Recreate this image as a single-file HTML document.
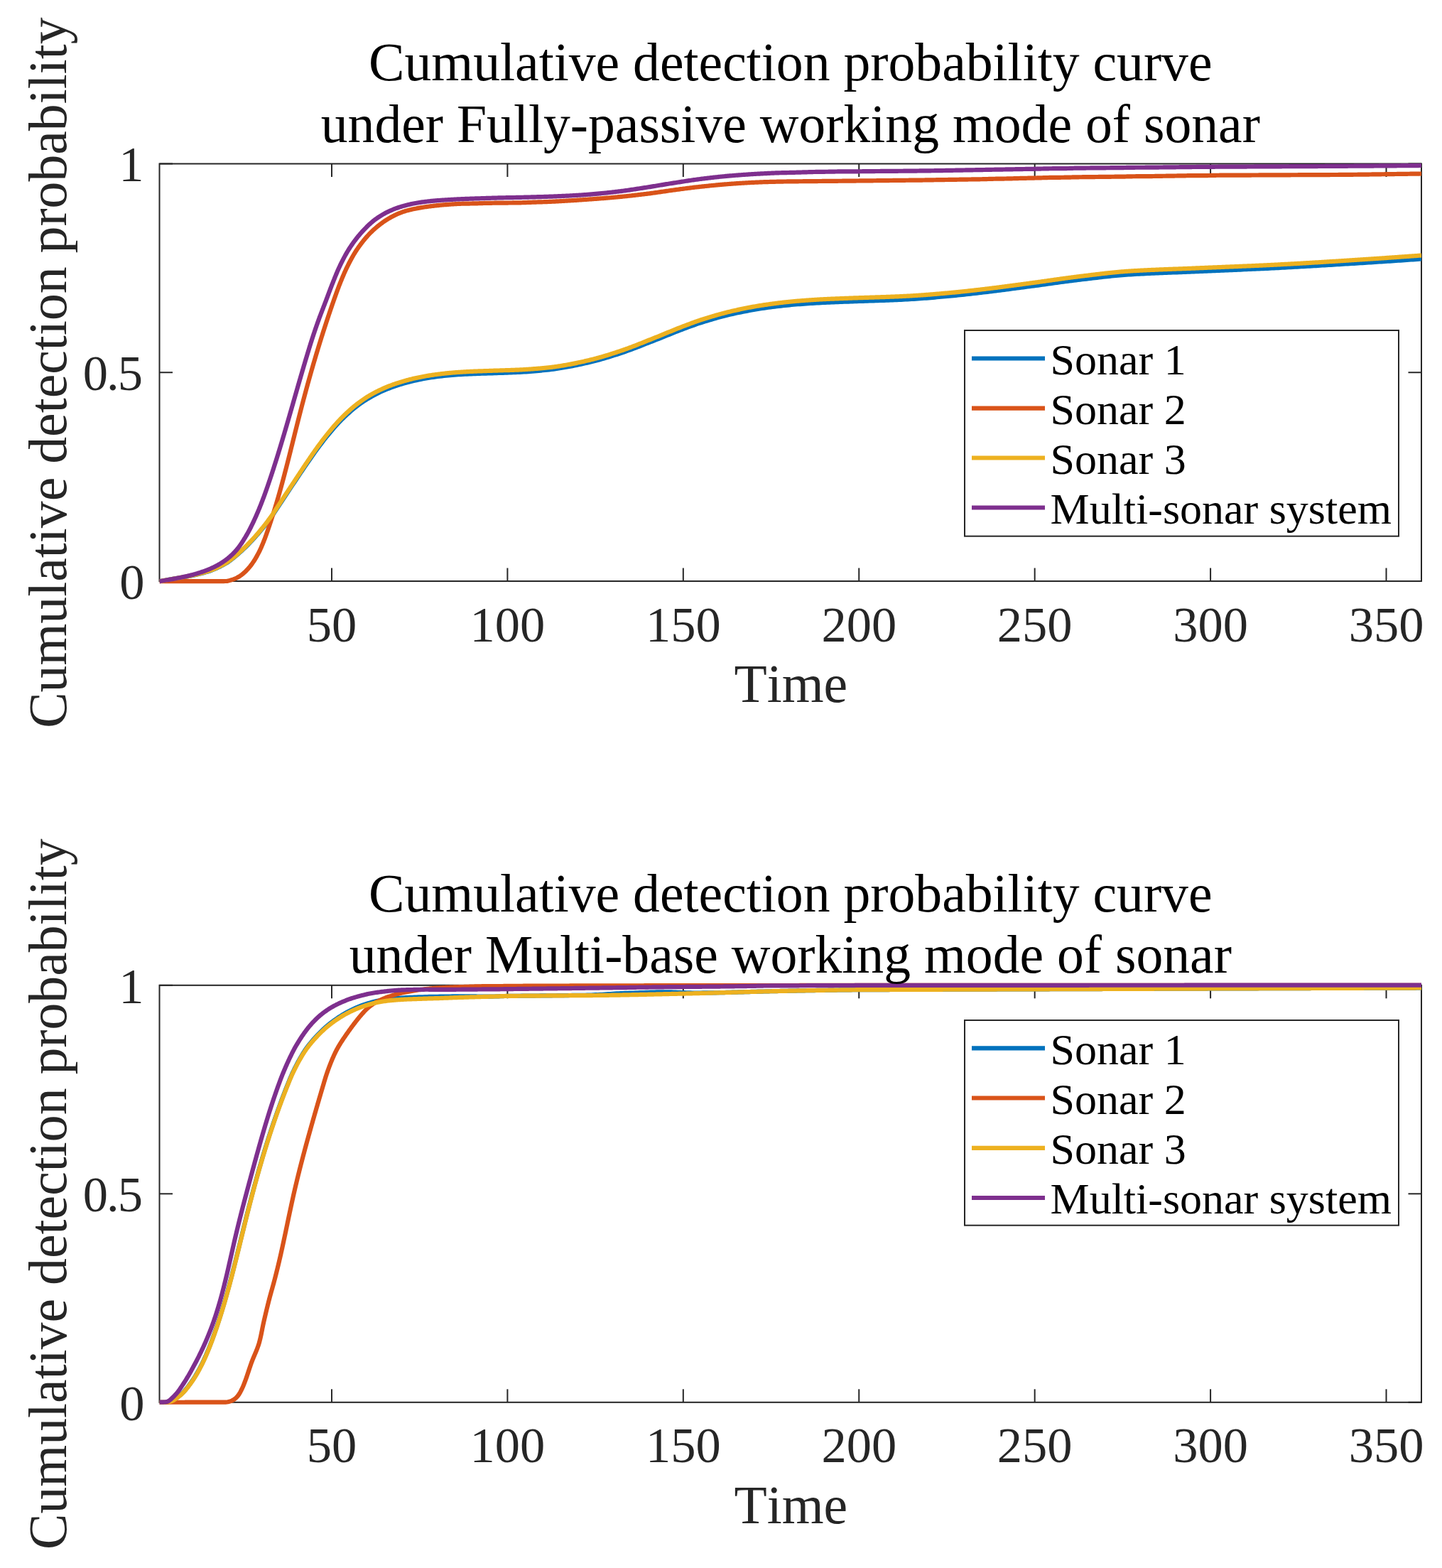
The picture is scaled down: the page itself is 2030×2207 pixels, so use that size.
<!DOCTYPE html>
<html><head><meta charset="utf-8"><title>Cumulative detection probability curves</title>
<style>html,body{margin:0;padding:0;background:#fff;}svg{display:block;}text{font-kerning:none;}</style>
</head><body>
<svg xmlns="http://www.w3.org/2000/svg" width="2030" height="2207" viewBox="0 0 2030 2207">
<defs><clipPath id="c1"><rect x="224.5" y="226.5" width="1776.5" height="595.5"/></clipPath><clipPath id="c2"><rect x="224.5" y="1382.8" width="1776.5" height="595.0"/></clipPath></defs>
<rect width="2030" height="2207" fill="#fff"/>
<g stroke="#262626" stroke-width="2" fill="none">
<line x1="466.97" y1="818.0" x2="466.97" y2="799.5"/><line x1="466.97" y1="230.5" x2="466.97" y2="249.0"/>
<line x1="714.40" y1="818.0" x2="714.40" y2="799.5"/><line x1="714.40" y1="230.5" x2="714.40" y2="249.0"/>
<line x1="961.82" y1="818.0" x2="961.82" y2="799.5"/><line x1="961.82" y1="230.5" x2="961.82" y2="249.0"/>
<line x1="1209.25" y1="818.0" x2="1209.25" y2="799.5"/><line x1="1209.25" y1="230.5" x2="1209.25" y2="249.0"/>
<line x1="1456.67" y1="818.0" x2="1456.67" y2="799.5"/><line x1="1456.67" y1="230.5" x2="1456.67" y2="249.0"/>
<line x1="1704.09" y1="818.0" x2="1704.09" y2="799.5"/><line x1="1704.09" y1="230.5" x2="1704.09" y2="249.0"/>
<line x1="1951.52" y1="818.0" x2="1951.52" y2="799.5"/><line x1="1951.52" y1="230.5" x2="1951.52" y2="249.0"/>
<line x1="224.5" y1="818.00" x2="243.0" y2="818.00"/><line x1="2001.0" y1="818.00" x2="1982.5" y2="818.00"/>
<line x1="224.5" y1="524.25" x2="243.0" y2="524.25"/><line x1="2001.0" y1="524.25" x2="1982.5" y2="524.25"/>
<line x1="224.5" y1="230.50" x2="243.0" y2="230.50"/><line x1="2001.0" y1="230.50" x2="1982.5" y2="230.50"/>
<rect x="224.5" y="230.5" width="1776.5" height="587.5"/>
</g>
<g clip-path="url(#c1)" fill="none" stroke-width="6.2" stroke-linejoin="round" stroke-linecap="butt">
<path d="M224.50,818.30 L227.47,817.76 L230.43,817.22 L233.40,816.69 L236.36,816.15 L239.33,815.62 L242.29,815.10 L245.26,814.57 L248.23,814.06 L251.19,813.57 L254.16,813.08 L257.12,812.59 L260.09,812.09 L263.06,811.57 L266.02,811.02 L268.99,810.42 L271.95,809.80 L274.92,809.16 L277.88,808.48 L280.85,807.77 L283.82,807.02 L286.78,806.23 L289.75,805.39 L292.71,804.47 L295.68,803.47 L298.64,802.38 L301.61,801.21 L304.58,799.93 L307.54,798.56 L310.51,797.10 L313.47,795.55 L316.44,793.91 L319.40,792.10 L322.37,790.07 L325.34,787.89 L328.30,785.58 L331.27,783.15 L334.23,780.63 L337.20,778.02 L340.17,775.36 L343.13,772.59 L346.10,769.70 L349.06,766.71 L352.03,763.65 L354.99,760.53 L357.96,757.34 L360.93,754.04 L363.89,750.62 L366.86,747.08 L369.82,743.45 L372.79,739.73 L375.75,735.92 L378.72,732.01 L381.69,727.95 L384.65,723.69 L387.62,719.29 L390.58,714.79 L393.55,710.24 L396.52,705.69 L399.48,701.19 L402.45,696.72 L405.41,692.26 L408.38,687.82 L411.34,683.38 L414.31,678.95 L417.28,674.52 L420.24,670.08 L423.21,665.64 L426.17,661.22 L429.14,656.83 L432.10,652.50 L435.07,648.21 L438.04,643.93 L441.00,639.69 L443.97,635.51 L446.93,631.42 L449.90,627.43 L452.86,623.54 L455.83,619.71 L458.80,615.94 L461.76,612.26 L464.73,608.66 L467.69,605.16 L470.66,601.76 L473.63,598.45 L476.59,595.25 L479.56,592.16 L482.52,589.18 L485.49,586.32 L488.45,583.54 L491.42,580.84 L494.39,578.24 L497.35,575.75 L500.32,573.36 L503.28,571.08 L506.25,568.88 L509.21,566.76 L512.18,564.73 L515.15,562.80 L518.11,560.96 L521.08,559.21 L524.04,557.53 L527.01,555.93 L529.97,554.40 L532.94,552.94 L535.91,551.55 L538.87,550.23 L541.84,548.96 L544.80,547.73 L547.77,546.56 L550.74,545.43 L553.70,544.35 L556.67,543.32 L559.63,542.35 L562.60,541.41 L565.56,540.51 L568.53,539.63 L571.50,538.79 L574.46,537.98 L577.43,537.21 L580.39,536.48 L583.36,535.78 L586.32,535.12 L589.29,534.50 L592.26,533.89 L595.22,533.31 L598.19,532.76 L601.15,532.23 L604.12,531.74 L607.09,531.26 L610.05,530.82 L613.02,530.42 L615.98,530.03 L618.95,529.66 L621.91,529.31 L624.88,528.98 L627.85,528.66 L630.81,528.38 L633.78,528.11 L636.74,527.86 L639.71,527.64 L642.67,527.43 L645.64,527.23 L648.61,527.04 L651.57,526.87 L654.54,526.70 L657.50,526.55 L660.47,526.41 L663.43,526.28 L666.40,526.16 L669.37,526.05 L672.33,525.94 L675.30,525.85 L678.26,525.76 L681.23,525.66 L684.20,525.57 L687.16,525.48 L690.13,525.38 L693.09,525.29 L696.06,525.20 L699.02,525.10 L701.99,525.01 L704.96,524.91 L707.92,524.80 L710.89,524.70 L713.85,524.59 L716.82,524.49 L719.78,524.38 L722.75,524.27 L725.72,524.14 L728.68,524.00 L731.65,523.85 L734.61,523.68 L737.58,523.49 L740.55,523.29 L743.51,523.08 L746.48,522.85 L749.44,522.61 L752.41,522.36 L755.37,522.10 L758.34,521.82 L761.31,521.54 L764.27,521.25 L767.24,520.94 L770.20,520.63 L773.17,520.31 L776.13,519.97 L779.10,519.58 L782.07,519.16 L785.03,518.72 L788.00,518.25 L790.96,517.77 L793.93,517.27 L796.89,516.75 L799.86,516.22 L802.83,515.66 L805.79,515.09 L808.76,514.51 L811.72,513.90 L814.69,513.28 L817.66,512.64 L820.62,511.99 L823.59,511.32 L826.55,510.64 L829.52,509.94 L832.48,509.23 L835.45,508.51 L838.42,507.75 L841.38,506.97 L844.35,506.16 L847.31,505.33 L850.28,504.47 L853.24,503.59 L856.21,502.70 L859.18,501.78 L862.14,500.85 L865.11,499.90 L868.07,498.94 L871.04,497.97 L874.01,496.99 L876.97,496.00 L879.94,494.99 L882.90,493.95 L885.87,492.88 L888.83,491.79 L891.80,490.68 L894.77,489.55 L897.73,488.41 L900.70,487.25 L903.66,486.09 L906.63,484.92 L909.59,483.74 L912.56,482.57 L915.53,481.41 L918.49,480.25 L921.46,479.10 L924.42,477.94 L927.39,476.76 L930.35,475.57 L933.32,474.38 L936.29,473.18 L939.25,471.98 L942.22,470.78 L945.18,469.58 L948.15,468.40 L951.12,467.22 L954.08,466.05 L957.05,464.90 L960.01,463.77 L962.98,462.66 L965.94,461.56 L968.91,460.46 L971.88,459.37 L974.84,458.29 L977.81,457.23 L980.77,456.19 L983.74,455.18 L986.70,454.20 L989.67,453.26 L992.64,452.34 L995.60,451.44 L998.57,450.55 L1001.53,449.67 L1004.50,448.81 L1007.46,447.96 L1010.43,447.13 L1013.40,446.32 L1016.36,445.53 L1019.33,444.75 L1022.29,444.00 L1025.26,443.28 L1028.23,442.57 L1031.19,441.89 L1034.16,441.23 L1037.12,440.59 L1040.09,439.97 L1043.05,439.35 L1046.02,438.75 L1048.99,438.17 L1051.95,437.60 L1054.92,437.04 L1057.88,436.50 L1060.85,435.98 L1063.81,435.48 L1066.78,434.99 L1069.75,434.52 L1072.71,434.06 L1075.68,433.63 L1078.64,433.21 L1081.61,432.80 L1084.58,432.40 L1087.54,432.02 L1090.51,431.64 L1093.47,431.27 L1096.44,430.91 L1099.40,430.56 L1102.37,430.23 L1105.34,429.91 L1108.30,429.60 L1111.27,429.31 L1114.23,429.03 L1117.20,428.77 L1120.16,428.52 L1123.13,428.28 L1126.10,428.05 L1129.06,427.82 L1132.03,427.61 L1134.99,427.40 L1137.96,427.20 L1140.92,427.01 L1143.89,426.82 L1146.86,426.64 L1149.82,426.47 L1152.79,426.30 L1155.75,426.14 L1158.72,425.99 L1161.69,425.84 L1164.65,425.70 L1167.62,425.56 L1170.58,425.44 L1173.55,425.32 L1176.51,425.21 L1179.48,425.09 L1182.45,424.98 L1185.41,424.88 L1188.38,424.76 L1191.34,424.65 L1194.31,424.54 L1197.27,424.43 L1200.24,424.32 L1203.21,424.22 L1206.17,424.12 L1209.14,424.02 L1212.10,423.92 L1215.07,423.82 L1218.04,423.72 L1221.00,423.62 L1223.97,423.52 L1226.93,423.42 L1229.90,423.32 L1232.86,423.22 L1235.83,423.12 L1238.80,423.02 L1241.76,422.91 L1244.73,422.80 L1247.69,422.69 L1250.66,422.58 L1253.62,422.46 L1256.59,422.34 L1259.56,422.21 L1262.52,422.08 L1265.49,421.95 L1268.45,421.81 L1271.42,421.66 L1274.38,421.51 L1277.35,421.35 L1280.32,421.19 L1283.28,421.01 L1286.25,420.83 L1289.21,420.63 L1292.18,420.43 L1295.15,420.21 L1298.11,420.00 L1301.08,419.77 L1304.04,419.54 L1307.01,419.30 L1309.97,419.05 L1312.94,418.80 L1315.91,418.54 L1318.87,418.28 L1321.84,418.02 L1324.80,417.75 L1327.77,417.48 L1330.73,417.21 L1333.70,416.94 L1336.67,416.66 L1339.63,416.38 L1342.60,416.10 L1345.56,415.82 L1348.53,415.52 L1351.49,415.22 L1354.46,414.91 L1357.43,414.59 L1360.39,414.26 L1363.36,413.93 L1366.32,413.60 L1369.29,413.26 L1372.26,412.91 L1375.22,412.57 L1378.19,412.22 L1381.15,411.86 L1384.12,411.51 L1387.08,411.16 L1390.05,410.80 L1393.02,410.45 L1395.98,410.09 L1398.95,409.72 L1401.91,409.35 L1404.88,408.98 L1407.84,408.60 L1410.81,408.22 L1413.78,407.84 L1416.74,407.45 L1419.71,407.07 L1422.67,406.68 L1425.64,406.29 L1428.61,405.89 L1431.57,405.50 L1434.54,405.11 L1437.50,404.71 L1440.47,404.32 L1443.43,403.92 L1446.40,403.53 L1449.37,403.14 L1452.33,402.75 L1455.30,402.36 L1458.26,401.96 L1461.23,401.57 L1464.19,401.16 L1467.16,400.76 L1470.13,400.35 L1473.09,399.93 L1476.06,399.52 L1479.02,399.11 L1481.99,398.69 L1484.95,398.28 L1487.92,397.86 L1490.89,397.45 L1493.85,397.05 L1496.82,396.64 L1499.78,396.24 L1502.75,395.85 L1505.72,395.46 L1508.68,395.08 L1511.65,394.70 L1514.61,394.33 L1517.58,393.98 L1520.54,393.63 L1523.51,393.28 L1526.48,392.93 L1529.44,392.57 L1532.41,392.22 L1535.37,391.86 L1538.34,391.51 L1541.30,391.16 L1544.27,390.81 L1547.24,390.46 L1550.20,390.12 L1553.17,389.79 L1556.13,389.46 L1559.10,389.13 L1562.07,388.82 L1565.03,388.51 L1568.00,388.22 L1570.96,387.93 L1573.93,387.66 L1576.89,387.40 L1579.86,387.15 L1582.83,386.91 L1585.79,386.69 L1588.76,386.49 L1591.72,386.30 L1594.69,386.12 L1597.65,385.95 L1600.62,385.78 L1603.59,385.62 L1606.55,385.46 L1609.52,385.30 L1612.48,385.16 L1615.45,385.01 L1618.41,384.87 L1621.38,384.74 L1624.35,384.60 L1627.31,384.47 L1630.28,384.35 L1633.24,384.22 L1636.21,384.10 L1639.18,383.98 L1642.14,383.86 L1645.11,383.74 L1648.07,383.63 L1651.04,383.51 L1654.00,383.40 L1656.97,383.28 L1659.94,383.17 L1662.90,383.05 L1665.87,382.93 L1668.83,382.81 L1671.80,382.70 L1674.76,382.57 L1677.73,382.45 L1680.70,382.33 L1683.66,382.20 L1686.63,382.07 L1689.59,381.93 L1692.56,381.80 L1695.53,381.67 L1698.49,381.54 L1701.46,381.41 L1704.42,381.28 L1707.39,381.16 L1710.35,381.03 L1713.32,380.90 L1716.29,380.78 L1719.25,380.65 L1722.22,380.53 L1725.18,380.40 L1728.15,380.28 L1731.11,380.15 L1734.08,380.03 L1737.05,379.90 L1740.01,379.78 L1742.98,379.65 L1745.94,379.53 L1748.91,379.40 L1751.87,379.27 L1754.84,379.14 L1757.81,379.01 L1760.77,378.88 L1763.74,378.75 L1766.70,378.61 L1769.67,378.48 L1772.64,378.34 L1775.60,378.21 L1778.57,378.07 L1781.53,377.93 L1784.50,377.78 L1787.46,377.64 L1790.43,377.49 L1793.40,377.34 L1796.36,377.19 L1799.33,377.04 L1802.29,376.89 L1805.26,376.73 L1808.22,376.57 L1811.19,376.41 L1814.16,376.25 L1817.12,376.09 L1820.09,375.92 L1823.05,375.76 L1826.02,375.59 L1828.98,375.42 L1831.95,375.25 L1834.92,375.08 L1837.88,374.91 L1840.85,374.74 L1843.81,374.57 L1846.78,374.39 L1849.75,374.22 L1852.71,374.04 L1855.68,373.86 L1858.64,373.69 L1861.61,373.51 L1864.57,373.33 L1867.54,373.15 L1870.51,372.97 L1873.47,372.79 L1876.44,372.61 L1879.40,372.43 L1882.37,372.25 L1885.33,372.06 L1888.30,371.88 L1891.27,371.70 L1894.23,371.52 L1897.20,371.34 L1900.16,371.16 L1903.13,370.97 L1906.10,370.79 L1909.06,370.61 L1912.03,370.42 L1914.99,370.23 L1917.96,370.05 L1920.92,369.86 L1923.89,369.67 L1926.86,369.48 L1929.82,369.29 L1932.79,369.10 L1935.75,368.91 L1938.72,368.72 L1941.68,368.52 L1944.65,368.33 L1947.62,368.13 L1950.58,367.94 L1953.55,367.74 L1956.51,367.54 L1959.48,367.35 L1962.44,367.15 L1965.41,366.95 L1968.38,366.75 L1971.34,366.55 L1974.31,366.35 L1977.27,366.14 L1980.24,365.94 L1983.21,365.74 L1986.17,365.53 L1989.14,365.33 L1992.10,365.12 L1995.07,364.92 L1998.03,364.71 L2001.00,364.50" stroke="#0072BD"/>
<path d="M224.50,818.20 L225.92,818.20 L227.34,818.19 L228.76,818.19 L230.18,818.18 L231.60,818.18 L233.02,818.18 L234.44,818.17 L235.86,818.17 L237.28,818.16 L238.70,818.16 L240.12,818.16 L241.54,818.15 L242.96,818.15 L244.38,818.14 L245.80,818.14 L247.22,818.13 L248.64,818.13 L250.06,818.12 L251.48,818.12 L252.89,818.11 L254.31,818.11 L255.73,818.11 L257.15,818.10 L258.57,818.10 L259.99,818.10 L261.41,818.10 L262.83,818.10 L264.25,818.10 L265.67,818.10 L267.09,818.10 L268.51,818.10 L269.93,818.10 L271.35,818.10 L272.77,818.10 L274.19,818.10 L275.61,818.10 L277.03,818.10 L278.45,818.10 L279.87,818.10 L281.29,818.10 L282.71,818.10 L284.13,818.10 L285.55,818.10 L286.97,818.10 L288.39,818.10 L289.81,818.10 L291.23,818.10 L292.65,818.10 L294.07,818.10 L295.49,818.10 L296.91,818.10 L298.33,818.10 L299.75,818.10 L301.17,818.10 L302.59,818.10 L304.01,818.10 L305.44,818.09 L306.87,818.09 L308.29,818.08 L309.72,818.07 L311.14,818.07 L312.56,818.06 L313.97,818.04 L315.39,818.03 L316.80,818.01 L318.20,818.00 L319.60,817.87 L321.00,817.60 L322.39,817.25 L323.77,816.86 L325.14,816.47 L326.50,816.07 L327.85,815.62 L329.19,815.13 L330.52,814.60 L331.82,814.03 L333.09,813.43 L334.34,812.78 L335.59,812.07 L336.81,811.32 L338.00,810.54 L339.17,809.73 L340.31,808.90 L341.42,808.04 L342.52,807.14 L343.59,806.20 L344.65,805.24 L345.69,804.25 L346.70,803.25 L347.69,802.22 L348.67,801.19 L349.61,800.15 L350.54,799.08 L351.45,797.99 L352.34,796.88 L353.21,795.75 L354.07,794.60 L354.90,793.45 L355.71,792.29 L356.50,791.12 L357.28,789.94 L358.05,788.74 L358.80,787.53 L359.53,786.32 L360.26,785.09 L360.97,783.86 L361.67,782.62 L362.36,781.37 L363.03,780.12 L363.70,778.87 L364.35,777.61 L364.99,776.34 L365.61,775.07 L366.22,773.78 L366.81,772.49 L367.40,771.20 L367.97,769.90 L368.53,768.60 L369.09,767.29 L369.64,765.98 L370.18,764.67 L370.71,763.35 L371.24,762.03 L371.76,760.71 L372.28,759.39 L372.78,758.06 L373.28,756.73 L373.78,755.40 L374.26,754.07 L374.74,752.73 L375.22,751.39 L375.69,750.05 L376.16,748.72 L376.63,747.38 L377.10,746.04 L377.56,744.69 L378.02,743.35 L378.48,742.01 L378.94,740.66 L379.40,739.32 L379.85,737.97 L380.30,736.62 L380.75,735.28 L381.19,733.93 L381.63,732.58 L382.07,731.23 L382.51,729.88 L382.94,728.53 L383.37,727.17 L383.80,725.82 L384.23,724.47 L384.65,723.11 L385.07,721.76 L385.50,720.40 L385.92,719.05 L386.33,717.69 L386.75,716.33 L387.16,714.97 L387.58,713.61 L387.99,712.25 L388.40,710.89 L388.80,709.53 L389.21,708.17 L389.61,706.81 L390.01,705.45 L390.41,704.09 L390.81,702.73 L391.21,701.36 L391.61,700.00 L392.00,698.64 L392.39,697.27 L392.78,695.91 L393.17,694.54 L393.56,693.18 L393.94,691.81 L394.33,690.44 L394.71,689.07 L395.09,687.71 L395.47,686.34 L395.84,684.97 L396.22,683.60 L396.59,682.23 L396.97,680.86 L397.34,679.49 L397.71,678.12 L398.08,676.75 L398.45,675.38 L398.82,674.01 L399.19,672.64 L399.55,671.26 L399.92,669.89 L400.28,668.52 L400.64,667.15 L401.00,665.77 L401.36,664.40 L401.72,663.03 L402.08,661.65 L402.44,660.28 L402.79,658.90 L403.15,657.53 L403.50,656.15 L403.86,654.78 L404.21,653.40 L404.57,652.03 L404.92,650.65 L405.27,649.28 L405.62,647.90 L405.98,646.53 L406.33,645.15 L406.67,643.78 L407.02,642.40 L407.37,641.02 L407.72,639.65 L408.06,638.27 L408.41,636.89 L408.76,635.52 L409.10,634.14 L409.45,632.76 L409.79,631.38 L410.14,630.01 L410.48,628.63 L410.83,627.25 L411.17,625.88 L411.52,624.50 L411.86,623.12 L412.21,621.74 L412.55,620.37 L412.90,618.99 L413.24,617.61 L413.58,616.23 L413.93,614.86 L414.27,613.48 L414.61,612.10 L414.96,610.72 L415.30,609.35 L415.64,607.97 L415.99,606.59 L416.33,605.21 L416.68,603.84 L417.02,602.46 L417.37,601.08 L417.72,599.71 L418.06,598.33 L418.41,596.95 L418.76,595.58 L419.11,594.20 L419.45,592.82 L419.80,591.45 L420.15,590.07 L420.50,588.69 L420.85,587.32 L421.20,585.94 L421.55,584.57 L421.90,583.19 L422.25,581.81 L422.60,580.44 L422.96,579.06 L423.31,577.69 L423.66,576.32 L424.02,574.94 L424.38,573.57 L424.74,572.19 L425.09,570.82 L425.45,569.45 L425.81,568.07 L426.17,566.70 L426.54,565.33 L426.90,563.95 L427.26,562.58 L427.62,561.21 L427.99,559.84 L428.36,558.46 L428.72,557.09 L429.09,555.72 L429.46,554.35 L429.83,552.98 L430.20,551.61 L430.57,550.24 L430.94,548.87 L431.31,547.50 L431.69,546.13 L432.06,544.76 L432.44,543.39 L432.81,542.02 L433.19,540.65 L433.57,539.28 L433.95,537.92 L434.33,536.55 L434.71,535.18 L435.09,533.81 L435.47,532.45 L435.86,531.08 L436.24,529.71 L436.63,528.35 L437.01,526.98 L437.40,525.61 L437.79,524.25 L438.18,522.88 L438.57,521.52 L438.96,520.15 L439.35,518.79 L439.75,517.42 L440.14,516.06 L440.54,514.70 L440.93,513.33 L441.33,511.97 L441.73,510.61 L442.13,509.25 L442.53,507.88 L442.93,506.52 L443.33,505.16 L443.74,503.80 L444.14,502.44 L444.54,501.08 L444.95,499.72 L445.36,498.36 L445.77,497.00 L446.18,495.64 L446.59,494.28 L447.00,492.92 L447.41,491.56 L447.82,490.20 L448.24,488.84 L448.65,487.49 L449.07,486.13 L449.49,484.77 L449.91,483.42 L450.33,482.06 L450.75,480.70 L451.17,479.35 L451.59,477.99 L452.02,476.64 L452.44,475.28 L452.87,473.93 L453.30,472.58 L453.72,471.22 L454.15,469.87 L454.58,468.52 L455.02,467.16 L455.45,465.81 L455.88,464.46 L456.32,463.11 L456.75,461.76 L457.19,460.41 L457.63,459.06 L458.07,457.70 L458.51,456.36 L458.95,455.01 L459.39,453.66 L459.84,452.31 L460.28,450.96 L460.73,449.61 L461.17,448.26 L461.62,446.92 L462.07,445.57 L462.52,444.22 L462.97,442.88 L463.42,441.53 L463.87,440.18 L464.33,438.84 L464.78,437.49 L465.24,436.15 L465.70,434.81 L466.16,433.46 L466.62,432.12 L467.08,430.78 L467.54,429.44 L468.01,428.09 L468.48,426.75 L468.95,425.41 L469.42,424.08 L469.89,422.74 L470.36,421.40 L470.83,420.06 L471.31,418.72 L471.78,417.38 L472.26,416.04 L472.73,414.70 L473.21,413.37 L473.69,412.03 L474.18,410.69 L474.67,409.36 L475.16,408.03 L475.65,406.70 L476.15,405.37 L476.66,404.04 L477.16,402.72 L477.68,401.39 L478.20,400.07 L478.72,398.76 L479.25,397.44 L479.78,396.12 L480.31,394.80 L480.85,393.49 L481.39,392.17 L481.93,390.86 L482.48,389.54 L483.03,388.23 L483.59,386.92 L484.16,385.62 L484.72,384.32 L485.30,383.02 L485.88,381.72 L486.47,380.43 L487.07,379.14 L487.67,377.86 L488.28,376.59 L488.90,375.31 L489.53,374.04 L490.16,372.78 L490.80,371.51 L491.45,370.24 L492.10,368.98 L492.77,367.71 L493.44,366.45 L494.11,365.19 L494.80,363.94 L495.49,362.69 L496.19,361.45 L496.90,360.21 L497.62,358.98 L498.35,357.76 L499.08,356.55 L499.83,355.34 L500.58,354.14 L501.35,352.96 L502.12,351.78 L502.91,350.61 L503.70,349.46 L504.51,348.30 L505.33,347.14 L506.16,345.99 L507.00,344.84 L507.85,343.69 L508.71,342.55 L509.59,341.41 L510.47,340.28 L511.36,339.16 L512.27,338.04 L513.18,336.93 L514.10,335.83 L515.03,334.74 L515.97,333.66 L516.92,332.59 L517.88,331.53 L518.85,330.49 L519.82,329.46 L520.80,328.44 L521.79,327.44 L522.79,326.45 L523.80,325.48 L524.81,324.52 L525.84,323.57 L526.88,322.63 L527.93,321.69 L529.00,320.76 L530.08,319.84 L531.18,318.93 L532.29,318.02 L533.41,317.12 L534.54,316.24 L535.68,315.36 L536.83,314.50 L537.99,313.64 L539.15,312.81 L540.33,311.98 L541.51,311.17 L542.70,310.38 L543.90,309.61 L545.10,308.85 L546.31,308.11 L547.52,307.39 L548.74,306.69 L549.96,306.00 L551.19,305.33 L552.43,304.67 L553.69,304.01 L554.96,303.37 L556.25,302.74 L557.54,302.12 L558.84,301.52 L560.15,300.93 L561.46,300.37 L562.79,299.82 L564.12,299.29 L565.45,298.79 L566.78,298.31 L568.12,297.86 L569.46,297.44 L570.81,297.03 L572.16,296.64 L573.53,296.27 L574.90,295.91 L576.28,295.56 L577.66,295.22 L579.05,294.90 L580.44,294.58 L581.83,294.28 L583.23,293.99 L584.63,293.71 L586.03,293.43 L587.42,293.17 L588.82,292.91 L590.21,292.66 L591.61,292.42 L593.01,292.18 L594.41,291.95 L595.81,291.73 L597.22,291.51 L598.62,291.30 L600.03,291.10 L601.44,290.90 L602.84,290.71 L604.25,290.52 L605.66,290.34 L607.07,290.17 L608.48,290.00 L609.89,289.83 L611.30,289.67 L612.71,289.51 L614.12,289.35 L615.53,289.20 L616.94,289.05 L618.36,288.90 L619.77,288.77 L621.18,288.63 L622.60,288.50 L624.01,288.38 L625.43,288.26 L626.84,288.15 L628.26,288.04 L629.67,287.93 L631.09,287.83 L632.51,287.72 L633.92,287.62 L635.34,287.52 L636.76,287.42 L638.17,287.33 L639.59,287.23 L641.01,287.15 L642.43,287.07 L643.84,286.99 L645.26,286.92 L646.68,286.86 L648.10,286.81 L649.52,286.76 L650.94,286.72 L652.35,286.69 L653.77,286.66 L655.19,286.63 L656.61,286.60 L658.03,286.58 L659.45,286.56 L660.87,286.54 L662.29,286.51 L663.71,286.49 L665.13,286.46 L666.55,286.44 L667.97,286.41 L669.39,286.37 L670.81,286.33 L672.23,286.29 L673.65,286.25 L675.07,286.20 L676.48,286.15 L677.90,286.10 L679.32,286.05 L680.74,286.01 L682.16,285.96 L683.58,285.92 L685.00,285.89 L686.42,285.86 L687.84,285.84 L689.26,285.82 L690.68,285.80 L692.10,285.78 L693.52,285.76 L694.94,285.74 L696.36,285.72 L697.78,285.71 L699.19,285.69 L700.61,285.68 L702.03,285.67 L703.45,285.65 L704.87,285.64 L706.29,285.62 L707.71,285.61 L709.13,285.59 L710.55,285.58 L711.97,285.56 L713.39,285.55 L714.81,285.54 L716.23,285.52 L717.65,285.51 L719.07,285.50 L720.49,285.48 L721.91,285.47 L723.33,285.46 L724.75,285.44 L726.17,285.42 L727.59,285.40 L729.01,285.38 L730.43,285.36 L731.85,285.33 L733.27,285.30 L734.69,285.26 L736.10,285.22 L737.52,285.17 L738.94,285.12 L740.36,285.07 L741.78,285.02 L743.20,284.96 L744.62,284.91 L746.04,284.85 L747.46,284.80 L748.87,284.74 L750.29,284.69 L751.71,284.64 L753.13,284.60 L754.55,284.55 L755.97,284.51 L757.39,284.46 L758.81,284.42 L760.23,284.37 L761.65,284.33 L763.06,284.28 L764.48,284.24 L765.90,284.19 L767.32,284.14 L768.74,284.09 L770.16,284.04 L771.58,283.98 L773.00,283.93 L774.41,283.87 L775.83,283.80 L777.25,283.74 L778.67,283.67 L780.09,283.60 L781.50,283.53 L782.92,283.46 L784.34,283.38 L785.76,283.31 L787.18,283.23 L788.59,283.15 L790.01,283.07 L791.43,282.99 L792.85,282.90 L794.26,282.82 L795.68,282.74 L797.10,282.65 L798.52,282.57 L799.93,282.49 L801.35,282.40 L802.77,282.32 L804.18,282.23 L805.60,282.15 L807.02,282.06 L808.44,281.97 L809.85,281.88 L811.27,281.79 L812.69,281.70 L814.10,281.61 L815.52,281.51 L816.94,281.42 L818.35,281.32 L819.77,281.23 L821.19,281.13 L822.60,281.03 L824.02,280.93 L825.43,280.83 L826.85,280.73 L828.27,280.63 L829.68,280.53 L831.10,280.43 L832.52,280.33 L833.93,280.23 L835.35,280.12 L836.76,280.02 L838.18,279.91 L839.60,279.81 L841.01,279.70 L842.43,279.60 L843.84,279.49 L845.26,279.38 L846.68,279.27 L848.09,279.16 L849.51,279.05 L850.92,278.93 L852.34,278.82 L853.75,278.70 L855.17,278.59 L856.58,278.47 L858.00,278.35 L859.41,278.23 L860.83,278.11 L862.24,277.98 L863.65,277.86 L865.07,277.73 L866.48,277.60 L867.89,277.47 L869.31,277.34 L870.72,277.21 L872.13,277.07 L873.55,276.94 L874.96,276.80 L876.37,276.66 L877.78,276.52 L879.20,276.37 L880.61,276.23 L882.02,276.08 L883.43,275.93 L884.85,275.78 L886.26,275.63 L887.67,275.47 L889.08,275.32 L890.49,275.16 L891.90,275.00 L893.32,274.84 L894.73,274.68 L896.14,274.52 L897.55,274.36 L898.96,274.20 L900.37,274.03 L901.78,273.86 L903.19,273.70 L904.60,273.53 L906.01,273.36 L907.42,273.19 L908.83,273.02 L910.23,272.85 L911.64,272.67 L913.05,272.49 L914.46,272.31 L915.87,272.12 L917.27,271.94 L918.68,271.74 L920.09,271.55 L921.49,271.35 L922.90,271.16 L924.30,270.96 L925.71,270.75 L927.11,270.55 L928.52,270.35 L929.92,270.14 L931.33,269.94 L932.73,269.73 L934.14,269.52 L935.54,269.32 L936.95,269.11 L938.35,268.91 L939.76,268.70 L941.16,268.50 L942.57,268.30 L943.98,268.10 L945.38,267.90 L946.79,267.70 L948.19,267.50 L949.60,267.31 L951.01,267.12 L952.41,266.93 L953.82,266.75 L955.23,266.56 L956.64,266.38 L958.05,266.20 L959.45,266.01 L960.86,265.83 L962.27,265.64 L963.68,265.46 L965.09,265.28 L966.49,265.10 L967.90,264.92 L969.31,264.74 L970.72,264.56 L972.13,264.39 L973.54,264.21 L974.95,264.04 L976.36,263.87 L977.77,263.70 L979.18,263.54 L980.59,263.37 L982.00,263.21 L983.41,263.05 L984.82,262.90 L986.23,262.75 L987.64,262.60 L989.05,262.45 L990.46,262.30 L991.88,262.15 L993.29,262.00 L994.70,261.85 L996.11,261.71 L997.53,261.56 L998.94,261.42 L1000.35,261.28 L1001.76,261.14 L1003.18,261.00 L1004.59,260.86 L1006.01,260.72 L1007.42,260.59 L1008.83,260.45 L1010.25,260.32 L1011.66,260.19 L1013.08,260.06 L1014.49,259.93 L1015.90,259.81 L1017.32,259.69 L1018.73,259.57 L1020.15,259.45 L1021.56,259.33 L1022.98,259.22 L1024.39,259.11 L1025.81,259.00 L1027.22,258.90 L1028.64,258.80 L1030.06,258.70 L1031.47,258.60 L1032.89,258.50 L1034.30,258.40 L1035.72,258.31 L1037.14,258.21 L1038.55,258.12 L1039.97,258.03 L1041.39,257.93 L1042.80,257.84 L1044.22,257.75 L1045.64,257.67 L1047.06,257.58 L1048.47,257.49 L1049.89,257.41 L1051.31,257.33 L1052.73,257.25 L1054.14,257.17 L1055.56,257.09 L1056.98,257.02 L1058.40,256.94 L1059.82,256.87 L1061.23,256.80 L1062.65,256.73 L1064.07,256.67 L1065.49,256.60 L1066.91,256.54 L1068.33,256.48 L1069.74,256.42 L1071.16,256.37 L1072.58,256.32 L1074.00,256.27 L1075.42,256.22 L1076.84,256.17 L1078.26,256.13 L1079.68,256.08 L1081.09,256.04 L1082.51,256.00 L1083.93,255.96 L1085.35,255.92 L1086.77,255.88 L1088.19,255.85 L1089.61,255.81 L1091.03,255.78 L1092.45,255.74 L1093.87,255.71 L1095.29,255.68 L1096.71,255.65 L1098.13,255.62 L1099.55,255.60 L1100.97,255.57 L1102.39,255.54 L1103.81,255.52 L1105.23,255.50 L1106.64,255.48 L1108.06,255.45 L1109.48,255.43 L1110.90,255.41 L1112.32,255.40 L1113.74,255.38 L1115.16,255.36 L1116.58,255.35 L1118.00,255.33 L1119.42,255.32 L1120.84,255.30 L1122.26,255.29 L1123.68,255.28 L1125.10,255.27 L1126.52,255.26 L1127.94,255.24 L1129.36,255.23 L1130.78,255.22 L1132.20,255.21 L1133.62,255.19 L1135.04,255.18 L1136.46,255.17 L1137.88,255.15 L1139.30,255.14 L1140.72,255.13 L1142.14,255.11 L1143.56,255.10 L1144.98,255.09 L1146.40,255.08 L1147.82,255.06 L1149.23,255.05 L1150.65,255.04 L1152.07,255.02 L1153.49,255.01 L1154.91,255.00 L1156.33,254.98 L1157.75,254.97 L1159.17,254.96 L1160.59,254.95 L1162.01,254.93 L1163.43,254.92 L1164.85,254.91 L1166.27,254.89 L1167.69,254.88 L1169.11,254.87 L1170.53,254.85 L1171.95,254.84 L1173.37,254.83 L1174.79,254.82 L1176.21,254.80 L1177.63,254.79 L1179.05,254.78 L1180.47,254.76 L1181.89,254.75 L1183.31,254.74 L1184.73,254.73 L1186.15,254.71 L1187.57,254.70 L1188.99,254.69 L1190.41,254.67 L1191.83,254.66 L1193.25,254.65 L1194.66,254.63 L1196.08,254.62 L1197.50,254.60 L1198.92,254.59 L1200.34,254.57 L1201.76,254.56 L1203.18,254.54 L1204.60,254.53 L1206.02,254.51 L1207.44,254.50 L1208.86,254.48 L1210.28,254.47 L1211.70,254.46 L1213.12,254.44 L1214.54,254.43 L1215.96,254.42 L1217.38,254.40 L1218.80,254.39 L1220.22,254.38 L1221.64,254.36 L1223.06,254.35 L1224.48,254.33 L1225.90,254.32 L1227.32,254.30 L1228.74,254.29 L1230.16,254.27 L1231.58,254.26 L1233.00,254.24 L1234.42,254.22 L1235.84,254.21 L1237.25,254.19 L1238.67,254.18 L1240.09,254.16 L1241.51,254.14 L1242.93,254.13 L1244.35,254.11 L1245.77,254.10 L1247.19,254.08 L1248.61,254.07 L1250.03,254.05 L1251.45,254.04 L1252.87,254.02 L1254.29,254.00 L1255.71,253.99 L1257.13,253.97 L1258.55,253.96 L1259.97,253.94 L1261.39,253.93 L1262.81,253.91 L1264.23,253.89 L1265.65,253.88 L1267.07,253.86 L1268.49,253.85 L1269.91,253.83 L1271.33,253.82 L1272.75,253.80 L1274.17,253.78 L1275.59,253.77 L1277.01,253.75 L1278.43,253.74 L1279.84,253.72 L1281.26,253.71 L1282.68,253.69 L1284.10,253.68 L1285.52,253.66 L1286.94,253.65 L1288.36,253.63 L1289.78,253.62 L1291.20,253.60 L1292.62,253.59 L1294.04,253.57 L1295.46,253.56 L1296.88,253.54 L1298.30,253.53 L1299.72,253.51 L1301.14,253.49 L1302.56,253.47 L1303.98,253.45 L1305.40,253.43 L1306.82,253.41 L1308.24,253.38 L1309.66,253.36 L1311.08,253.33 L1312.50,253.31 L1313.92,253.29 L1315.34,253.26 L1316.75,253.24 L1318.17,253.22 L1319.59,253.20 L1321.01,253.18 L1322.43,253.15 L1323.85,253.13 L1325.27,253.11 L1326.69,253.09 L1328.11,253.07 L1329.53,253.05 L1330.95,253.02 L1332.37,253.00 L1333.79,252.98 L1335.21,252.96 L1336.63,252.94 L1338.05,252.91 L1339.47,252.89 L1340.89,252.87 L1342.31,252.85 L1343.73,252.83 L1345.15,252.80 L1346.57,252.78 L1347.99,252.76 L1349.41,252.74 L1350.82,252.72 L1352.24,252.70 L1353.66,252.67 L1355.08,252.65 L1356.50,252.63 L1357.92,252.61 L1359.34,252.59 L1360.76,252.56 L1362.18,252.54 L1363.60,252.52 L1365.02,252.50 L1366.44,252.48 L1367.86,252.46 L1369.28,252.44 L1370.70,252.42 L1372.12,252.40 L1373.54,252.38 L1374.96,252.36 L1376.38,252.33 L1377.80,252.31 L1379.22,252.29 L1380.64,252.26 L1382.06,252.23 L1383.47,252.20 L1384.89,252.16 L1386.31,252.12 L1387.73,252.07 L1389.15,252.03 L1390.57,251.99 L1391.99,251.94 L1393.41,251.90 L1394.83,251.86 L1396.25,251.82 L1397.67,251.79 L1399.09,251.76 L1400.51,251.74 L1401.92,251.71 L1403.34,251.69 L1404.76,251.67 L1406.18,251.65 L1407.60,251.63 L1409.02,251.61 L1410.44,251.58 L1411.86,251.56 L1413.28,251.54 L1414.70,251.52 L1416.12,251.49 L1417.54,251.46 L1418.96,251.43 L1420.38,251.40 L1421.80,251.36 L1423.22,251.32 L1424.64,251.28 L1426.06,251.24 L1427.47,251.20 L1428.89,251.16 L1430.31,251.12 L1431.73,251.08 L1433.15,251.04 L1434.57,251.00 L1435.99,250.96 L1437.41,250.93 L1438.83,250.89 L1440.25,250.86 L1441.67,250.83 L1443.09,250.81 L1444.51,250.78 L1445.93,250.75 L1447.35,250.72 L1448.76,250.69 L1450.18,250.67 L1451.60,250.64 L1453.02,250.61 L1454.44,250.58 L1455.86,250.55 L1457.28,250.52 L1458.70,250.48 L1460.12,250.44 L1461.54,250.40 L1462.96,250.36 L1464.38,250.32 L1465.80,250.28 L1467.22,250.23 L1468.64,250.19 L1470.05,250.15 L1471.47,250.11 L1472.89,250.07 L1474.31,250.04 L1475.73,250.00 L1477.15,249.97 L1478.57,249.95 L1479.99,249.93 L1481.41,249.91 L1482.83,249.89 L1484.25,249.87 L1485.67,249.86 L1487.09,249.84 L1488.51,249.83 L1489.93,249.82 L1491.35,249.80 L1492.77,249.79 L1494.19,249.77 L1495.61,249.76 L1497.03,249.74 L1498.45,249.72 L1499.86,249.70 L1501.28,249.67 L1502.70,249.64 L1504.12,249.61 L1505.54,249.57 L1506.96,249.54 L1508.38,249.50 L1509.80,249.46 L1511.22,249.42 L1512.64,249.39 L1514.06,249.36 L1515.48,249.33 L1516.90,249.31 L1518.32,249.29 L1519.74,249.27 L1521.16,249.25 L1522.58,249.23 L1524.00,249.22 L1525.42,249.21 L1526.83,249.19 L1528.25,249.18 L1529.67,249.16 L1531.09,249.15 L1532.51,249.13 L1533.93,249.12 L1535.35,249.10 L1536.77,249.08 L1538.19,249.07 L1539.61,249.05 L1541.03,249.03 L1542.45,249.02 L1543.87,249.00 L1545.29,248.99 L1546.71,248.97 L1548.13,248.95 L1549.55,248.94 L1550.97,248.92 L1552.39,248.91 L1553.81,248.89 L1555.23,248.87 L1556.65,248.86 L1558.07,248.84 L1559.49,248.83 L1560.91,248.81 L1562.33,248.79 L1563.75,248.78 L1565.17,248.76 L1566.59,248.75 L1568.00,248.73 L1569.42,248.72 L1570.84,248.70 L1572.26,248.69 L1573.68,248.67 L1575.10,248.66 L1576.52,248.64 L1577.94,248.62 L1579.36,248.60 L1580.78,248.58 L1582.20,248.56 L1583.62,248.53 L1585.04,248.50 L1586.46,248.47 L1587.88,248.43 L1589.30,248.39 L1590.72,248.36 L1592.14,248.32 L1593.56,248.29 L1594.98,248.27 L1596.40,248.25 L1597.81,248.23 L1599.23,248.22 L1600.65,248.21 L1602.07,248.20 L1603.49,248.20 L1604.91,248.19 L1606.33,248.18 L1607.75,248.18 L1609.17,248.17 L1610.59,248.16 L1612.01,248.15 L1613.43,248.14 L1614.85,248.13 L1616.27,248.11 L1617.69,248.09 L1619.11,248.07 L1620.53,248.05 L1621.95,248.03 L1623.37,248.00 L1624.79,247.98 L1626.21,247.95 L1627.63,247.93 L1629.05,247.90 L1630.47,247.88 L1631.89,247.86 L1633.31,247.84 L1634.73,247.81 L1636.15,247.79 L1637.56,247.77 L1638.98,247.75 L1640.40,247.73 L1641.82,247.70 L1643.24,247.68 L1644.66,247.66 L1646.08,247.64 L1647.50,247.62 L1648.92,247.59 L1650.34,247.57 L1651.76,247.55 L1653.18,247.53 L1654.60,247.51 L1656.02,247.48 L1657.44,247.46 L1658.86,247.44 L1660.28,247.42 L1661.70,247.39 L1663.12,247.37 L1664.54,247.35 L1665.96,247.33 L1667.38,247.30 L1668.80,247.28 L1670.21,247.25 L1671.63,247.22 L1673.05,247.20 L1674.47,247.17 L1675.89,247.14 L1677.31,247.12 L1678.73,247.10 L1680.15,247.09 L1681.57,247.07 L1682.99,247.07 L1684.41,247.06 L1685.83,247.06 L1687.25,247.06 L1688.67,247.05 L1690.09,247.05 L1691.51,247.05 L1692.93,247.05 L1694.35,247.05 L1695.77,247.04 L1697.19,247.04 L1698.61,247.04 L1700.03,247.03 L1701.45,247.02 L1702.87,247.00 L1704.29,246.97 L1705.71,246.94 L1707.13,246.90 L1708.54,246.87 L1709.96,246.83 L1711.38,246.79 L1712.80,246.77 L1714.22,246.74 L1715.64,246.73 L1717.06,246.72 L1718.48,246.71 L1719.90,246.70 L1721.32,246.70 L1722.74,246.69 L1724.16,246.69 L1725.58,246.68 L1727.00,246.68 L1728.42,246.67 L1729.84,246.67 L1731.26,246.66 L1732.68,246.65 L1734.10,246.65 L1735.52,246.64 L1736.94,246.63 L1738.36,246.63 L1739.78,246.62 L1741.20,246.61 L1742.62,246.61 L1744.04,246.60 L1745.46,246.60 L1746.88,246.59 L1748.30,246.58 L1749.72,246.58 L1751.14,246.57 L1752.56,246.56 L1753.98,246.56 L1755.39,246.55 L1756.81,246.54 L1758.23,246.54 L1759.65,246.53 L1761.07,246.53 L1762.49,246.52 L1763.91,246.51 L1765.33,246.51 L1766.75,246.50 L1768.17,246.49 L1769.59,246.49 L1771.01,246.48 L1772.43,246.47 L1773.85,246.47 L1775.27,246.46 L1776.69,246.45 L1778.11,246.45 L1779.53,246.44 L1780.95,246.44 L1782.37,246.43 L1783.79,246.42 L1785.21,246.42 L1786.63,246.41 L1788.05,246.40 L1789.47,246.40 L1790.89,246.39 L1792.31,246.38 L1793.73,246.38 L1795.15,246.37 L1796.57,246.37 L1797.99,246.36 L1799.41,246.35 L1800.83,246.35 L1802.25,246.34 L1803.67,246.33 L1805.09,246.33 L1806.51,246.32 L1807.92,246.31 L1809.34,246.31 L1810.76,246.30 L1812.18,246.30 L1813.60,246.29 L1815.02,246.28 L1816.44,246.28 L1817.86,246.27 L1819.28,246.26 L1820.70,246.26 L1822.12,246.25 L1823.54,246.24 L1824.96,246.24 L1826.38,246.23 L1827.80,246.22 L1829.22,246.22 L1830.64,246.21 L1832.06,246.21 L1833.48,246.20 L1834.90,246.19 L1836.32,246.19 L1837.74,246.18 L1839.16,246.17 L1840.58,246.17 L1842.00,246.16 L1843.42,246.15 L1844.84,246.15 L1846.26,246.14 L1847.68,246.14 L1849.10,246.13 L1850.52,246.12 L1851.94,246.12 L1853.36,246.11 L1854.78,246.10 L1856.20,246.10 L1857.62,246.09 L1859.04,246.08 L1860.45,246.08 L1861.87,246.07 L1863.29,246.07 L1864.71,246.06 L1866.13,246.05 L1867.55,246.05 L1868.97,246.04 L1870.39,246.03 L1871.81,246.03 L1873.23,246.02 L1874.65,246.02 L1876.07,246.01 L1877.49,246.00 L1878.91,246.00 L1880.33,245.99 L1881.75,245.99 L1883.17,245.98 L1884.59,245.97 L1886.01,245.96 L1887.43,245.95 L1888.85,245.93 L1890.27,245.92 L1891.69,245.90 L1893.11,245.89 L1894.53,245.87 L1895.95,245.86 L1897.37,245.84 L1898.79,245.83 L1900.21,245.81 L1901.63,245.80 L1903.05,245.79 L1904.47,245.78 L1905.89,245.76 L1907.31,245.75 L1908.72,245.74 L1910.14,245.73 L1911.56,245.72 L1912.98,245.70 L1914.40,245.69 L1915.82,245.68 L1917.24,245.66 L1918.66,245.65 L1920.08,245.63 L1921.50,245.61 L1922.92,245.59 L1924.34,245.57 L1925.76,245.55 L1927.18,245.53 L1928.60,245.51 L1930.02,245.49 L1931.44,245.47 L1932.86,245.44 L1934.28,245.42 L1935.70,245.41 L1937.12,245.39 L1938.54,245.37 L1939.96,245.35 L1941.38,245.33 L1942.80,245.31 L1944.22,245.29 L1945.64,245.27 L1947.05,245.25 L1948.47,245.23 L1949.89,245.21 L1951.31,245.19 L1952.73,245.17 L1954.15,245.15 L1955.57,245.13 L1956.99,245.11 L1958.41,245.09 L1959.83,245.07 L1961.25,245.05 L1962.67,245.03 L1964.09,245.01 L1965.51,244.99 L1966.93,244.97 L1968.35,244.95 L1969.77,244.93 L1971.19,244.91 L1972.61,244.89 L1974.03,244.87 L1975.45,244.85 L1976.87,244.83 L1978.29,244.81 L1979.71,244.80 L1981.13,244.78 L1982.55,244.76 L1983.96,244.74 L1985.38,244.72 L1986.80,244.70 L1988.22,244.68 L1989.64,244.66 L1991.06,244.64 L1992.48,244.62 L1993.90,244.60 L1995.32,244.58 L1996.74,244.56 L1998.16,244.54 L1999.58,244.52 L2001.00,244.50" stroke="#D95319"/>
<path d="M224.50,818.30 L225.76,818.07 L227.01,817.83 L228.27,817.60 L229.52,817.37 L230.78,817.14 L232.03,816.91 L233.29,816.67 L234.54,816.44 L235.80,816.21 L237.05,815.98 L238.31,815.75 L239.57,815.53 L240.82,815.30 L242.08,815.07 L243.33,814.84 L244.59,814.61 L245.85,814.39 L247.10,814.16 L248.36,813.95 L249.62,813.73 L250.88,813.51 L252.14,813.30 L253.40,813.09 L254.66,812.88 L255.92,812.66 L257.18,812.45 L258.44,812.23 L259.69,812.01 L260.95,811.79 L262.21,811.56 L263.46,811.33 L264.72,811.09 L265.97,810.85 L267.22,810.60 L268.47,810.34 L269.71,810.08 L270.96,809.81 L272.21,809.54 L273.46,809.26 L274.71,808.98 L275.95,808.69 L277.20,808.40 L278.44,808.10 L279.68,807.80 L280.92,807.49 L282.16,807.17 L283.40,806.85 L284.63,806.52 L285.86,806.19 L287.09,805.85 L288.32,805.50 L289.54,805.14 L290.76,804.77 L291.98,804.39 L293.19,803.99 L294.40,803.58 L295.61,803.15 L296.81,802.71 L298.01,802.27 L299.20,801.80 L300.38,801.33 L301.55,800.85 L302.73,800.35 L303.90,799.84 L305.06,799.31 L306.22,798.77 L307.38,798.22 L308.53,797.66 L309.68,797.09 L310.82,796.50 L311.95,795.91 L313.08,795.31 L314.20,794.70 L315.31,794.08 L316.42,793.45 L317.51,792.80 L318.60,792.12 L319.68,791.43 L320.74,790.71 L321.78,789.98 L322.81,789.24 L323.83,788.49 L324.85,787.72 L325.87,786.95 L326.87,786.16 L327.88,785.37 L328.87,784.56 L329.86,783.75 L330.85,782.93 L331.82,782.11 L332.80,781.28 L333.77,780.44 L334.73,779.60 L335.69,778.75 L336.65,777.90 L337.60,777.05 L338.55,776.19 L339.49,775.34 L340.43,774.48 L341.36,773.61 L342.29,772.74 L343.21,771.85 L344.13,770.96 L345.04,770.07 L345.94,769.17 L346.85,768.27 L347.75,767.36 L348.64,766.44 L349.53,765.52 L350.42,764.60 L351.30,763.68 L352.18,762.75 L353.06,761.83 L353.94,760.90 L354.81,759.97 L355.68,759.04 L356.55,758.10 L357.42,757.16 L358.27,756.22 L359.13,755.27 L359.98,754.31 L360.83,753.35 L361.66,752.39 L362.50,751.43 L363.33,750.46 L364.15,749.48 L364.97,748.50 L365.79,747.52 L366.60,746.54 L367.41,745.55 L368.22,744.56 L369.02,743.57 L369.82,742.58 L370.62,741.58 L371.41,740.58 L372.20,739.57 L372.99,738.57 L373.77,737.56 L374.55,736.55 L375.33,735.53 L376.11,734.52 L376.88,733.50 L377.65,732.48 L378.41,731.46 L379.17,730.44 L379.93,729.41 L380.68,728.37 L381.42,727.34 L382.15,726.29 L382.88,725.24 L383.61,724.19 L384.33,723.14 L385.04,722.08 L385.76,721.02 L386.47,719.96 L387.17,718.90 L387.88,717.83 L388.58,716.77 L389.28,715.70 L389.98,714.63 L390.67,713.56 L391.37,712.49 L392.06,711.42 L392.76,710.35 L393.45,709.27 L394.14,708.20 L394.83,707.13 L395.53,706.06 L396.22,704.98 L396.92,703.91 L397.61,702.84 L398.31,701.77 L399.01,700.71 L399.71,699.64 L400.42,698.57 L401.12,697.51 L401.82,696.44 L402.52,695.37 L403.22,694.31 L403.93,693.24 L404.63,692.18 L405.33,691.11 L406.04,690.05 L406.74,688.98 L407.44,687.92 L408.15,686.85 L408.85,685.78 L409.55,684.72 L410.26,683.65 L410.96,682.59 L411.67,681.52 L412.37,680.46 L413.08,679.40 L413.78,678.33 L414.49,677.27 L415.19,676.20 L415.89,675.14 L416.60,674.07 L417.30,673.01 L418.01,671.94 L418.71,670.88 L419.41,669.81 L420.11,668.74 L420.82,667.68 L421.52,666.61 L422.22,665.54 L422.92,664.48 L423.63,663.41 L424.33,662.35 L425.03,661.28 L425.74,660.22 L426.44,659.15 L427.15,658.09 L427.86,657.03 L428.57,655.97 L429.28,654.91 L429.99,653.85 L430.70,652.79 L431.42,651.73 L432.14,650.67 L432.85,649.62 L433.57,648.56 L434.29,647.51 L435.01,646.45 L435.73,645.40 L436.45,644.34 L437.17,643.29 L437.89,642.23 L438.61,641.18 L439.34,640.13 L440.06,639.08 L440.79,638.02 L441.52,636.98 L442.25,635.93 L442.98,634.88 L443.71,633.84 L444.45,632.79 L445.19,631.75 L445.93,630.71 L446.67,629.68 L447.42,628.64 L448.17,627.61 L448.93,626.58 L449.69,625.56 L450.45,624.54 L451.21,623.52 L451.98,622.50 L452.75,621.48 L453.52,620.46 L454.29,619.44 L455.07,618.43 L455.85,617.41 L456.63,616.40 L457.41,615.39 L458.20,614.38 L458.98,613.38 L459.78,612.37 L460.57,611.37 L461.37,610.37 L462.17,609.38 L462.97,608.38 L463.78,607.39 L464.59,606.41 L465.40,605.42 L466.22,604.44 L467.04,603.46 L467.87,602.49 L468.69,601.52 L469.52,600.55 L470.36,599.59 L471.20,598.63 L472.04,597.68 L472.89,596.72 L473.75,595.77 L474.60,594.83 L475.47,593.88 L476.34,592.94 L477.21,592.01 L478.09,591.08 L478.97,590.15 L479.86,589.23 L480.75,588.32 L481.64,587.41 L482.55,586.51 L483.45,585.61 L484.36,584.72 L485.28,583.83 L486.20,582.95 L487.12,582.07 L488.05,581.19 L488.99,580.32 L489.93,579.45 L490.87,578.59 L491.82,577.73 L492.77,576.88 L493.73,576.03 L494.70,575.19 L495.67,574.36 L496.64,573.53 L497.62,572.71 L498.61,571.90 L499.59,571.10 L500.59,570.30 L501.59,569.52 L502.59,568.74 L503.61,567.96 L504.63,567.19 L505.65,566.43 L506.68,565.67 L507.71,564.91 L508.76,564.17 L509.80,563.43 L510.85,562.70 L511.91,561.97 L512.97,561.26 L514.04,560.55 L515.11,559.85 L516.18,559.17 L517.26,558.49 L518.35,557.82 L519.43,557.17 L520.53,556.52 L521.63,555.88 L522.74,555.24 L523.85,554.61 L524.97,553.99 L526.09,553.38 L527.22,552.77 L528.35,552.17 L529.49,551.58 L530.63,551.00 L531.77,550.43 L532.92,549.86 L534.07,549.31 L535.22,548.76 L536.38,548.23 L537.54,547.70 L538.70,547.18 L539.87,546.67 L541.04,546.16 L542.21,545.66 L543.39,545.16 L544.57,544.67 L545.75,544.19 L546.94,543.71 L548.13,543.24 L549.33,542.78 L550.52,542.32 L551.72,541.88 L552.92,541.44 L554.13,541.00 L555.33,540.58 L556.54,540.17 L557.74,539.76 L558.95,539.37 L560.16,538.98 L561.38,538.59 L562.60,538.21 L563.81,537.84 L565.04,537.46 L566.26,537.10 L567.49,536.73 L568.71,536.38 L569.94,536.03 L571.17,535.68 L572.41,535.34 L573.64,535.00 L574.88,534.67 L576.12,534.35 L577.36,534.03 L578.60,533.72 L579.84,533.41 L581.08,533.11 L582.32,532.82 L583.56,532.53 L584.81,532.25 L586.05,531.98 L587.30,531.71 L588.54,531.45 L589.79,531.19 L591.04,530.94 L592.29,530.68 L593.55,530.44 L594.80,530.19 L596.06,529.96 L597.31,529.72 L598.57,529.49 L599.83,529.27 L601.09,529.04 L602.35,528.83 L603.61,528.62 L604.87,528.41 L606.13,528.21 L607.40,528.02 L608.66,527.83 L609.92,527.64 L611.18,527.46 L612.45,527.29 L613.71,527.12 L614.97,526.95 L616.24,526.79 L617.51,526.63 L618.77,526.47 L620.04,526.32 L621.31,526.16 L622.58,526.02 L623.85,525.87 L625.12,525.73 L626.39,525.59 L627.66,525.45 L628.93,525.32 L630.20,525.19 L631.47,525.07 L632.74,524.95 L634.01,524.83 L635.29,524.72 L636.56,524.61 L637.83,524.51 L639.10,524.41 L640.37,524.31 L641.64,524.21 L642.92,524.12 L644.19,524.03 L645.46,523.94 L646.74,523.85 L648.01,523.76 L649.29,523.68 L650.56,523.60 L651.84,523.52 L653.11,523.44 L654.38,523.36 L655.66,523.29 L656.93,523.22 L658.21,523.15 L659.48,523.08 L660.76,523.02 L662.04,522.95 L663.31,522.89 L664.59,522.83 L665.86,522.78 L667.14,522.72 L668.41,522.67 L669.69,522.62 L670.96,522.56 L672.24,522.52 L673.51,522.47 L674.79,522.42 L676.07,522.38 L677.34,522.33 L678.62,522.29 L679.89,522.24 L681.17,522.20 L682.45,522.16 L683.72,522.11 L685.00,522.07 L686.27,522.02 L687.55,521.98 L688.82,521.94 L690.10,521.89 L691.38,521.85 L692.65,521.81 L693.93,521.77 L695.20,521.72 L696.48,521.68 L697.76,521.64 L699.03,521.60 L700.31,521.56 L701.58,521.52 L702.86,521.48 L704.14,521.44 L705.41,521.39 L706.69,521.35 L707.96,521.31 L709.24,521.27 L710.52,521.23 L711.79,521.18 L713.07,521.14 L714.34,521.11 L715.62,521.07 L716.90,521.03 L718.17,520.99 L719.45,520.95 L720.73,520.90 L722.00,520.86 L723.28,520.82 L724.55,520.77 L725.83,520.72 L727.10,520.67 L728.38,520.62 L729.65,520.56 L730.93,520.50 L732.20,520.44 L733.48,520.37 L734.75,520.31 L736.03,520.24 L737.30,520.17 L738.58,520.09 L739.85,520.01 L741.13,519.93 L742.40,519.85 L743.68,519.77 L744.95,519.68 L746.22,519.59 L747.50,519.50 L748.77,519.41 L750.05,519.31 L751.32,519.21 L752.59,519.11 L753.87,519.01 L755.14,518.91 L756.41,518.80 L757.69,518.69 L758.96,518.58 L760.23,518.47 L761.50,518.35 L762.77,518.24 L764.05,518.12 L765.32,518.00 L766.59,517.88 L767.86,517.76 L769.13,517.63 L770.40,517.51 L771.67,517.38 L772.93,517.25 L774.20,517.12 L775.47,516.97 L776.74,516.82 L778.00,516.67 L779.27,516.50 L780.54,516.33 L781.80,516.16 L783.07,515.98 L784.33,515.79 L785.60,515.60 L786.86,515.41 L788.12,515.21 L789.38,515.01 L790.64,514.81 L791.90,514.60 L793.15,514.39 L794.41,514.18 L795.67,513.96 L796.93,513.74 L798.19,513.52 L799.44,513.29 L800.70,513.06 L801.95,512.83 L803.21,512.59 L804.47,512.35 L805.72,512.11 L806.98,511.86 L808.23,511.61 L809.48,511.35 L810.74,511.10 L811.99,510.84 L813.24,510.58 L814.49,510.31 L815.74,510.04 L816.99,509.77 L818.24,509.50 L819.48,509.22 L820.73,508.94 L821.98,508.66 L823.22,508.38 L824.47,508.09 L825.71,507.80 L826.95,507.51 L828.19,507.22 L829.43,506.92 L830.67,506.62 L831.91,506.32 L833.15,506.02 L834.38,505.72 L835.62,505.41 L836.85,505.09 L838.09,504.77 L839.32,504.44 L840.55,504.12 L841.78,503.78 L843.01,503.44 L844.24,503.10 L845.47,502.75 L846.70,502.40 L847.93,502.05 L849.15,501.69 L850.38,501.33 L851.60,500.96 L852.83,500.59 L854.05,500.22 L855.28,499.84 L856.50,499.47 L857.72,499.08 L858.94,498.70 L860.16,498.31 L861.37,497.92 L862.59,497.53 L863.81,497.14 L865.02,496.74 L866.24,496.35 L867.45,495.95 L868.67,495.55 L869.88,495.14 L871.09,494.74 L872.30,494.33 L873.51,493.93 L874.72,493.52 L875.92,493.11 L877.13,492.70 L878.34,492.29 L879.54,491.87 L880.74,491.44 L881.94,491.01 L883.14,490.58 L884.34,490.15 L885.54,489.71 L886.73,489.26 L887.93,488.82 L889.12,488.37 L890.32,487.91 L891.51,487.46 L892.70,487.00 L893.89,486.54 L895.08,486.07 L896.27,485.61 L897.46,485.14 L898.65,484.67 L899.84,484.20 L901.02,483.73 L902.21,483.25 L903.40,482.78 L904.58,482.30 L905.77,481.83 L906.96,481.35 L908.14,480.88 L909.33,480.40 L910.51,479.92 L911.70,479.45 L912.88,478.97 L914.07,478.50 L915.26,478.03 L916.44,477.55 L917.63,477.08 L918.82,476.61 L920.01,476.14 L921.19,475.67 L922.38,475.20 L923.57,474.73 L924.75,474.25 L925.93,473.78 L927.12,473.30 L928.30,472.82 L929.48,472.34 L930.67,471.85 L931.85,471.37 L933.03,470.89 L934.21,470.40 L935.39,469.92 L936.57,469.43 L937.75,468.95 L938.94,468.46 L940.12,467.97 L941.30,467.49 L942.48,467.00 L943.66,466.52 L944.84,466.04 L946.02,465.55 L947.21,465.07 L948.39,464.59 L949.57,464.11 L950.76,463.64 L951.94,463.16 L953.13,462.69 L954.31,462.21 L955.50,461.75 L956.69,461.28 L957.88,460.81 L959.07,460.35 L960.26,459.89 L961.45,459.44 L962.64,458.98 L963.84,458.53 L965.03,458.08 L966.22,457.63 L967.42,457.18 L968.62,456.73 L969.81,456.29 L971.01,455.84 L972.21,455.39 L973.41,454.95 L974.60,454.51 L975.80,454.07 L977.01,453.63 L978.21,453.20 L979.41,452.77 L980.61,452.34 L981.82,451.92 L983.03,451.50 L984.23,451.09 L985.44,450.68 L986.65,450.28 L987.86,449.88 L989.08,449.49 L990.29,449.11 L991.51,448.73 L992.73,448.35 L993.94,447.97 L995.16,447.59 L996.38,447.22 L997.60,446.85 L998.83,446.47 L1000.05,446.11 L1001.27,445.74 L1002.50,445.37 L1003.72,445.01 L1004.95,444.65 L1006.18,444.30 L1007.41,443.94 L1008.64,443.59 L1009.87,443.24 L1011.10,442.89 L1012.33,442.55 L1013.56,442.21 L1014.80,441.87 L1016.03,441.54 L1017.26,441.21 L1018.50,440.88 L1019.74,440.56 L1020.97,440.24 L1022.21,439.92 L1023.45,439.61 L1024.69,439.30 L1025.93,438.99 L1027.17,438.69 L1028.41,438.39 L1029.65,438.10 L1030.89,437.81 L1032.13,437.52 L1033.37,437.24 L1034.61,436.96 L1035.86,436.69 L1037.10,436.42 L1038.35,436.14 L1039.60,435.88 L1040.84,435.61 L1042.09,435.34 L1043.34,435.08 L1044.59,434.82 L1045.84,434.56 L1047.10,434.31 L1048.35,434.05 L1049.60,433.80 L1050.85,433.55 L1052.11,433.31 L1053.36,433.06 L1054.62,432.82 L1055.88,432.59 L1057.13,432.35 L1058.39,432.12 L1059.65,431.89 L1060.91,431.66 L1062.16,431.44 L1063.42,431.22 L1064.68,431.00 L1065.94,430.79 L1067.20,430.58 L1068.46,430.37 L1069.72,430.16 L1070.98,429.96 L1072.24,429.76 L1073.50,429.57 L1074.76,429.38 L1076.03,429.19 L1077.29,429.01 L1078.55,428.82 L1079.81,428.64 L1081.07,428.46 L1082.34,428.28 L1083.60,428.11 L1084.86,427.93 L1086.13,427.76 L1087.39,427.59 L1088.66,427.42 L1089.93,427.25 L1091.19,427.08 L1092.46,426.92 L1093.73,426.76 L1094.99,426.60 L1096.26,426.44 L1097.53,426.28 L1098.80,426.13 L1100.07,425.98 L1101.34,425.83 L1102.61,425.68 L1103.88,425.54 L1105.15,425.39 L1106.42,425.25 L1107.69,425.12 L1108.96,424.98 L1110.23,424.85 L1111.50,424.72 L1112.77,424.59 L1114.04,424.47 L1115.31,424.35 L1116.58,424.23 L1117.85,424.11 L1119.12,424.00 L1120.39,423.89 L1121.66,423.78 L1122.93,423.68 L1124.20,423.57 L1125.48,423.47 L1126.75,423.36 L1128.02,423.26 L1129.29,423.16 L1130.57,423.07 L1131.84,422.97 L1133.11,422.87 L1134.39,422.78 L1135.66,422.69 L1136.93,422.60 L1138.21,422.51 L1139.48,422.42 L1140.75,422.33 L1142.03,422.25 L1143.30,422.16 L1144.58,422.08 L1145.85,422.00 L1147.13,421.92 L1148.40,421.84 L1149.68,421.76 L1150.95,421.68 L1152.23,421.61 L1153.50,421.53 L1154.78,421.46 L1156.05,421.39 L1157.33,421.32 L1158.60,421.25 L1159.88,421.18 L1161.15,421.12 L1162.42,421.05 L1163.70,420.99 L1164.97,420.92 L1166.25,420.86 L1167.52,420.80 L1168.80,420.75 L1170.08,420.69 L1171.35,420.64 L1172.63,420.58 L1173.90,420.53 L1175.18,420.48 L1176.45,420.43 L1177.73,420.38 L1179.00,420.33 L1180.28,420.28 L1181.56,420.23 L1182.83,420.18 L1184.11,420.13 L1185.38,420.08 L1186.66,420.04 L1187.94,419.99 L1189.21,419.94 L1190.49,419.89 L1191.76,419.84 L1193.04,419.79 L1194.31,419.74 L1195.59,419.69 L1196.87,419.65 L1198.14,419.60 L1199.42,419.55 L1200.69,419.51 L1201.97,419.46 L1203.25,419.42 L1204.52,419.38 L1205.80,419.33 L1207.07,419.29 L1208.35,419.25 L1209.63,419.20 L1210.90,419.16 L1212.18,419.12 L1213.45,419.08 L1214.73,419.04 L1216.01,418.99 L1217.28,418.95 L1218.56,418.91 L1219.84,418.87 L1221.11,418.83 L1222.39,418.79 L1223.67,418.75 L1224.94,418.71 L1226.22,418.67 L1227.49,418.63 L1228.77,418.58 L1230.05,418.54 L1231.32,418.50 L1232.60,418.46 L1233.88,418.42 L1235.15,418.38 L1236.43,418.34 L1237.70,418.29 L1238.98,418.25 L1240.26,418.21 L1241.53,418.16 L1242.81,418.12 L1244.08,418.08 L1245.36,418.03 L1246.64,417.99 L1247.91,417.94 L1249.19,417.89 L1250.46,417.85 L1251.74,417.80 L1253.01,417.75 L1254.29,417.70 L1255.57,417.65 L1256.84,417.61 L1258.12,417.55 L1259.39,417.50 L1260.67,417.45 L1261.94,417.40 L1263.22,417.34 L1264.49,417.29 L1265.77,417.23 L1267.04,417.18 L1268.32,417.12 L1269.59,417.06 L1270.87,417.00 L1272.14,416.94 L1273.42,416.88 L1274.69,416.82 L1275.96,416.76 L1277.24,416.69 L1278.51,416.63 L1279.79,416.56 L1281.06,416.49 L1282.34,416.42 L1283.61,416.34 L1284.88,416.27 L1286.16,416.19 L1287.43,416.11 L1288.71,416.03 L1289.98,415.95 L1291.25,415.86 L1292.53,415.78 L1293.80,415.69 L1295.07,415.61 L1296.35,415.52 L1297.62,415.43 L1298.90,415.33 L1300.17,415.24 L1301.44,415.15 L1302.72,415.05 L1303.99,414.95 L1305.26,414.85 L1306.54,414.75 L1307.81,414.65 L1309.08,414.55 L1310.35,414.45 L1311.63,414.35 L1312.90,414.24 L1314.17,414.14 L1315.45,414.03 L1316.72,413.92 L1317.99,413.82 L1319.26,413.71 L1320.54,413.60 L1321.81,413.49 L1323.08,413.38 L1324.35,413.27 L1325.62,413.15 L1326.90,413.04 L1328.17,412.93 L1329.44,412.82 L1330.71,412.70 L1331.98,412.59 L1333.26,412.47 L1334.53,412.36 L1335.80,412.24 L1337.07,412.13 L1338.34,412.01 L1339.61,411.90 L1340.88,411.78 L1342.15,411.66 L1343.42,411.55 L1344.69,411.43 L1345.97,411.31 L1347.24,411.18 L1348.51,411.06 L1349.78,410.93 L1351.05,410.80 L1352.32,410.67 L1353.59,410.54 L1354.86,410.41 L1356.13,410.28 L1357.40,410.14 L1358.66,410.01 L1359.93,409.87 L1361.20,409.73 L1362.47,409.59 L1363.74,409.45 L1365.01,409.31 L1366.28,409.17 L1367.55,409.03 L1368.82,408.89 L1370.09,408.74 L1371.36,408.60 L1372.62,408.45 L1373.89,408.30 L1375.16,408.16 L1376.43,408.01 L1377.70,407.86 L1378.97,407.71 L1380.23,407.56 L1381.50,407.41 L1382.77,407.26 L1384.04,407.11 L1385.30,406.96 L1386.57,406.81 L1387.84,406.66 L1389.11,406.51 L1390.38,406.36 L1391.64,406.21 L1392.91,406.06 L1394.18,405.91 L1395.44,405.75 L1396.71,405.60 L1397.98,405.44 L1399.25,405.28 L1400.51,405.13 L1401.78,404.97 L1403.05,404.81 L1404.31,404.65 L1405.58,404.49 L1406.85,404.33 L1408.11,404.17 L1409.38,404.00 L1410.64,403.84 L1411.91,403.68 L1413.18,403.51 L1414.44,403.35 L1415.71,403.18 L1416.97,403.01 L1418.24,402.85 L1419.51,402.68 L1420.77,402.51 L1422.04,402.35 L1423.30,402.18 L1424.57,402.01 L1425.83,401.84 L1427.10,401.67 L1428.36,401.50 L1429.63,401.33 L1430.90,401.16 L1432.16,400.99 L1433.43,400.82 L1434.69,400.65 L1435.96,400.48 L1437.22,400.31 L1438.49,400.14 L1439.75,399.97 L1441.02,399.80 L1442.28,399.63 L1443.55,399.46 L1444.81,399.29 L1446.08,399.12 L1447.34,398.95 L1448.61,398.78 L1449.87,398.61 L1451.14,398.44 L1452.41,398.27 L1453.67,398.10 L1454.94,397.93 L1456.20,397.76 L1457.47,397.59 L1458.73,397.42 L1460.00,397.25 L1461.26,397.07 L1462.53,396.90 L1463.79,396.72 L1465.06,396.55 L1466.32,396.37 L1467.58,396.19 L1468.85,396.01 L1470.11,395.84 L1471.38,395.66 L1472.64,395.48 L1473.91,395.30 L1475.17,395.12 L1476.43,394.94 L1477.70,394.76 L1478.96,394.58 L1480.23,394.40 L1481.49,394.22 L1482.75,394.04 L1484.02,393.86 L1485.28,393.68 L1486.55,393.50 L1487.81,393.32 L1489.07,393.14 L1490.34,392.96 L1491.60,392.78 L1492.87,392.60 L1494.13,392.43 L1495.40,392.25 L1496.66,392.07 L1497.93,391.90 L1499.19,391.72 L1500.46,391.55 L1501.72,391.38 L1502.99,391.21 L1504.25,391.04 L1505.52,390.87 L1506.78,390.70 L1508.05,390.53 L1509.31,390.37 L1510.58,390.20 L1511.84,390.04 L1513.11,389.88 L1514.38,389.72 L1515.64,389.56 L1516.91,389.41 L1518.18,389.25 L1519.44,389.10 L1520.71,388.95 L1521.98,388.79 L1523.24,388.64 L1524.51,388.49 L1525.78,388.33 L1527.05,388.18 L1528.31,388.02 L1529.58,387.87 L1530.85,387.71 L1532.12,387.56 L1533.39,387.40 L1534.65,387.25 L1535.92,387.09 L1537.19,386.94 L1538.46,386.79 L1539.73,386.63 L1541.00,386.48 L1542.26,386.33 L1543.53,386.17 L1544.80,386.02 L1546.07,385.87 L1547.34,385.72 L1548.61,385.57 L1549.88,385.42 L1551.15,385.27 L1552.42,385.13 L1553.68,384.98 L1554.95,384.84 L1556.22,384.70 L1557.49,384.55 L1558.76,384.41 L1560.03,384.27 L1561.30,384.14 L1562.57,384.00 L1563.84,383.87 L1565.11,383.74 L1566.38,383.61 L1567.65,383.48 L1568.92,383.35 L1570.19,383.23 L1571.46,383.11 L1572.74,382.99 L1574.01,382.87 L1575.28,382.75 L1576.55,382.64 L1577.82,382.53 L1579.09,382.42 L1580.36,382.32 L1581.63,382.22 L1582.91,382.12 L1584.18,382.02 L1585.45,381.93 L1586.72,381.83 L1587.99,381.75 L1589.27,381.66 L1590.54,381.58 L1591.81,381.50 L1593.08,381.42 L1594.36,381.34 L1595.63,381.27 L1596.90,381.19 L1598.17,381.12 L1599.45,381.05 L1600.72,380.97 L1601.99,380.90 L1603.27,380.83 L1604.54,380.76 L1605.82,380.70 L1607.09,380.63 L1608.36,380.56 L1609.64,380.50 L1610.91,380.44 L1612.19,380.37 L1613.46,380.31 L1614.74,380.25 L1616.01,380.19 L1617.29,380.13 L1618.56,380.07 L1619.84,380.01 L1621.11,379.95 L1622.39,379.90 L1623.66,379.84 L1624.94,379.78 L1626.21,379.73 L1627.49,379.68 L1628.77,379.62 L1630.04,379.57 L1631.32,379.52 L1632.59,379.46 L1633.87,379.41 L1635.15,379.36 L1636.42,379.31 L1637.70,379.26 L1638.97,379.21 L1640.25,379.16 L1641.53,379.11 L1642.80,379.06 L1644.08,379.01 L1645.36,378.96 L1646.63,378.91 L1647.91,378.86 L1649.18,378.81 L1650.46,378.77 L1651.74,378.72 L1653.01,378.67 L1654.29,378.62 L1655.57,378.57 L1656.84,378.52 L1658.12,378.48 L1659.40,378.43 L1660.67,378.38 L1661.95,378.33 L1663.23,378.28 L1664.50,378.24 L1665.78,378.19 L1667.05,378.14 L1668.33,378.09 L1669.61,378.04 L1670.88,377.99 L1672.16,377.94 L1673.44,377.89 L1674.71,377.84 L1675.99,377.79 L1677.26,377.74 L1678.54,377.69 L1679.82,377.63 L1681.09,377.58 L1682.37,377.53 L1683.64,377.47 L1684.92,377.42 L1686.19,377.37 L1687.47,377.31 L1688.74,377.26 L1690.02,377.20 L1691.30,377.15 L1692.57,377.09 L1693.85,377.04 L1695.12,376.98 L1696.40,376.93 L1697.67,376.87 L1698.95,376.82 L1700.22,376.77 L1701.50,376.71 L1702.78,376.66 L1704.05,376.61 L1705.33,376.55 L1706.60,376.50 L1707.88,376.45 L1709.15,376.40 L1710.43,376.34 L1711.70,376.29 L1712.98,376.24 L1714.26,376.19 L1715.53,376.13 L1716.81,376.08 L1718.08,376.03 L1719.36,375.98 L1720.63,375.93 L1721.91,375.87 L1723.18,375.82 L1724.46,375.77 L1725.74,375.72 L1727.01,375.67 L1728.29,375.61 L1729.56,375.56 L1730.84,375.51 L1732.11,375.46 L1733.39,375.41 L1734.67,375.35 L1735.94,375.30 L1737.22,375.25 L1738.49,375.20 L1739.77,375.14 L1741.04,375.09 L1742.32,375.04 L1743.59,374.99 L1744.87,374.93 L1746.15,374.88 L1747.42,374.83 L1748.70,374.77 L1749.97,374.72 L1751.25,374.67 L1752.52,374.61 L1753.80,374.56 L1755.07,374.50 L1756.35,374.45 L1757.63,374.40 L1758.90,374.34 L1760.18,374.29 L1761.45,374.23 L1762.73,374.17 L1764.00,374.12 L1765.28,374.06 L1766.55,374.01 L1767.83,373.95 L1769.10,373.89 L1770.38,373.84 L1771.65,373.78 L1772.93,373.72 L1774.21,373.66 L1775.48,373.60 L1776.76,373.54 L1778.03,373.49 L1779.31,373.43 L1780.58,373.37 L1781.86,373.31 L1783.13,373.25 L1784.41,373.18 L1785.68,373.12 L1786.96,373.06 L1788.23,373.00 L1789.51,372.94 L1790.78,372.87 L1792.06,372.81 L1793.33,372.75 L1794.61,372.68 L1795.88,372.62 L1797.16,372.55 L1798.43,372.49 L1799.71,372.42 L1800.98,372.35 L1802.26,372.29 L1803.53,372.22 L1804.81,372.15 L1806.08,372.09 L1807.35,372.02 L1808.63,371.95 L1809.90,371.88 L1811.18,371.81 L1812.45,371.74 L1813.73,371.67 L1815.00,371.60 L1816.28,371.53 L1817.55,371.46 L1818.83,371.39 L1820.10,371.32 L1821.38,371.25 L1822.65,371.18 L1823.93,371.10 L1825.20,371.03 L1826.48,370.96 L1827.75,370.89 L1829.02,370.81 L1830.30,370.74 L1831.57,370.66 L1832.85,370.59 L1834.12,370.52 L1835.40,370.44 L1836.67,370.37 L1837.95,370.29 L1839.22,370.22 L1840.49,370.14 L1841.77,370.07 L1843.04,369.99 L1844.32,369.91 L1845.59,369.84 L1846.87,369.76 L1848.14,369.68 L1849.42,369.61 L1850.69,369.53 L1851.96,369.45 L1853.24,369.38 L1854.51,369.30 L1855.79,369.22 L1857.06,369.14 L1858.34,369.06 L1859.61,368.99 L1860.88,368.91 L1862.16,368.83 L1863.43,368.75 L1864.71,368.67 L1865.98,368.59 L1867.26,368.51 L1868.53,368.44 L1869.80,368.36 L1871.08,368.28 L1872.35,368.20 L1873.63,368.12 L1874.90,368.04 L1876.18,367.96 L1877.45,367.88 L1878.72,367.80 L1880.00,367.72 L1881.27,367.64 L1882.55,367.56 L1883.82,367.48 L1885.09,367.40 L1886.37,367.32 L1887.64,367.24 L1888.92,367.16 L1890.19,367.08 L1891.47,367.00 L1892.74,366.91 L1894.01,366.83 L1895.29,366.75 L1896.56,366.67 L1897.84,366.59 L1899.11,366.51 L1900.38,366.43 L1901.66,366.35 L1902.93,366.27 L1904.21,366.19 L1905.48,366.10 L1906.75,366.02 L1908.03,365.94 L1909.30,365.86 L1910.58,365.78 L1911.85,365.69 L1913.12,365.61 L1914.40,365.53 L1915.67,365.44 L1916.94,365.36 L1918.22,365.28 L1919.49,365.19 L1920.77,365.11 L1922.04,365.03 L1923.31,364.94 L1924.59,364.86 L1925.86,364.77 L1927.14,364.69 L1928.41,364.60 L1929.68,364.52 L1930.96,364.43 L1932.23,364.35 L1933.50,364.26 L1934.78,364.18 L1936.05,364.09 L1937.33,364.01 L1938.60,363.92 L1939.87,363.83 L1941.15,363.75 L1942.42,363.66 L1943.69,363.57 L1944.97,363.49 L1946.24,363.40 L1947.52,363.31 L1948.79,363.22 L1950.06,363.14 L1951.34,363.05 L1952.61,362.96 L1953.88,362.87 L1955.16,362.78 L1956.43,362.69 L1957.70,362.61 L1958.98,362.52 L1960.25,362.43 L1961.52,362.34 L1962.80,362.25 L1964.07,362.16 L1965.35,362.07 L1966.62,361.98 L1967.89,361.89 L1969.17,361.80 L1970.44,361.71 L1971.71,361.62 L1972.99,361.53 L1974.26,361.44 L1975.53,361.35 L1976.81,361.26 L1978.08,361.17 L1979.35,361.07 L1980.63,360.98 L1981.90,360.89 L1983.17,360.80 L1984.45,360.71 L1985.72,360.62 L1986.99,360.52 L1988.27,360.43 L1989.54,360.34 L1990.81,360.25 L1992.09,360.15 L1993.36,360.06 L1994.63,359.97 L1995.91,359.87 L1997.18,359.78 L1998.45,359.69 L1999.73,359.59 L2001.00,359.50" stroke="#EDB120"/>
<path d="M224.50,818.20 L225.89,817.97 L227.28,817.74 L228.67,817.51 L230.05,817.28 L231.44,817.05 L232.83,816.81 L234.22,816.57 L235.60,816.34 L236.99,816.10 L238.38,815.86 L239.76,815.62 L241.15,815.37 L242.53,815.13 L243.92,814.87 L245.30,814.61 L246.68,814.35 L248.07,814.08 L249.45,813.82 L250.83,813.55 L252.21,813.27 L253.59,813.00 L254.97,812.72 L256.35,812.43 L257.73,812.15 L259.11,811.85 L260.49,811.55 L261.86,811.25 L263.23,810.93 L264.60,810.61 L265.97,810.28 L267.33,809.95 L268.69,809.60 L270.05,809.25 L271.41,808.89 L272.77,808.51 L274.13,808.13 L275.48,807.75 L276.83,807.35 L278.18,806.94 L279.53,806.53 L280.88,806.11 L282.22,805.67 L283.56,805.24 L284.89,804.79 L286.22,804.33 L287.55,803.87 L288.87,803.40 L290.19,802.91 L291.50,802.41 L292.80,801.88 L294.10,801.34 L295.40,800.79 L296.69,800.22 L297.98,799.64 L299.26,799.05 L300.53,798.46 L301.80,797.85 L303.06,797.22 L304.31,796.57 L305.55,795.90 L306.77,795.22 L307.99,794.52 L309.21,793.80 L310.42,793.08 L311.62,792.34 L312.81,791.58 L313.99,790.81 L315.16,790.03 L316.31,789.24 L317.46,788.42 L318.60,787.59 L319.72,786.73 L320.82,785.85 L321.89,784.95 L322.96,784.04 L324.02,783.11 L325.08,782.17 L326.12,781.21 L327.16,780.24 L328.18,779.25 L329.18,778.25 L330.16,777.24 L331.11,776.21 L332.05,775.17 L332.95,774.12 L333.83,773.05 L334.70,771.96 L335.56,770.86 L336.40,769.74 L337.23,768.61 L338.05,767.46 L338.86,766.31 L339.66,765.14 L340.45,763.96 L341.23,762.78 L342.00,761.59 L342.75,760.39 L343.50,759.18 L344.24,757.97 L344.98,756.76 L345.70,755.54 L346.41,754.32 L347.12,753.10 L347.82,751.88 L348.51,750.66 L349.20,749.44 L349.88,748.22 L350.54,746.99 L351.20,745.75 L351.86,744.50 L352.50,743.25 L353.14,741.99 L353.77,740.73 L354.39,739.47 L355.01,738.20 L355.62,736.93 L356.22,735.65 L356.82,734.37 L357.42,733.09 L358.01,731.81 L358.59,730.53 L359.17,729.24 L359.75,727.96 L360.32,726.67 L360.89,725.39 L361.46,724.10 L362.02,722.81 L362.58,721.52 L363.13,720.23 L363.67,718.93 L364.21,717.63 L364.75,716.33 L365.28,715.03 L365.81,713.72 L366.34,712.42 L366.86,711.11 L367.37,709.80 L367.89,708.49 L368.40,707.17 L368.90,705.86 L369.41,704.54 L369.91,703.23 L370.41,701.91 L370.90,700.60 L371.40,699.28 L371.89,697.96 L372.37,696.64 L372.85,695.32 L373.33,694.00 L373.81,692.67 L374.28,691.35 L374.75,690.02 L375.22,688.69 L375.68,687.36 L376.15,686.03 L376.61,684.70 L377.06,683.37 L377.52,682.04 L377.98,680.71 L378.43,679.38 L378.88,678.04 L379.34,676.71 L379.79,675.38 L380.24,674.05 L380.69,672.71 L381.13,671.38 L381.58,670.04 L382.02,668.71 L382.46,667.37 L382.90,666.03 L383.34,664.70 L383.77,663.36 L384.21,662.02 L384.64,660.68 L385.07,659.34 L385.50,658.00 L385.93,656.66 L386.36,655.32 L386.79,653.98 L387.22,652.64 L387.64,651.30 L388.07,649.96 L388.49,648.62 L388.91,647.27 L389.34,645.93 L389.76,644.59 L390.18,643.24 L390.59,641.90 L391.01,640.56 L391.43,639.21 L391.84,637.87 L392.26,636.52 L392.67,635.18 L393.08,633.83 L393.49,632.49 L393.90,631.14 L394.31,629.79 L394.72,628.45 L395.13,627.10 L395.54,625.75 L395.95,624.41 L396.35,623.06 L396.76,621.71 L397.16,620.36 L397.57,619.02 L397.97,617.67 L398.37,616.32 L398.77,614.97 L399.17,613.62 L399.57,612.27 L399.97,610.92 L400.37,609.57 L400.77,608.22 L401.16,606.87 L401.56,605.52 L401.96,604.17 L402.35,602.82 L402.75,601.47 L403.15,600.12 L403.54,598.77 L403.93,597.42 L404.33,596.07 L404.72,594.72 L405.11,593.37 L405.51,592.02 L405.90,590.66 L406.29,589.31 L406.68,587.96 L407.07,586.61 L407.46,585.26 L407.85,583.90 L408.24,582.55 L408.63,581.20 L409.02,579.85 L409.41,578.50 L409.80,577.14 L410.19,575.79 L410.58,574.44 L410.97,573.09 L411.36,571.73 L411.75,570.38 L412.14,569.03 L412.52,567.68 L412.91,566.32 L413.30,564.97 L413.69,563.62 L414.07,562.27 L414.46,560.91 L414.85,559.56 L415.24,558.21 L415.63,556.85 L416.01,555.50 L416.40,554.15 L416.79,552.80 L417.18,551.45 L417.57,550.09 L417.96,548.74 L418.35,547.39 L418.74,546.04 L419.13,544.68 L419.52,543.33 L419.91,541.98 L420.30,540.63 L420.69,539.28 L421.08,537.92 L421.47,536.57 L421.86,535.22 L422.26,533.87 L422.65,532.52 L423.04,531.17 L423.43,529.81 L423.83,528.46 L424.22,527.11 L424.62,525.76 L425.01,524.41 L425.41,523.06 L425.80,521.71 L426.20,520.36 L426.60,519.01 L427.00,517.66 L427.39,516.31 L427.79,514.96 L428.19,513.61 L428.59,512.26 L428.99,510.91 L429.39,509.56 L429.79,508.22 L430.19,506.87 L430.60,505.52 L431.00,504.17 L431.41,502.82 L431.82,501.48 L432.22,500.13 L432.63,498.78 L433.04,497.44 L433.45,496.09 L433.86,494.75 L434.27,493.40 L434.69,492.05 L435.10,490.71 L435.51,489.36 L435.93,488.02 L436.34,486.67 L436.76,485.33 L437.18,483.99 L437.60,482.64 L438.03,481.30 L438.45,479.96 L438.88,478.62 L439.31,477.28 L439.75,475.94 L440.18,474.61 L440.62,473.27 L441.06,471.93 L441.51,470.60 L441.95,469.26 L442.40,467.93 L442.85,466.59 L443.30,465.26 L443.75,463.93 L444.21,462.60 L444.67,461.27 L445.13,459.94 L445.59,458.61 L446.06,457.28 L446.53,455.95 L447.00,454.63 L447.47,453.30 L447.94,451.98 L448.42,450.65 L448.90,449.33 L449.38,448.01 L449.87,446.69 L450.36,445.37 L450.86,444.05 L451.36,442.74 L451.86,441.42 L452.36,440.11 L452.87,438.80 L453.37,437.48 L453.88,436.17 L454.39,434.86 L454.90,433.55 L455.41,432.23 L455.92,430.92 L456.43,429.61 L456.93,428.30 L457.44,426.98 L457.94,425.67 L458.44,424.35 L458.94,423.04 L459.44,421.72 L459.93,420.40 L460.42,419.08 L460.92,417.77 L461.41,416.45 L461.90,415.13 L462.39,413.81 L462.88,412.49 L463.38,411.17 L463.87,409.85 L464.37,408.54 L464.87,407.22 L465.37,405.91 L465.88,404.59 L466.38,403.28 L466.89,401.97 L467.41,400.66 L467.93,399.36 L468.45,398.05 L468.97,396.74 L469.49,395.43 L470.01,394.12 L470.53,392.81 L471.06,391.50 L471.58,390.20 L472.11,388.89 L472.65,387.58 L473.18,386.28 L473.72,384.98 L474.27,383.68 L474.82,382.39 L475.38,381.10 L475.95,379.81 L476.52,378.53 L477.10,377.25 L477.69,375.98 L478.29,374.71 L478.89,373.44 L479.50,372.17 L480.11,370.90 L480.73,369.64 L481.36,368.37 L482.00,367.11 L482.64,365.85 L483.29,364.59 L483.94,363.34 L484.61,362.09 L485.28,360.85 L485.95,359.61 L486.64,358.38 L487.33,357.15 L488.04,355.93 L488.75,354.72 L489.47,353.52 L490.20,352.32 L490.93,351.13 L491.68,349.96 L492.44,348.78 L493.21,347.61 L493.99,346.45 L494.78,345.28 L495.58,344.12 L496.39,342.97 L497.21,341.81 L498.04,340.67 L498.88,339.53 L499.73,338.39 L500.59,337.26 L501.45,336.14 L502.33,335.02 L503.21,333.92 L504.10,332.82 L505.00,331.72 L505.91,330.64 L506.82,329.57 L507.74,328.50 L508.67,327.45 L509.60,326.40 L510.54,325.37 L511.48,324.35 L512.44,323.33 L513.40,322.32 L514.38,321.31 L515.37,320.30 L516.37,319.30 L517.39,318.31 L518.41,317.33 L519.45,316.35 L520.49,315.39 L521.54,314.43 L522.61,313.50 L523.68,312.57 L524.77,311.66 L525.86,310.77 L526.96,309.90 L528.07,309.04 L529.19,308.21 L530.32,307.40 L531.45,306.61 L532.61,305.83 L533.78,305.06 L534.96,304.30 L536.16,303.55 L537.37,302.82 L538.59,302.10 L539.82,301.39 L541.07,300.70 L542.31,300.02 L543.57,299.36 L544.83,298.72 L546.10,298.10 L547.37,297.50 L548.64,296.91 L549.92,296.35 L551.20,295.80 L552.49,295.26 L553.80,294.73 L555.11,294.21 L556.42,293.71 L557.75,293.21 L559.08,292.73 L560.41,292.26 L561.75,291.81 L563.10,291.37 L564.44,290.94 L565.79,290.53 L567.14,290.14 L568.49,289.76 L569.84,289.39 L571.20,289.03 L572.56,288.68 L573.93,288.35 L575.30,288.01 L576.67,287.69 L578.04,287.38 L579.42,287.08 L580.80,286.79 L582.19,286.51 L583.57,286.24 L584.96,285.98 L586.34,285.73 L587.73,285.49 L589.11,285.27 L590.50,285.05 L591.89,284.84 L593.28,284.63 L594.67,284.43 L596.07,284.24 L597.47,284.06 L598.86,283.88 L600.26,283.70 L601.66,283.54 L603.06,283.38 L604.46,283.22 L605.86,283.08 L607.26,282.93 L608.66,282.80 L610.06,282.67 L611.46,282.54 L612.86,282.42 L614.26,282.31 L615.67,282.19 L617.07,282.09 L618.47,281.98 L619.88,281.88 L621.28,281.78 L622.69,281.68 L624.09,281.59 L625.50,281.49 L626.90,281.40 L628.30,281.31 L629.71,281.23 L631.11,281.14 L632.52,281.06 L633.92,280.98 L635.33,280.89 L636.73,280.82 L638.14,280.74 L639.54,280.66 L640.95,280.59 L642.35,280.52 L643.76,280.45 L645.17,280.38 L646.57,280.32 L647.98,280.25 L649.38,280.19 L650.79,280.13 L652.19,280.07 L653.60,280.02 L655.01,279.96 L656.41,279.91 L657.82,279.86 L659.23,279.81 L660.63,279.76 L662.04,279.71 L663.45,279.67 L664.85,279.62 L666.26,279.57 L667.66,279.52 L669.07,279.47 L670.48,279.42 L671.88,279.37 L673.29,279.33 L674.70,279.28 L676.10,279.23 L677.51,279.18 L678.92,279.13 L680.32,279.09 L681.73,279.04 L683.13,278.99 L684.54,278.95 L685.95,278.91 L687.35,278.86 L688.76,278.82 L690.17,278.78 L691.57,278.74 L692.98,278.70 L694.39,278.66 L695.79,278.62 L697.20,278.58 L698.61,278.54 L700.01,278.50 L701.42,278.47 L702.83,278.43 L704.23,278.39 L705.64,278.36 L707.05,278.33 L708.46,278.30 L709.86,278.27 L711.27,278.24 L712.68,278.21 L714.08,278.18 L715.49,278.16 L716.90,278.13 L718.30,278.11 L719.71,278.08 L721.12,278.06 L722.52,278.03 L723.93,278.01 L725.34,277.98 L726.75,277.96 L728.15,277.93 L729.56,277.90 L730.97,277.87 L732.37,277.84 L733.78,277.80 L735.19,277.77 L736.59,277.74 L738.00,277.70 L739.41,277.67 L740.81,277.63 L742.22,277.60 L743.63,277.56 L745.03,277.52 L746.44,277.49 L747.85,277.45 L749.25,277.41 L750.66,277.37 L752.07,277.34 L753.47,277.30 L754.88,277.26 L756.29,277.22 L757.70,277.18 L759.10,277.14 L760.51,277.10 L761.92,277.06 L763.32,277.02 L764.73,276.98 L766.13,276.94 L767.54,276.89 L768.95,276.85 L770.35,276.80 L771.76,276.76 L773.17,276.71 L774.57,276.66 L775.98,276.61 L777.39,276.55 L778.79,276.50 L780.20,276.45 L781.60,276.39 L783.01,276.33 L784.42,276.27 L785.82,276.22 L787.23,276.15 L788.63,276.09 L790.04,276.03 L791.45,275.97 L792.85,275.90 L794.26,275.83 L795.66,275.77 L797.07,275.70 L798.47,275.63 L799.88,275.56 L801.28,275.48 L802.69,275.41 L804.10,275.34 L805.50,275.26 L806.91,275.18 L808.31,275.10 L809.72,275.02 L811.12,274.93 L812.53,274.85 L813.93,274.76 L815.33,274.67 L816.74,274.58 L818.14,274.48 L819.55,274.39 L820.95,274.29 L822.35,274.19 L823.76,274.09 L825.16,273.98 L826.56,273.88 L827.97,273.77 L829.37,273.66 L830.77,273.55 L832.17,273.43 L833.58,273.32 L834.98,273.20 L836.38,273.08 L837.78,272.95 L839.19,272.83 L840.59,272.70 L841.99,272.57 L843.39,272.44 L844.79,272.31 L846.19,272.18 L847.60,272.04 L849.00,271.90 L850.40,271.76 L851.80,271.62 L853.20,271.48 L854.60,271.33 L856.00,271.19 L857.40,271.04 L858.80,270.89 L860.20,270.74 L861.59,270.58 L862.99,270.43 L864.39,270.27 L865.79,270.11 L867.18,269.95 L868.58,269.79 L869.98,269.62 L871.37,269.45 L872.77,269.28 L874.16,269.10 L875.56,268.91 L876.95,268.73 L878.35,268.54 L879.74,268.35 L881.13,268.15 L882.53,267.96 L883.92,267.76 L885.31,267.56 L886.71,267.35 L888.10,267.15 L889.49,266.94 L890.88,266.73 L892.28,266.52 L893.67,266.31 L895.06,266.10 L896.45,265.88 L897.84,265.67 L899.23,265.45 L900.63,265.24 L902.02,265.02 L903.41,264.81 L904.80,264.59 L906.19,264.38 L907.58,264.16 L908.97,263.95 L910.36,263.74 L911.75,263.52 L913.14,263.30 L914.53,263.08 L915.92,262.86 L917.31,262.63 L918.70,262.41 L920.09,262.18 L921.48,261.95 L922.87,261.72 L924.25,261.49 L925.64,261.26 L927.03,261.02 L928.42,260.79 L929.81,260.56 L931.19,260.33 L932.58,260.10 L933.97,259.87 L935.36,259.64 L936.75,259.41 L938.14,259.18 L939.53,258.96 L940.92,258.74 L942.31,258.52 L943.70,258.30 L945.09,258.08 L946.48,257.86 L947.87,257.64 L949.26,257.42 L950.65,257.20 L952.04,256.98 L953.43,256.76 L954.82,256.54 L956.21,256.32 L957.60,256.10 L958.99,255.88 L960.38,255.66 L961.77,255.44 L963.16,255.22 L964.55,255.01 L965.94,254.79 L967.33,254.58 L968.72,254.37 L970.12,254.16 L971.51,253.95 L972.90,253.74 L974.29,253.54 L975.69,253.34 L977.08,253.14 L978.47,252.95 L979.87,252.75 L981.26,252.56 L982.65,252.38 L984.05,252.20 L985.44,252.02 L986.84,251.84 L988.23,251.67 L989.63,251.49 L991.03,251.32 L992.42,251.15 L993.82,250.98 L995.22,250.82 L996.61,250.65 L998.01,250.49 L999.41,250.32 L1000.81,250.16 L1002.21,250.00 L1003.61,249.84 L1005.01,249.68 L1006.40,249.53 L1007.80,249.37 L1009.20,249.22 L1010.60,249.07 L1012.00,248.93 L1013.40,248.78 L1014.80,248.64 L1016.20,248.50 L1017.60,248.36 L1019.01,248.22 L1020.41,248.09 L1021.81,247.95 L1023.21,247.82 L1024.61,247.70 L1026.01,247.57 L1027.41,247.45 L1028.81,247.33 L1030.22,247.22 L1031.62,247.10 L1033.02,246.99 L1034.42,246.88 L1035.82,246.77 L1037.23,246.66 L1038.63,246.55 L1040.03,246.44 L1041.44,246.34 L1042.84,246.23 L1044.24,246.13 L1045.65,246.03 L1047.05,245.93 L1048.46,245.83 L1049.86,245.74 L1051.26,245.64 L1052.67,245.55 L1054.07,245.46 L1055.48,245.36 L1056.88,245.27 L1058.29,245.19 L1059.69,245.10 L1061.10,245.01 L1062.50,244.93 L1063.91,244.85 L1065.31,244.77 L1066.72,244.69 L1068.12,244.61 L1069.53,244.53 L1070.93,244.46 L1072.34,244.38 L1073.74,244.31 L1075.15,244.24 L1076.55,244.17 L1077.96,244.10 L1079.36,244.03 L1080.77,243.96 L1082.18,243.89 L1083.58,243.83 L1084.99,243.76 L1086.39,243.70 L1087.80,243.64 L1089.21,243.58 L1090.61,243.52 L1092.02,243.47 L1093.42,243.41 L1094.83,243.36 L1096.24,243.31 L1097.64,243.27 L1099.05,243.23 L1100.46,243.19 L1101.86,243.15 L1103.27,243.12 L1104.68,243.09 L1106.08,243.06 L1107.49,243.03 L1108.90,243.00 L1110.30,242.98 L1111.71,242.95 L1113.12,242.92 L1114.53,242.89 L1115.93,242.86 L1117.34,242.82 L1118.75,242.79 L1120.15,242.75 L1121.56,242.71 L1122.97,242.67 L1124.37,242.63 L1125.78,242.59 L1127.19,242.55 L1128.59,242.51 L1130.00,242.47 L1131.41,242.43 L1132.81,242.39 L1134.22,242.35 L1135.63,242.31 L1137.03,242.26 L1138.44,242.22 L1139.85,242.18 L1141.25,242.13 L1142.66,242.09 L1144.07,242.05 L1145.47,242.02 L1146.88,241.99 L1148.29,241.96 L1149.69,241.93 L1151.10,241.91 L1152.51,241.89 L1153.91,241.87 L1155.32,241.86 L1156.73,241.84 L1158.14,241.82 L1159.54,241.81 L1160.95,241.79 L1162.36,241.77 L1163.76,241.76 L1165.17,241.74 L1166.58,241.71 L1167.99,241.69 L1169.39,241.66 L1170.80,241.63 L1172.21,241.60 L1173.61,241.57 L1175.02,241.54 L1176.43,241.51 L1177.83,241.48 L1179.24,241.45 L1180.65,241.43 L1182.06,241.41 L1183.46,241.38 L1184.87,241.37 L1186.28,241.36 L1187.68,241.35 L1189.09,241.34 L1190.50,241.33 L1191.90,241.33 L1193.31,241.32 L1194.72,241.32 L1196.13,241.32 L1197.53,241.31 L1198.94,241.31 L1200.35,241.31 L1201.76,241.30 L1203.16,241.30 L1204.57,241.30 L1205.98,241.29 L1207.38,241.29 L1208.79,241.28 L1210.20,241.27 L1211.61,241.26 L1213.01,241.24 L1214.42,241.22 L1215.83,241.20 L1217.23,241.18 L1218.64,241.16 L1220.05,241.14 L1221.46,241.12 L1222.86,241.10 L1224.27,241.08 L1225.68,241.07 L1227.08,241.06 L1228.49,241.05 L1229.90,241.04 L1231.31,241.03 L1232.71,241.02 L1234.12,241.01 L1235.53,241.00 L1236.93,240.99 L1238.34,240.98 L1239.75,240.97 L1241.16,240.95 L1242.56,240.94 L1243.97,240.93 L1245.38,240.92 L1246.78,240.91 L1248.19,240.90 L1249.60,240.89 L1251.01,240.88 L1252.41,240.87 L1253.82,240.86 L1255.23,240.85 L1256.63,240.83 L1258.04,240.82 L1259.45,240.81 L1260.86,240.80 L1262.26,240.79 L1263.67,240.78 L1265.08,240.77 L1266.49,240.76 L1267.89,240.75 L1269.30,240.74 L1270.71,240.73 L1272.11,240.72 L1273.52,240.71 L1274.93,240.70 L1276.34,240.69 L1277.74,240.68 L1279.15,240.67 L1280.56,240.66 L1281.96,240.64 L1283.37,240.63 L1284.78,240.62 L1286.19,240.60 L1287.59,240.58 L1289.00,240.56 L1290.41,240.53 L1291.81,240.51 L1293.22,240.48 L1294.63,240.45 L1296.03,240.43 L1297.44,240.40 L1298.85,240.38 L1300.26,240.37 L1301.66,240.35 L1303.07,240.34 L1304.48,240.32 L1305.88,240.31 L1307.29,240.30 L1308.70,240.29 L1310.11,240.28 L1311.51,240.27 L1312.92,240.25 L1314.33,240.24 L1315.73,240.22 L1317.14,240.21 L1318.55,240.19 L1319.96,240.16 L1321.36,240.14 L1322.77,240.11 L1324.18,240.09 L1325.58,240.06 L1326.99,240.04 L1328.40,240.01 L1329.80,239.98 L1331.21,239.96 L1332.62,239.93 L1334.03,239.91 L1335.43,239.88 L1336.84,239.86 L1338.25,239.83 L1339.65,239.81 L1341.06,239.78 L1342.47,239.76 L1343.87,239.73 L1345.28,239.71 L1346.69,239.69 L1348.10,239.66 L1349.50,239.64 L1350.91,239.61 L1352.32,239.59 L1353.72,239.56 L1355.13,239.54 L1356.54,239.51 L1357.94,239.49 L1359.35,239.46 L1360.76,239.44 L1362.17,239.41 L1363.57,239.39 L1364.98,239.37 L1366.39,239.34 L1367.79,239.32 L1369.20,239.29 L1370.61,239.27 L1372.01,239.25 L1373.42,239.22 L1374.83,239.20 L1376.24,239.17 L1377.64,239.15 L1379.05,239.12 L1380.46,239.10 L1381.86,239.07 L1383.27,239.04 L1384.68,239.01 L1386.08,238.98 L1387.49,238.96 L1388.90,238.93 L1390.31,238.90 L1391.71,238.87 L1393.12,238.84 L1394.53,238.81 L1395.93,238.78 L1397.34,238.75 L1398.75,238.73 L1400.15,238.71 L1401.56,238.68 L1402.97,238.66 L1404.37,238.64 L1405.78,238.62 L1407.19,238.59 L1408.60,238.57 L1410.00,238.55 L1411.41,238.53 L1412.82,238.51 L1414.22,238.48 L1415.63,238.46 L1417.04,238.44 L1418.45,238.41 L1419.85,238.39 L1421.26,238.36 L1422.67,238.34 L1424.07,238.31 L1425.48,238.28 L1426.89,238.26 L1428.29,238.23 L1429.70,238.20 L1431.11,238.18 L1432.52,238.15 L1433.92,238.12 L1435.33,238.10 L1436.74,238.07 L1438.14,238.05 L1439.55,238.03 L1440.96,238.00 L1442.36,237.98 L1443.77,237.96 L1445.18,237.94 L1446.59,237.92 L1447.99,237.90 L1449.40,237.88 L1450.81,237.86 L1452.21,237.83 L1453.62,237.81 L1455.03,237.79 L1456.43,237.76 L1457.84,237.73 L1459.25,237.70 L1460.66,237.67 L1462.06,237.64 L1463.47,237.60 L1464.88,237.56 L1466.28,237.52 L1467.69,237.48 L1469.10,237.45 L1470.50,237.41 L1471.91,237.37 L1473.32,237.34 L1474.72,237.31 L1476.13,237.29 L1477.54,237.26 L1478.94,237.24 L1480.35,237.23 L1481.76,237.22 L1483.17,237.20 L1484.57,237.19 L1485.98,237.18 L1487.39,237.17 L1488.79,237.16 L1490.20,237.16 L1491.61,237.15 L1493.02,237.14 L1494.42,237.13 L1495.83,237.11 L1497.24,237.10 L1498.64,237.09 L1500.05,237.07 L1501.46,237.05 L1502.87,237.02 L1504.27,236.98 L1505.68,236.94 L1507.09,236.89 L1508.49,236.85 L1509.90,236.80 L1511.31,236.76 L1512.71,236.72 L1514.12,236.69 L1515.53,236.66 L1516.93,236.64 L1518.34,236.62 L1519.75,236.61 L1521.15,236.59 L1522.56,236.58 L1523.97,236.57 L1525.38,236.56 L1526.78,236.55 L1528.19,236.53 L1529.60,236.52 L1531.00,236.51 L1532.41,236.50 L1533.82,236.49 L1535.23,236.47 L1536.63,236.46 L1538.04,236.45 L1539.45,236.43 L1540.85,236.42 L1542.26,236.41 L1543.67,236.39 L1545.08,236.38 L1546.48,236.37 L1547.89,236.36 L1549.30,236.34 L1550.70,236.33 L1552.11,236.32 L1553.52,236.30 L1554.93,236.29 L1556.33,236.28 L1557.74,236.26 L1559.15,236.25 L1560.55,236.24 L1561.96,236.23 L1563.37,236.21 L1564.78,236.20 L1566.18,236.19 L1567.59,236.17 L1569.00,236.16 L1570.40,236.15 L1571.81,236.14 L1573.22,236.13 L1574.63,236.11 L1576.03,236.10 L1577.44,236.09 L1578.85,236.07 L1580.25,236.06 L1581.66,236.04 L1583.07,236.02 L1584.48,235.99 L1585.88,235.96 L1587.29,235.94 L1588.70,235.91 L1590.10,235.88 L1591.51,235.85 L1592.92,235.83 L1594.32,235.80 L1595.73,235.79 L1597.14,235.78 L1598.55,235.77 L1599.95,235.76 L1601.36,235.76 L1602.77,235.75 L1604.18,235.75 L1605.58,235.75 L1606.99,235.74 L1608.40,235.74 L1609.80,235.73 L1611.21,235.73 L1612.62,235.72 L1614.03,235.72 L1615.43,235.71 L1616.84,235.70 L1618.25,235.69 L1619.65,235.67 L1621.06,235.66 L1622.47,235.64 L1623.88,235.62 L1625.28,235.61 L1626.69,235.59 L1628.10,235.57 L1629.50,235.55 L1630.91,235.54 L1632.32,235.52 L1633.73,235.51 L1635.13,235.49 L1636.54,235.48 L1637.95,235.46 L1639.35,235.45 L1640.76,235.43 L1642.17,235.42 L1643.58,235.40 L1644.98,235.39 L1646.39,235.37 L1647.80,235.36 L1649.20,235.34 L1650.61,235.33 L1652.02,235.31 L1653.43,235.30 L1654.83,235.28 L1656.24,235.27 L1657.65,235.25 L1659.05,235.24 L1660.46,235.22 L1661.87,235.21 L1663.28,235.19 L1664.68,235.18 L1666.09,235.16 L1667.50,235.15 L1668.90,235.13 L1670.31,235.11 L1671.72,235.10 L1673.13,235.08 L1674.53,235.07 L1675.94,235.05 L1677.35,235.03 L1678.75,235.02 L1680.16,235.01 L1681.57,234.99 L1682.98,234.98 L1684.38,234.97 L1685.79,234.96 L1687.20,234.96 L1688.60,234.95 L1690.01,234.94 L1691.42,234.93 L1692.83,234.93 L1694.23,234.92 L1695.64,234.91 L1697.05,234.90 L1698.45,234.89 L1699.86,234.88 L1701.27,234.87 L1702.68,234.86 L1704.08,234.84 L1705.49,234.83 L1706.90,234.81 L1708.30,234.79 L1709.71,234.78 L1711.12,234.76 L1712.53,234.75 L1713.93,234.73 L1715.34,234.72 L1716.75,234.71 L1718.15,234.71 L1719.56,234.70 L1720.97,234.69 L1722.38,234.68 L1723.78,234.68 L1725.19,234.67 L1726.60,234.67 L1728.01,234.66 L1729.41,234.65 L1730.82,234.65 L1732.23,234.64 L1733.63,234.63 L1735.04,234.62 L1736.45,234.62 L1737.86,234.61 L1739.26,234.60 L1740.67,234.60 L1742.08,234.59 L1743.48,234.58 L1744.89,234.58 L1746.30,234.57 L1747.71,234.56 L1749.11,234.55 L1750.52,234.55 L1751.93,234.54 L1753.33,234.53 L1754.74,234.53 L1756.15,234.52 L1757.56,234.51 L1758.96,234.51 L1760.37,234.50 L1761.78,234.49 L1763.19,234.48 L1764.59,234.48 L1766.00,234.47 L1767.41,234.46 L1768.81,234.46 L1770.22,234.45 L1771.63,234.44 L1773.04,234.43 L1774.44,234.43 L1775.85,234.42 L1777.26,234.41 L1778.66,234.41 L1780.07,234.40 L1781.48,234.39 L1782.89,234.39 L1784.29,234.38 L1785.70,234.37 L1787.11,234.36 L1788.51,234.36 L1789.92,234.35 L1791.33,234.34 L1792.74,234.34 L1794.14,234.33 L1795.55,234.32 L1796.96,234.32 L1798.37,234.31 L1799.77,234.30 L1801.18,234.29 L1802.59,234.29 L1803.99,234.28 L1805.40,234.27 L1806.81,234.27 L1808.22,234.26 L1809.62,234.25 L1811.03,234.24 L1812.44,234.24 L1813.84,234.23 L1815.25,234.22 L1816.66,234.22 L1818.07,234.21 L1819.47,234.20 L1820.88,234.20 L1822.29,234.19 L1823.69,234.18 L1825.10,234.17 L1826.51,234.17 L1827.92,234.16 L1829.32,234.15 L1830.73,234.15 L1832.14,234.14 L1833.55,234.13 L1834.95,234.13 L1836.36,234.12 L1837.77,234.11 L1839.17,234.10 L1840.58,234.10 L1841.99,234.09 L1843.40,234.08 L1844.80,234.08 L1846.21,234.07 L1847.62,234.06 L1849.02,234.05 L1850.43,234.05 L1851.84,234.04 L1853.25,234.03 L1854.65,234.03 L1856.06,234.02 L1857.47,234.01 L1858.87,234.01 L1860.28,234.00 L1861.69,233.99 L1863.10,233.98 L1864.50,233.98 L1865.91,233.97 L1867.32,233.96 L1868.73,233.96 L1870.13,233.95 L1871.54,233.94 L1872.95,233.94 L1874.35,233.93 L1875.76,233.92 L1877.17,233.92 L1878.58,233.91 L1879.98,233.90 L1881.39,233.90 L1882.80,233.89 L1884.20,233.88 L1885.61,233.87 L1887.02,233.86 L1888.43,233.85 L1889.83,233.84 L1891.24,233.83 L1892.65,233.82 L1894.05,233.81 L1895.46,233.79 L1896.87,233.78 L1898.28,233.77 L1899.68,233.76 L1901.09,233.75 L1902.50,233.75 L1903.90,233.74 L1905.31,233.73 L1906.72,233.72 L1908.13,233.72 L1909.53,233.71 L1910.94,233.70 L1912.35,233.69 L1913.76,233.69 L1915.16,233.68 L1916.57,233.67 L1917.98,233.66 L1919.38,233.65 L1920.79,233.64 L1922.20,233.63 L1923.61,233.62 L1925.01,233.60 L1926.42,233.59 L1927.83,233.58 L1929.23,233.57 L1930.64,233.56 L1932.05,233.55 L1933.46,233.54 L1934.86,233.52 L1936.27,233.51 L1937.68,233.50 L1939.08,233.49 L1940.49,233.48 L1941.90,233.47 L1943.31,233.46 L1944.71,233.45 L1946.12,233.43 L1947.53,233.42 L1948.93,233.41 L1950.34,233.40 L1951.75,233.39 L1953.16,233.38 L1954.56,233.37 L1955.97,233.36 L1957.38,233.35 L1958.78,233.33 L1960.19,233.32 L1961.60,233.31 L1963.01,233.30 L1964.41,233.29 L1965.82,233.28 L1967.23,233.27 L1968.64,233.26 L1970.04,233.25 L1971.45,233.23 L1972.86,233.22 L1974.26,233.21 L1975.67,233.20 L1977.08,233.19 L1978.49,233.18 L1979.89,233.17 L1981.30,233.16 L1982.71,233.14 L1984.11,233.13 L1985.52,233.12 L1986.93,233.11 L1988.34,233.10 L1989.74,233.09 L1991.15,233.08 L1992.56,233.07 L1993.96,233.06 L1995.37,233.04 L1996.78,233.03 L1998.19,233.02 L1999.59,233.01 L2001.00,233.00" stroke="#7E2F8E"/>
</g>
<rect x="1358" y="465" width="611" height="289.70000000000005" fill="#fff" stroke="#262626" stroke-width="2"/>
<line x1="1368" y1="504.5" x2="1471" y2="504.5" stroke="#0072BD" stroke-width="6.2"/>
<text x="1478.5" y="526.9" font-family="Liberation Serif, Times New Roman, serif" font-size="62" fill="#000">Sonar 1</text>
<line x1="1368" y1="574.6" x2="1471" y2="574.6" stroke="#D95319" stroke-width="6.2"/>
<text x="1478.5" y="597.0" font-family="Liberation Serif, Times New Roman, serif" font-size="62" fill="#000">Sonar 2</text>
<line x1="1368" y1="644.5" x2="1471" y2="644.5" stroke="#EDB120" stroke-width="6.2"/>
<text x="1478.5" y="666.9" font-family="Liberation Serif, Times New Roman, serif" font-size="62" fill="#000">Sonar 3</text>
<line x1="1368" y1="714.5" x2="1471" y2="714.5" stroke="#7E2F8E" stroke-width="6.2"/>
<text x="1478.5" y="736.9" font-family="Liberation Serif, Times New Roman, serif" font-size="62" fill="#000">Multi-sonar system</text>
<g font-family="Liberation Serif, Times New Roman, serif" fill="#262626" font-size="70.5">
<text x="466.97" y="902.6" text-anchor="middle">50</text>
<text x="714.40" y="902.6" text-anchor="middle">100</text>
<text x="961.82" y="902.6" text-anchor="middle">150</text>
<text x="1209.25" y="902.6" text-anchor="middle">200</text>
<text x="1456.67" y="902.6" text-anchor="middle">250</text>
<text x="1704.09" y="902.6" text-anchor="middle">300</text>
<text x="1951.52" y="902.6" text-anchor="middle">350</text>
<text x="203.5" y="842.9" text-anchor="end">0</text>
<text x="198.9" y="549.1" text-anchor="end" letter-spacing="-2">0.5</text>
<text x="202.5" y="255.4" text-anchor="end">1</text>
</g>
<g font-family="Liberation Serif, Times New Roman, serif" fill="#262626" font-size="75.7">
<text x="1113.3" y="988.0" text-anchor="middle">Time</text>
<text transform="translate(92.8,524.6) rotate(-90)" text-anchor="middle">Cumulative detection probability</text>
</g>
<g font-family="Liberation Serif, Times New Roman, serif" fill="#000" font-size="75.7" text-anchor="middle">
<text x="1112.8" y="113.3">Cumulative detection probability curve</text>
<text x="1112.8" y="200.0">under Fully-passive working mode of sonar</text>
</g>
<g stroke="#262626" stroke-width="2" fill="none">
<line x1="466.97" y1="1973.8" x2="466.97" y2="1955.3"/><line x1="466.97" y1="1386.8" x2="466.97" y2="1405.3"/>
<line x1="714.40" y1="1973.8" x2="714.40" y2="1955.3"/><line x1="714.40" y1="1386.8" x2="714.40" y2="1405.3"/>
<line x1="961.82" y1="1973.8" x2="961.82" y2="1955.3"/><line x1="961.82" y1="1386.8" x2="961.82" y2="1405.3"/>
<line x1="1209.25" y1="1973.8" x2="1209.25" y2="1955.3"/><line x1="1209.25" y1="1386.8" x2="1209.25" y2="1405.3"/>
<line x1="1456.67" y1="1973.8" x2="1456.67" y2="1955.3"/><line x1="1456.67" y1="1386.8" x2="1456.67" y2="1405.3"/>
<line x1="1704.09" y1="1973.8" x2="1704.09" y2="1955.3"/><line x1="1704.09" y1="1386.8" x2="1704.09" y2="1405.3"/>
<line x1="1951.52" y1="1973.8" x2="1951.52" y2="1955.3"/><line x1="1951.52" y1="1386.8" x2="1951.52" y2="1405.3"/>
<line x1="224.5" y1="1973.80" x2="243.0" y2="1973.80"/><line x1="2001.0" y1="1973.80" x2="1982.5" y2="1973.80"/>
<line x1="224.5" y1="1680.30" x2="243.0" y2="1680.30"/><line x1="2001.0" y1="1680.30" x2="1982.5" y2="1680.30"/>
<line x1="224.5" y1="1386.80" x2="243.0" y2="1386.80"/><line x1="2001.0" y1="1386.80" x2="1982.5" y2="1386.80"/>
<rect x="224.5" y="1386.8" width="1776.5" height="587.0"/>
</g>
<g clip-path="url(#c2)" fill="none" stroke-width="6.2" stroke-linejoin="round" stroke-linecap="butt">
<path d="M224.50,1974.00 L227.47,1973.92 L230.43,1973.79 L233.40,1973.60 L236.36,1973.27 L239.33,1972.71 L242.29,1971.60 L245.26,1969.98 L248.23,1967.95 L251.19,1965.69 L254.16,1963.29 L257.12,1960.52 L260.09,1957.34 L263.06,1953.79 L266.02,1949.93 L268.99,1945.85 L271.95,1941.58 L274.92,1936.91 L277.88,1931.84 L280.85,1926.43 L283.82,1920.72 L286.78,1914.57 L289.75,1908.01 L292.71,1901.06 L295.68,1893.63 L298.64,1885.79 L301.61,1877.63 L304.58,1869.12 L307.54,1860.24 L310.51,1850.99 L313.47,1841.36 L316.44,1831.36 L319.40,1820.98 L322.37,1810.19 L325.34,1799.08 L328.30,1787.65 L331.27,1775.92 L334.23,1764.04 L337.20,1751.96 L340.17,1739.85 L343.13,1727.79 L346.10,1715.78 L349.06,1704.01 L352.03,1692.44 L354.99,1681.10 L357.96,1670.03 L360.93,1659.20 L363.89,1648.63 L366.86,1638.31 L369.82,1628.24 L372.79,1618.42 L375.75,1608.85 L378.72,1599.51 L381.69,1590.41 L384.65,1581.55 L387.62,1572.90 L390.58,1564.47 L393.55,1556.23 L396.52,1548.18 L399.48,1540.34 L402.45,1532.73 L405.41,1525.28 L408.38,1518.01 L411.34,1511.20 L414.31,1504.97 L417.28,1499.08 L420.24,1493.51 L423.21,1488.25 L426.17,1483.29 L429.14,1478.63 L432.10,1474.37 L435.07,1470.49 L438.04,1466.85 L441.00,1463.38 L443.97,1460.05 L446.93,1456.87 L449.90,1453.81 L452.86,1450.89 L455.83,1448.08 L458.80,1445.43 L461.76,1442.91 L464.73,1440.51 L467.69,1438.22 L470.66,1436.03 L473.63,1433.93 L476.59,1431.91 L479.56,1429.99 L482.52,1428.14 L485.49,1426.40 L488.45,1424.74 L491.42,1423.16 L494.39,1421.66 L497.35,1420.23 L500.32,1418.88 L503.28,1417.60 L506.25,1416.37 L509.21,1415.23 L512.18,1414.18 L515.15,1413.20 L518.11,1412.25 L521.08,1411.36 L524.04,1410.53 L527.01,1409.77 L529.97,1409.11 L532.94,1408.50 L535.91,1407.93 L538.87,1407.41 L541.84,1406.92 L544.80,1406.48 L547.77,1406.10 L550.74,1405.77 L553.70,1405.47 L556.67,1405.21 L559.63,1404.96 L562.60,1404.74 L565.56,1404.54 L568.53,1404.36 L571.50,1404.19 L574.46,1404.05 L577.43,1403.92 L580.39,1403.80 L583.36,1403.69 L586.32,1403.57 L589.29,1403.45 L592.26,1403.34 L595.22,1403.23 L598.19,1403.13 L601.15,1403.03 L604.12,1402.95 L607.09,1402.88 L610.05,1402.83 L613.02,1402.78 L615.98,1402.74 L618.95,1402.70 L621.91,1402.66 L624.88,1402.62 L627.85,1402.57 L630.81,1402.52 L633.78,1402.48 L636.74,1402.44 L639.71,1402.42 L642.67,1402.39 L645.64,1402.37 L648.61,1402.35 L651.57,1402.33 L654.54,1402.32 L657.50,1402.33 L660.47,1402.35 L663.43,1402.37 L666.40,1402.41 L669.37,1402.44 L672.33,1402.48 L675.30,1402.51 L678.26,1402.54 L681.23,1402.56 L684.20,1402.57 L687.16,1402.57 L690.13,1402.56 L693.09,1402.53 L696.06,1402.48 L699.02,1402.41 L701.99,1402.32 L704.96,1402.21 L707.92,1402.10 L710.89,1402.00 L713.85,1401.91 L716.82,1401.86 L719.78,1401.83 L722.75,1401.80 L725.72,1401.78 L728.68,1401.76 L731.65,1401.74 L734.61,1401.71 L737.58,1401.68 L740.55,1401.66 L743.51,1401.63 L746.48,1401.60 L749.44,1401.57 L752.41,1401.54 L755.37,1401.51 L758.34,1401.48 L761.31,1401.45 L764.27,1401.42 L767.24,1401.39 L770.20,1401.36 L773.17,1401.33 L776.13,1401.30 L779.10,1401.26 L782.07,1401.23 L785.03,1401.20 L788.00,1401.16 L790.96,1401.13 L793.93,1401.10 L796.89,1401.06 L799.86,1401.03 L802.83,1400.99 L805.79,1400.95 L808.76,1400.91 L811.72,1400.88 L814.69,1400.85 L817.66,1400.82 L820.62,1400.79 L823.59,1400.75 L826.55,1400.68 L829.52,1400.60 L832.48,1400.49 L835.45,1400.36 L838.42,1400.22 L841.38,1400.06 L844.35,1399.89 L847.31,1399.72 L850.28,1399.54 L853.24,1399.35 L856.21,1399.16 L859.18,1398.98 L862.14,1398.79 L865.11,1398.62 L868.07,1398.45 L871.04,1398.29 L874.01,1398.15 L876.97,1398.02 L879.94,1397.91 L882.90,1397.80 L885.87,1397.70 L888.83,1397.60 L891.80,1397.49 L894.77,1397.39 L897.73,1397.29 L900.70,1397.18 L903.66,1397.08 L906.63,1396.98 L909.59,1396.89 L912.56,1396.79 L915.53,1396.70 L918.49,1396.62 L921.46,1396.53 L924.42,1396.45 L927.39,1396.38 L930.35,1396.30 L933.32,1396.26 L936.29,1396.26 L939.25,1396.30 L942.22,1396.36 L945.18,1396.45 L948.15,1396.56 L951.12,1396.69 L954.08,1396.82 L957.05,1396.95 L960.01,1397.08 L962.98,1397.21 L965.94,1397.31 L968.91,1397.40 L971.88,1397.45 L974.84,1397.48 L977.81,1397.48 L980.77,1397.48 L983.74,1397.48 L986.70,1397.48 L989.67,1397.47 L992.64,1397.46 L995.60,1397.44 L998.57,1397.42 L1001.53,1397.39 L1004.50,1397.36 L1007.46,1397.32 L1010.43,1397.27 L1013.40,1397.21 L1016.36,1397.14 L1019.33,1397.06 L1022.29,1396.97 L1025.26,1396.89 L1028.23,1396.80 L1031.19,1396.71 L1034.16,1396.63 L1037.12,1396.54 L1040.09,1396.46 L1043.05,1396.37 L1046.02,1396.29 L1048.99,1396.20 L1051.95,1396.12 L1054.92,1396.04 L1057.88,1395.95 L1060.85,1395.87 L1063.81,1395.79 L1066.78,1395.71 L1069.75,1395.64 L1072.71,1395.56 L1075.68,1395.48 L1078.64,1395.41 L1081.61,1395.34 L1084.58,1395.27 L1087.54,1395.20 L1090.51,1395.13 L1093.47,1395.07 L1096.44,1395.00 L1099.40,1394.94 L1102.37,1394.88 L1105.34,1394.82 L1108.30,1394.76 L1111.27,1394.70 L1114.23,1394.64 L1117.20,1394.59 L1120.16,1394.53 L1123.13,1394.47 L1126.10,1394.41 L1129.06,1394.35 L1132.03,1394.30 L1134.99,1394.24 L1137.96,1394.19 L1140.92,1394.13 L1143.89,1394.08 L1146.86,1394.03 L1149.82,1393.97 L1152.79,1393.92 L1155.75,1393.87 L1158.72,1393.82 L1161.69,1393.77 L1164.65,1393.73 L1167.62,1393.68 L1170.58,1393.64 L1173.55,1393.59 L1176.51,1393.55 L1179.48,1393.51 L1182.45,1393.47 L1185.41,1393.43 L1188.38,1393.40 L1191.34,1393.36 L1194.31,1393.33 L1197.27,1393.30 L1200.24,1393.27 L1203.21,1393.24 L1206.17,1393.21 L1209.14,1393.19 L1212.10,1393.17 L1215.07,1393.15 L1218.04,1393.14 L1221.00,1393.13 L1223.97,1393.12 L1226.93,1393.11 L1229.90,1393.10 L1232.86,1393.09 L1235.83,1393.08 L1238.80,1393.07 L1241.76,1393.06 L1244.73,1393.05 L1247.69,1393.04 L1250.66,1393.03 L1253.62,1393.02 L1256.59,1393.01 L1259.56,1393.00 L1262.52,1392.99 L1265.49,1392.98 L1268.45,1392.97 L1271.42,1392.96 L1274.38,1392.95 L1277.35,1392.94 L1280.32,1392.93 L1283.28,1392.92 L1286.25,1392.91 L1289.21,1392.90 L1292.18,1392.89 L1295.15,1392.88 L1298.11,1392.87 L1301.08,1392.86 L1304.04,1392.85 L1307.01,1392.84 L1309.97,1392.83 L1312.94,1392.82 L1315.91,1392.81 L1318.87,1392.80 L1321.84,1392.79 L1324.80,1392.78 L1327.77,1392.77 L1330.73,1392.76 L1333.70,1392.75 L1336.67,1392.74 L1339.63,1392.73 L1342.60,1392.72 L1345.56,1392.71 L1348.53,1392.70 L1351.49,1392.70 L1354.46,1392.69 L1357.43,1392.68 L1360.39,1392.67 L1363.36,1392.66 L1366.32,1392.65 L1369.29,1392.64 L1372.26,1392.63 L1375.22,1392.62 L1378.19,1392.61 L1381.15,1392.60 L1384.12,1392.59 L1387.08,1392.58 L1390.05,1392.57 L1393.02,1392.56 L1395.98,1392.55 L1398.95,1392.54 L1401.91,1392.53 L1404.88,1392.52 L1407.84,1392.51 L1410.81,1392.50 L1413.78,1392.49 L1416.74,1392.48 L1419.71,1392.47 L1422.67,1392.46 L1425.64,1392.45 L1428.61,1392.44 L1431.57,1392.43 L1434.54,1392.42 L1437.50,1392.41 L1440.47,1392.40 L1443.43,1392.39 L1446.40,1392.38 L1449.37,1392.37 L1452.33,1392.36 L1455.30,1392.35 L1458.26,1392.34 L1461.23,1392.33 L1464.19,1392.32 L1467.16,1392.31 L1470.13,1392.30 L1473.09,1392.29 L1476.06,1392.28 L1479.02,1392.27 L1481.99,1392.26 L1484.95,1392.25 L1487.92,1392.24 L1490.89,1392.23 L1493.85,1392.22 L1496.82,1392.21 L1499.78,1392.20 L1502.75,1392.19 L1505.72,1392.18 L1508.68,1392.17 L1511.65,1392.16 L1514.61,1392.15 L1517.58,1392.14 L1520.54,1392.13 L1523.51,1392.12 L1526.48,1392.11 L1529.44,1392.10 L1532.41,1392.09 L1535.37,1392.08 L1538.34,1392.07 L1541.30,1392.06 L1544.27,1392.05 L1547.24,1392.04 L1550.20,1392.03 L1553.17,1392.02 L1556.13,1392.01 L1559.10,1392.00 L1562.07,1391.99 L1565.03,1391.98 L1568.00,1391.97 L1570.96,1391.96 L1573.93,1391.95 L1576.89,1391.94 L1579.86,1391.93 L1582.83,1391.92 L1585.79,1391.91 L1588.76,1391.90 L1591.72,1391.89 L1594.69,1391.88 L1597.65,1391.87 L1600.62,1391.86 L1603.59,1391.85 L1606.55,1391.84 L1609.52,1391.83 L1612.48,1391.82 L1615.45,1391.81 L1618.41,1391.80 L1621.38,1391.79 L1624.35,1391.78 L1627.31,1391.77 L1630.28,1391.76 L1633.24,1391.75 L1636.21,1391.74 L1639.18,1391.73 L1642.14,1391.72 L1645.11,1391.71 L1648.07,1391.70 L1651.04,1391.69 L1654.00,1391.68 L1656.97,1391.67 L1659.94,1391.66 L1662.90,1391.65 L1665.87,1391.64 L1668.83,1391.63 L1671.80,1391.62 L1674.76,1391.61 L1677.73,1391.60 L1680.70,1391.59 L1683.66,1391.58 L1686.63,1391.57 L1689.59,1391.56 L1692.56,1391.55 L1695.53,1391.54 L1698.49,1391.53 L1701.46,1391.52 L1704.42,1391.51 L1707.39,1391.50 L1710.35,1391.49 L1713.32,1391.48 L1716.29,1391.47 L1719.25,1391.46 L1722.22,1391.45 L1725.18,1391.44 L1728.15,1391.43 L1731.11,1391.42 L1734.08,1391.41 L1737.05,1391.40 L1740.01,1391.39 L1742.98,1391.38 L1745.94,1391.37 L1748.91,1391.36 L1751.87,1391.35 L1754.84,1391.34 L1757.81,1391.33 L1760.77,1391.32 L1763.74,1391.31 L1766.70,1391.30 L1769.67,1391.28 L1772.64,1391.27 L1775.60,1391.26 L1778.57,1391.25 L1781.53,1391.24 L1784.50,1391.23 L1787.46,1391.22 L1790.43,1391.21 L1793.40,1391.20 L1796.36,1391.19 L1799.33,1391.18 L1802.29,1391.17 L1805.26,1391.16 L1808.22,1391.15 L1811.19,1391.14 L1814.16,1391.13 L1817.12,1391.12 L1820.09,1391.11 L1823.05,1391.10 L1826.02,1391.09 L1828.98,1391.08 L1831.95,1391.07 L1834.92,1391.06 L1837.88,1391.05 L1840.85,1391.04 L1843.81,1391.03 L1846.78,1391.02 L1849.75,1391.01 L1852.71,1391.00 L1855.68,1390.99 L1858.64,1390.98 L1861.61,1390.97 L1864.57,1390.96 L1867.54,1390.95 L1870.51,1390.94 L1873.47,1390.93 L1876.44,1390.92 L1879.40,1390.91 L1882.37,1390.90 L1885.33,1390.89 L1888.30,1390.88 L1891.27,1390.87 L1894.23,1390.86 L1897.20,1390.85 L1900.16,1390.84 L1903.13,1390.83 L1906.10,1390.82 L1909.06,1390.81 L1912.03,1390.80 L1914.99,1390.79 L1917.96,1390.78 L1920.92,1390.77 L1923.89,1390.76 L1926.86,1390.75 L1929.82,1390.74 L1932.79,1390.73 L1935.75,1390.72 L1938.72,1390.71 L1941.68,1390.70 L1944.65,1390.69 L1947.62,1390.68 L1950.58,1390.67 L1953.55,1390.66 L1956.51,1390.65 L1959.48,1390.64 L1962.44,1390.63 L1965.41,1390.62 L1968.38,1390.61 L1971.34,1390.60 L1974.31,1390.59 L1977.27,1390.58 L1980.24,1390.57 L1983.21,1390.56 L1986.17,1390.55 L1989.14,1390.54 L1992.10,1390.53 L1995.07,1390.52 L1998.03,1390.51 L2001.00,1390.50" stroke="#0072BD"/>
<path d="M224.50,1973.80 L225.96,1973.80 L227.41,1973.79 L228.87,1973.79 L230.33,1973.79 L231.78,1973.78 L233.24,1973.78 L234.69,1973.78 L236.15,1973.78 L237.61,1973.77 L239.06,1973.77 L240.52,1973.77 L241.98,1973.76 L243.43,1973.76 L244.89,1973.76 L246.35,1973.75 L247.80,1973.75 L249.26,1973.75 L250.71,1973.74 L252.17,1973.74 L253.63,1973.74 L255.08,1973.73 L256.54,1973.73 L258.00,1973.73 L259.45,1973.73 L260.91,1973.72 L262.37,1973.72 L263.82,1973.72 L265.28,1973.71 L266.73,1973.71 L268.19,1973.71 L269.65,1973.70 L271.10,1973.70 L272.56,1973.70 L274.02,1973.69 L275.47,1973.69 L276.93,1973.69 L278.39,1973.68 L279.84,1973.68 L281.30,1973.68 L282.75,1973.68 L284.21,1973.67 L285.67,1973.67 L287.12,1973.67 L288.58,1973.66 L290.04,1973.66 L291.49,1973.66 L292.95,1973.65 L294.41,1973.65 L295.86,1973.65 L297.32,1973.64 L298.77,1973.64 L300.23,1973.64 L301.69,1973.63 L303.14,1973.63 L304.60,1973.63 L306.06,1973.63 L307.52,1973.63 L308.98,1973.62 L310.44,1973.62 L311.90,1973.62 L313.36,1973.62 L314.81,1973.61 L316.26,1973.61 L317.71,1973.60 L319.16,1973.52 L320.60,1973.26 L322.02,1972.92 L323.43,1972.55 L324.83,1972.09 L326.20,1971.54 L327.52,1970.92 L328.76,1970.24 L329.96,1969.43 L331.14,1968.52 L332.26,1967.53 L333.31,1966.49 L334.28,1965.42 L335.17,1964.33 L336.00,1963.17 L336.80,1961.96 L337.55,1960.70 L338.28,1959.40 L338.97,1958.09 L339.64,1956.77 L340.29,1955.45 L340.93,1954.15 L341.53,1952.83 L342.12,1951.50 L342.68,1950.15 L343.22,1948.80 L343.75,1947.44 L344.28,1946.07 L344.80,1944.71 L345.31,1943.35 L345.81,1941.99 L346.31,1940.62 L346.79,1939.25 L347.27,1937.87 L347.74,1936.49 L348.21,1935.11 L348.67,1933.73 L349.13,1932.35 L349.59,1930.96 L350.04,1929.58 L350.50,1928.20 L350.96,1926.81 L351.42,1925.43 L351.89,1924.05 L352.36,1922.67 L352.83,1921.29 L353.32,1919.92 L353.81,1918.55 L354.31,1917.18 L354.83,1915.82 L355.36,1914.46 L355.90,1913.11 L356.46,1911.75 L357.02,1910.40 L357.59,1909.05 L358.16,1907.71 L358.73,1906.36 L359.30,1905.01 L359.87,1903.67 L360.43,1902.32 L360.98,1900.97 L361.52,1899.61 L362.05,1898.26 L362.57,1896.90 L363.07,1895.53 L363.54,1894.16 L364.00,1892.79 L364.44,1891.41 L364.84,1890.03 L365.23,1888.63 L365.60,1887.23 L365.95,1885.83 L366.29,1884.42 L366.63,1883.01 L366.95,1881.59 L367.26,1880.17 L367.56,1878.74 L367.86,1877.31 L368.15,1875.88 L368.44,1874.45 L368.73,1873.02 L369.01,1871.59 L369.30,1870.15 L369.58,1868.72 L369.87,1867.29 L370.16,1865.86 L370.46,1864.43 L370.77,1863.00 L371.08,1861.57 L371.40,1860.15 L371.73,1858.73 L372.06,1857.32 L372.38,1855.90 L372.72,1854.48 L373.05,1853.06 L373.38,1851.64 L373.72,1850.23 L374.05,1848.81 L374.39,1847.39 L374.73,1845.97 L375.07,1844.56 L375.41,1843.14 L375.76,1841.73 L376.10,1840.31 L376.45,1838.90 L376.80,1837.48 L377.15,1836.07 L377.51,1834.66 L377.86,1833.25 L378.22,1831.84 L378.58,1830.42 L378.94,1829.01 L379.31,1827.61 L379.69,1826.20 L380.06,1824.79 L380.45,1823.39 L380.83,1821.98 L381.22,1820.58 L381.61,1819.18 L382.00,1817.77 L382.40,1816.37 L382.79,1814.97 L383.19,1813.57 L383.58,1812.16 L383.97,1810.76 L384.37,1809.36 L384.75,1807.95 L385.14,1806.55 L385.53,1805.15 L385.91,1803.74 L386.28,1802.33 L386.65,1800.92 L387.02,1799.52 L387.38,1798.11 L387.74,1796.69 L388.10,1795.28 L388.46,1793.87 L388.82,1792.46 L389.17,1791.05 L389.53,1789.63 L389.88,1788.22 L390.23,1786.81 L390.58,1785.39 L390.92,1783.98 L391.27,1782.56 L391.61,1781.15 L391.95,1779.73 L392.29,1778.31 L392.63,1776.90 L392.97,1775.48 L393.30,1774.06 L393.63,1772.65 L393.96,1771.23 L394.29,1769.81 L394.62,1768.39 L394.94,1766.97 L395.27,1765.55 L395.59,1764.13 L395.90,1762.71 L396.22,1761.29 L396.53,1759.87 L396.85,1758.44 L397.16,1757.02 L397.47,1755.60 L397.78,1754.17 L398.09,1752.75 L398.39,1751.33 L398.70,1749.90 L399.01,1748.48 L399.31,1747.05 L399.62,1745.63 L399.92,1744.21 L400.23,1742.78 L400.53,1741.36 L400.84,1739.93 L401.14,1738.51 L401.45,1737.09 L401.75,1735.66 L402.05,1734.24 L402.35,1732.81 L402.65,1731.39 L402.95,1729.96 L403.24,1728.53 L403.54,1727.11 L403.84,1725.68 L404.13,1724.26 L404.43,1722.83 L404.73,1721.41 L405.03,1719.98 L405.32,1718.55 L405.62,1717.13 L405.92,1715.70 L406.22,1714.28 L406.52,1712.85 L406.83,1711.43 L407.13,1710.00 L407.43,1708.58 L407.74,1707.16 L408.04,1705.73 L408.35,1704.31 L408.65,1702.88 L408.96,1701.46 L409.26,1700.04 L409.57,1698.61 L409.88,1697.19 L410.18,1695.76 L410.49,1694.34 L410.80,1692.92 L411.11,1691.49 L411.42,1690.07 L411.74,1688.65 L412.05,1687.23 L412.36,1685.81 L412.68,1684.38 L413.00,1682.96 L413.32,1681.54 L413.64,1680.12 L413.97,1678.70 L414.29,1677.28 L414.62,1675.86 L414.95,1674.45 L415.28,1673.03 L415.61,1671.61 L415.95,1670.19 L416.28,1668.77 L416.62,1667.36 L416.96,1665.94 L417.30,1664.52 L417.64,1663.11 L417.98,1661.69 L418.32,1660.28 L418.67,1658.86 L419.01,1657.45 L419.36,1656.03 L419.71,1654.62 L420.05,1653.20 L420.40,1651.79 L420.75,1650.38 L421.11,1648.96 L421.46,1647.55 L421.82,1646.14 L422.17,1644.73 L422.53,1643.32 L422.89,1641.90 L423.25,1640.49 L423.62,1639.08 L423.98,1637.67 L424.34,1636.26 L424.71,1634.85 L425.08,1633.44 L425.45,1632.03 L425.82,1630.63 L426.19,1629.22 L426.56,1627.81 L426.93,1626.40 L427.30,1624.99 L427.68,1623.59 L428.05,1622.18 L428.43,1620.77 L428.80,1619.36 L429.18,1617.96 L429.56,1616.55 L429.94,1615.15 L430.32,1613.74 L430.70,1612.33 L431.08,1610.93 L431.47,1609.52 L431.85,1608.12 L432.24,1606.71 L432.62,1605.31 L433.01,1603.91 L433.40,1602.50 L433.79,1601.10 L434.18,1599.70 L434.57,1598.29 L434.96,1596.89 L435.35,1595.49 L435.74,1594.08 L436.13,1592.68 L436.53,1591.28 L436.92,1589.88 L437.31,1588.47 L437.71,1587.07 L438.10,1585.67 L438.50,1584.27 L438.90,1582.87 L439.29,1581.47 L439.69,1580.07 L440.09,1578.67 L440.49,1577.27 L440.89,1575.87 L441.29,1574.47 L441.69,1573.07 L442.10,1571.67 L442.50,1570.27 L442.90,1568.87 L443.30,1567.47 L443.71,1566.07 L444.11,1564.67 L444.52,1563.27 L444.92,1561.87 L445.32,1560.47 L445.73,1559.07 L446.13,1557.67 L446.54,1556.27 L446.94,1554.88 L447.35,1553.48 L447.76,1552.08 L448.17,1550.68 L448.57,1549.28 L448.98,1547.88 L449.39,1546.49 L449.80,1545.09 L450.21,1543.69 L450.62,1542.29 L451.03,1540.90 L451.44,1539.50 L451.85,1538.10 L452.26,1536.70 L452.67,1535.31 L453.08,1533.91 L453.49,1532.51 L453.91,1531.12 L454.33,1529.72 L454.75,1528.33 L455.16,1526.93 L455.58,1525.53 L455.99,1524.13 L456.40,1522.74 L456.82,1521.34 L457.24,1519.94 L457.66,1518.55 L458.09,1517.15 L458.52,1515.76 L458.97,1514.38 L459.42,1512.99 L459.88,1511.61 L460.35,1510.24 L460.83,1508.87 L461.31,1507.50 L461.80,1506.13 L462.30,1504.76 L462.81,1503.39 L463.31,1502.02 L463.83,1500.66 L464.35,1499.29 L464.88,1497.93 L465.42,1496.57 L465.96,1495.21 L466.51,1493.86 L467.07,1492.51 L467.63,1491.16 L468.20,1489.82 L468.78,1488.48 L469.37,1487.15 L469.97,1485.82 L470.57,1484.50 L471.18,1483.18 L471.80,1481.87 L472.43,1480.57 L473.08,1479.27 L473.75,1477.98 L474.44,1476.70 L475.15,1475.42 L475.88,1474.16 L476.62,1472.90 L477.37,1471.65 L478.13,1470.40 L478.88,1469.16 L479.65,1467.93 L480.43,1466.70 L481.21,1465.47 L482.01,1464.25 L482.81,1463.04 L483.62,1461.82 L484.43,1460.61 L485.25,1459.41 L486.08,1458.21 L486.91,1457.01 L487.74,1455.81 L488.58,1454.62 L489.42,1453.43 L490.26,1452.24 L491.11,1451.05 L491.95,1449.86 L492.79,1448.68 L493.65,1447.50 L494.51,1446.32 L495.37,1445.15 L496.24,1443.98 L497.12,1442.82 L498.00,1441.65 L498.88,1440.50 L499.77,1439.35 L500.66,1438.19 L501.56,1437.05 L502.46,1435.90 L503.37,1434.76 L504.28,1433.63 L505.20,1432.50 L506.12,1431.37 L507.06,1430.25 L508.00,1429.14 L508.94,1428.03 L509.89,1426.93 L510.86,1425.84 L511.85,1424.77 L512.85,1423.72 L513.87,1422.67 L514.90,1421.63 L515.94,1420.60 L517.00,1419.59 L518.07,1418.61 L519.17,1417.66 L520.29,1416.75 L521.43,1415.86 L522.60,1414.98 L523.79,1414.13 L525.00,1413.29 L526.23,1412.49 L527.47,1411.71 L528.72,1410.97 L529.98,1410.27 L531.25,1409.60 L532.54,1408.94 L533.85,1408.30 L535.16,1407.67 L536.49,1407.06 L537.83,1406.47 L539.18,1405.89 L540.54,1405.33 L541.90,1404.79 L543.26,1404.26 L544.63,1403.75 L546.00,1403.26 L547.37,1402.79 L548.75,1402.33 L550.13,1401.88 L551.51,1401.44 L552.90,1401.01 L554.30,1400.58 L555.70,1400.17 L557.10,1399.77 L558.51,1399.38 L559.92,1399.00 L561.34,1398.63 L562.75,1398.27 L564.17,1397.93 L565.59,1397.59 L567.02,1397.28 L568.44,1396.97 L569.86,1396.68 L571.28,1396.40 L572.71,1396.13 L574.14,1395.86 L575.57,1395.59 L577.00,1395.33 L578.43,1395.08 L579.87,1394.83 L581.31,1394.59 L582.75,1394.36 L584.19,1394.13 L585.63,1393.91 L587.07,1393.69 L588.52,1393.48 L589.96,1393.28 L591.41,1393.08 L592.86,1392.89 L594.30,1392.71 L595.75,1392.53 L597.20,1392.36 L598.64,1392.19 L600.09,1392.03 L601.53,1391.88 L602.98,1391.73 L604.43,1391.58 L605.88,1391.44 L607.33,1391.31 L608.78,1391.17 L610.23,1391.05 L611.69,1390.92 L613.14,1390.81 L614.59,1390.70 L616.04,1390.59 L617.50,1390.50 L618.95,1390.40 L620.40,1390.32 L621.86,1390.24 L623.31,1390.16 L624.76,1390.09 L626.22,1390.02 L627.67,1389.95 L629.13,1389.88 L630.58,1389.81 L632.04,1389.75 L633.49,1389.69 L634.95,1389.63 L636.40,1389.57 L637.86,1389.52 L639.31,1389.46 L640.77,1389.41 L642.23,1389.36 L643.68,1389.30 L645.14,1389.25 L646.59,1389.20 L648.05,1389.15 L649.50,1389.10 L650.96,1389.05 L652.42,1389.00 L653.87,1388.96 L655.33,1388.91 L656.78,1388.86 L658.24,1388.81 L659.70,1388.76 L661.15,1388.71 L662.61,1388.65 L664.06,1388.60 L665.52,1388.54 L666.97,1388.49 L668.43,1388.43 L669.88,1388.39 L671.34,1388.34 L672.80,1388.31 L674.25,1388.28 L675.71,1388.26 L677.16,1388.24 L678.62,1388.22 L680.08,1388.21 L681.53,1388.20 L682.99,1388.19 L684.45,1388.18 L685.90,1388.17 L687.36,1388.15 L688.81,1388.14 L690.27,1388.13 L691.73,1388.12 L693.18,1388.11 L694.64,1388.09 L696.10,1388.08 L697.55,1388.07 L699.01,1388.05 L700.46,1388.04 L701.92,1388.03 L703.38,1388.01 L704.83,1388.00 L706.29,1387.99 L707.75,1387.98 L709.20,1387.96 L710.66,1387.95 L712.12,1387.94 L713.57,1387.92 L715.03,1387.91 L716.48,1387.90 L717.94,1387.88 L719.40,1387.87 L720.85,1387.86 L722.31,1387.85 L723.77,1387.83 L725.22,1387.82 L726.68,1387.81 L728.13,1387.79 L729.59,1387.78 L731.05,1387.77 L732.50,1387.75 L733.96,1387.74 L735.42,1387.73 L736.87,1387.72 L738.33,1387.70 L739.79,1387.69 L741.24,1387.68 L742.70,1387.67 L744.15,1387.65 L745.61,1387.64 L747.07,1387.63 L748.52,1387.62 L749.98,1387.61 L751.44,1387.61 L752.89,1387.60 L754.35,1387.60 L755.80,1387.59 L757.26,1387.59 L758.72,1387.58 L760.17,1387.58 L761.63,1387.57 L763.09,1387.57 L764.54,1387.57 L766.00,1387.56 L767.46,1387.56 L768.91,1387.55 L770.37,1387.55 L771.82,1387.55 L773.28,1387.54 L774.74,1387.54 L776.19,1387.54 L777.65,1387.53 L779.11,1387.53 L780.56,1387.53 L782.02,1387.52 L783.48,1387.52 L784.93,1387.52 L786.39,1387.51 L787.84,1387.51 L789.30,1387.51 L790.76,1387.50 L792.21,1387.50 L793.67,1387.50 L795.13,1387.49 L796.58,1387.49 L798.04,1387.48 L799.50,1387.48 L800.95,1387.48 L802.41,1387.47 L803.86,1387.47 L805.32,1387.47 L806.78,1387.46 L808.23,1387.46 L809.69,1387.46 L811.15,1387.45 L812.60,1387.45 L814.06,1387.45 L815.52,1387.44 L816.97,1387.44 L818.43,1387.44 L819.88,1387.43 L821.34,1387.43 L822.80,1387.43 L824.25,1387.42 L825.71,1387.42 L827.17,1387.41 L828.62,1387.41 L830.08,1387.41 L831.54,1387.40 L832.99,1387.40 L834.45,1387.40 L835.91,1387.39 L837.36,1387.39 L838.82,1387.39 L840.27,1387.38 L841.73,1387.38 L843.19,1387.38 L844.64,1387.37 L846.10,1387.37 L847.56,1387.37 L849.01,1387.36 L850.47,1387.36 L851.93,1387.36 L853.38,1387.35 L854.84,1387.35 L856.29,1387.34 L857.75,1387.34 L859.21,1387.34 L860.66,1387.33 L862.12,1387.33 L863.58,1387.33 L865.03,1387.32 L866.49,1387.32 L867.95,1387.32 L869.40,1387.31 L870.86,1387.31 L872.31,1387.31 L873.77,1387.30 L875.23,1387.30 L876.68,1387.30 L878.14,1387.29 L879.60,1387.29 L881.05,1387.29 L882.51,1387.28 L883.97,1387.28 L885.42,1387.27 L886.88,1387.27 L888.33,1387.27 L889.79,1387.26 L891.25,1387.26 L892.70,1387.26 L894.16,1387.25 L895.62,1387.25 L897.07,1387.25 L898.53,1387.24 L899.99,1387.24 L901.44,1387.24 L902.90,1387.23 L904.35,1387.23 L905.81,1387.23 L907.27,1387.22 L908.72,1387.22 L910.18,1387.22 L911.64,1387.21 L913.09,1387.21 L914.55,1387.21 L916.01,1387.20 L917.46,1387.20 L918.92,1387.19 L920.37,1387.19 L921.83,1387.19 L923.29,1387.18 L924.74,1387.18 L926.20,1387.18 L927.66,1387.17 L929.11,1387.17 L930.57,1387.17 L932.03,1387.16 L933.48,1387.16 L934.94,1387.16 L936.39,1387.15 L937.85,1387.15 L939.31,1387.15 L940.76,1387.14 L942.22,1387.14 L943.68,1387.14 L945.13,1387.13 L946.59,1387.13 L948.05,1387.12 L949.50,1387.12 L950.96,1387.12 L952.41,1387.11 L953.87,1387.11 L955.33,1387.11 L956.78,1387.10 L958.24,1387.10 L959.70,1387.10 L961.15,1387.09 L962.61,1387.09 L964.07,1387.09 L965.52,1387.08 L966.98,1387.08 L968.43,1387.08 L969.89,1387.07 L971.35,1387.07 L972.80,1387.06 L974.26,1387.06 L975.72,1387.05 L977.17,1387.05 L978.63,1387.05 L980.09,1387.04 L981.54,1387.04 L983.00,1387.04 L984.45,1387.04 L985.91,1387.04 L987.37,1387.04 L988.82,1387.05 L990.28,1387.05 L991.74,1387.06 L993.19,1387.07 L994.65,1387.08 L996.11,1387.08 L997.56,1387.09 L999.02,1387.09 L1000.47,1387.09 L1001.93,1387.09 L1003.39,1387.08 L1004.84,1387.07 L1006.30,1387.06 L1007.76,1387.04 L1009.21,1387.03 L1010.67,1387.02 L1012.12,1387.01 L1013.58,1387.00 L1015.04,1387.00 L1016.49,1387.00 L1017.95,1387.00 L1019.41,1387.00 L1020.86,1387.00 L1022.32,1387.00 L1023.78,1386.99 L1025.23,1386.99 L1026.69,1386.99 L1028.15,1386.99 L1029.60,1386.99 L1031.06,1386.99 L1032.51,1386.99 L1033.97,1386.99 L1035.43,1386.99 L1036.88,1386.99 L1038.34,1386.99 L1039.80,1386.99 L1041.25,1386.99 L1042.71,1386.99 L1044.17,1386.99 L1045.62,1386.99 L1047.08,1386.99 L1048.53,1386.99 L1049.99,1386.99 L1051.45,1386.99 L1052.90,1386.99 L1054.36,1386.99 L1055.82,1386.99 L1057.27,1386.99 L1058.73,1386.99 L1060.19,1386.99 L1061.64,1386.99 L1063.10,1386.99 L1064.55,1386.99 L1066.01,1386.99 L1067.47,1386.99 L1068.92,1386.99 L1070.38,1386.99 L1071.84,1386.99 L1073.29,1386.99 L1074.75,1386.99 L1076.21,1386.98 L1077.66,1386.98 L1079.12,1386.98 L1080.57,1386.98 L1082.03,1386.98 L1083.49,1386.98 L1084.94,1386.98 L1086.40,1386.98 L1087.86,1386.98 L1089.31,1386.98 L1090.77,1386.98 L1092.23,1386.98 L1093.68,1386.98 L1095.14,1386.98 L1096.59,1386.98 L1098.05,1386.98 L1099.51,1386.98 L1100.96,1386.98 L1102.42,1386.98 L1103.88,1386.98 L1105.33,1386.98 L1106.79,1386.98 L1108.25,1386.98 L1109.70,1386.98 L1111.16,1386.98 L1112.61,1386.98 L1114.07,1386.98 L1115.53,1386.98 L1116.98,1386.98 L1118.44,1386.98 L1119.90,1386.98 L1121.35,1386.98 L1122.81,1386.98 L1124.27,1386.98 L1125.72,1386.97 L1127.18,1386.97 L1128.63,1386.97 L1130.09,1386.97 L1131.55,1386.97 L1133.00,1386.97 L1134.46,1386.97 L1135.92,1386.97 L1137.37,1386.97 L1138.83,1386.97 L1140.29,1386.97 L1141.74,1386.97 L1143.20,1386.97 L1144.65,1386.97 L1146.11,1386.97 L1147.57,1386.97 L1149.02,1386.97 L1150.48,1386.97 L1151.94,1386.97 L1153.39,1386.97 L1154.85,1386.97 L1156.31,1386.97 L1157.76,1386.97 L1159.22,1386.97 L1160.67,1386.97 L1162.13,1386.97 L1163.59,1386.97 L1165.04,1386.97 L1166.50,1386.97 L1167.96,1386.97 L1169.41,1386.97 L1170.87,1386.97 L1172.33,1386.97 L1173.78,1386.97 L1175.24,1386.96 L1176.69,1386.96 L1178.15,1386.96 L1179.61,1386.96 L1181.06,1386.96 L1182.52,1386.96 L1183.98,1386.96 L1185.43,1386.96 L1186.89,1386.96 L1188.35,1386.96 L1189.80,1386.96 L1191.26,1386.96 L1192.71,1386.96 L1194.17,1386.96 L1195.63,1386.96 L1197.08,1386.96 L1198.54,1386.96 L1200.00,1386.96 L1201.45,1386.96 L1202.91,1386.96 L1204.37,1386.96 L1205.82,1386.96 L1207.28,1386.96 L1208.73,1386.96 L1210.19,1386.96 L1211.65,1386.96 L1213.10,1386.96 L1214.56,1386.96 L1216.02,1386.96 L1217.47,1386.96 L1218.93,1386.96 L1220.39,1386.96 L1221.84,1386.96 L1223.30,1386.96 L1224.75,1386.96 L1226.21,1386.95 L1227.67,1386.95 L1229.12,1386.95 L1230.58,1386.95 L1232.04,1386.95 L1233.49,1386.95 L1234.95,1386.95 L1236.41,1386.95 L1237.86,1386.95 L1239.32,1386.95 L1240.78,1386.95 L1242.23,1386.95 L1243.69,1386.95 L1245.14,1386.95 L1246.60,1386.95 L1248.06,1386.95 L1249.51,1386.95 L1250.97,1386.95 L1252.43,1386.95 L1253.88,1386.95 L1255.34,1386.95 L1256.80,1386.95 L1258.25,1386.95 L1259.71,1386.95 L1261.16,1386.95 L1262.62,1386.95 L1264.08,1386.95 L1265.53,1386.95 L1266.99,1386.95 L1268.45,1386.95 L1269.90,1386.95 L1271.36,1386.95 L1272.82,1386.95 L1274.27,1386.95 L1275.73,1386.94 L1277.18,1386.94 L1278.64,1386.94 L1280.10,1386.94 L1281.55,1386.94 L1283.01,1386.94 L1284.47,1386.94 L1285.92,1386.94 L1287.38,1386.94 L1288.84,1386.94 L1290.29,1386.94 L1291.75,1386.94 L1293.20,1386.94 L1294.66,1386.94 L1296.12,1386.94 L1297.57,1386.94 L1299.03,1386.94 L1300.49,1386.94 L1301.94,1386.94 L1303.40,1386.94 L1304.86,1386.94 L1306.31,1386.94 L1307.77,1386.94 L1309.22,1386.94 L1310.68,1386.94 L1312.14,1386.94 L1313.59,1386.94 L1315.05,1386.94 L1316.51,1386.94 L1317.96,1386.94 L1319.42,1386.94 L1320.88,1386.94 L1322.33,1386.94 L1323.79,1386.94 L1325.24,1386.94 L1326.70,1386.93 L1328.16,1386.93 L1329.61,1386.93 L1331.07,1386.93 L1332.53,1386.93 L1333.98,1386.93 L1335.44,1386.93 L1336.90,1386.93 L1338.35,1386.93 L1339.81,1386.93 L1341.26,1386.93 L1342.72,1386.93 L1344.18,1386.93 L1345.63,1386.93 L1347.09,1386.93 L1348.55,1386.93 L1350.00,1386.93 L1351.46,1386.93 L1352.92,1386.93 L1354.37,1386.93 L1355.83,1386.93 L1357.28,1386.93 L1358.74,1386.93 L1360.20,1386.93 L1361.65,1386.93 L1363.11,1386.93 L1364.57,1386.93 L1366.02,1386.93 L1367.48,1386.93 L1368.94,1386.93 L1370.39,1386.93 L1371.85,1386.93 L1373.30,1386.93 L1374.76,1386.93 L1376.22,1386.92 L1377.67,1386.92 L1379.13,1386.92 L1380.59,1386.92 L1382.04,1386.92 L1383.50,1386.92 L1384.96,1386.92 L1386.41,1386.92 L1387.87,1386.92 L1389.32,1386.92 L1390.78,1386.92 L1392.24,1386.92 L1393.69,1386.92 L1395.15,1386.92 L1396.61,1386.92 L1398.06,1386.92 L1399.52,1386.92 L1400.98,1386.92 L1402.43,1386.92 L1403.89,1386.92 L1405.34,1386.92 L1406.80,1386.92 L1408.26,1386.92 L1409.71,1386.92 L1411.17,1386.92 L1412.63,1386.92 L1414.08,1386.92 L1415.54,1386.92 L1417.00,1386.92 L1418.45,1386.92 L1419.91,1386.92 L1421.36,1386.92 L1422.82,1386.92 L1424.28,1386.92 L1425.73,1386.91 L1427.19,1386.91 L1428.65,1386.91 L1430.10,1386.91 L1431.56,1386.91 L1433.02,1386.91 L1434.47,1386.91 L1435.93,1386.91 L1437.38,1386.91 L1438.84,1386.91 L1440.30,1386.91 L1441.75,1386.91 L1443.21,1386.91 L1444.67,1386.91 L1446.12,1386.91 L1447.58,1386.91 L1449.04,1386.91 L1450.49,1386.91 L1451.95,1386.91 L1453.40,1386.91 L1454.86,1386.91 L1456.32,1386.91 L1457.77,1386.91 L1459.23,1386.91 L1460.69,1386.91 L1462.14,1386.91 L1463.60,1386.91 L1465.06,1386.91 L1466.51,1386.91 L1467.97,1386.91 L1469.43,1386.91 L1470.88,1386.91 L1472.34,1386.91 L1473.79,1386.91 L1475.25,1386.91 L1476.71,1386.90 L1478.16,1386.90 L1479.62,1386.90 L1481.08,1386.90 L1482.53,1386.90 L1483.99,1386.90 L1485.45,1386.90 L1486.90,1386.90 L1488.36,1386.90 L1489.81,1386.90 L1491.27,1386.90 L1492.73,1386.90 L1494.18,1386.90 L1495.64,1386.90 L1497.10,1386.90 L1498.55,1386.90 L1500.01,1386.90 L1501.47,1386.90 L1502.92,1386.90 L1504.38,1386.90 L1505.83,1386.90 L1507.29,1386.90 L1508.75,1386.90 L1510.20,1386.90 L1511.66,1386.90 L1513.12,1386.90 L1514.57,1386.90 L1516.03,1386.90 L1517.49,1386.90 L1518.94,1386.90 L1520.40,1386.90 L1521.85,1386.90 L1523.31,1386.90 L1524.77,1386.90 L1526.22,1386.89 L1527.68,1386.89 L1529.14,1386.89 L1530.59,1386.89 L1532.05,1386.89 L1533.51,1386.89 L1534.96,1386.89 L1536.42,1386.89 L1537.87,1386.89 L1539.33,1386.89 L1540.79,1386.89 L1542.24,1386.89 L1543.70,1386.89 L1545.16,1386.89 L1546.61,1386.89 L1548.07,1386.89 L1549.53,1386.89 L1550.98,1386.89 L1552.44,1386.89 L1553.89,1386.89 L1555.35,1386.89 L1556.81,1386.89 L1558.26,1386.89 L1559.72,1386.89 L1561.18,1386.89 L1562.63,1386.89 L1564.09,1386.89 L1565.55,1386.89 L1567.00,1386.89 L1568.46,1386.89 L1569.91,1386.89 L1571.37,1386.89 L1572.83,1386.89 L1574.28,1386.89 L1575.74,1386.88 L1577.20,1386.88 L1578.65,1386.88 L1580.11,1386.88 L1581.57,1386.88 L1583.02,1386.88 L1584.48,1386.88 L1585.93,1386.88 L1587.39,1386.88 L1588.85,1386.88 L1590.30,1386.88 L1591.76,1386.88 L1593.22,1386.88 L1594.67,1386.88 L1596.13,1386.88 L1597.59,1386.88 L1599.04,1386.88 L1600.50,1386.88 L1601.95,1386.88 L1603.41,1386.88 L1604.87,1386.88 L1606.32,1386.88 L1607.78,1386.88 L1609.24,1386.88 L1610.69,1386.88 L1612.15,1386.88 L1613.61,1386.88 L1615.06,1386.88 L1616.52,1386.88 L1617.97,1386.88 L1619.43,1386.88 L1620.89,1386.88 L1622.34,1386.88 L1623.80,1386.88 L1625.26,1386.88 L1626.71,1386.87 L1628.17,1386.87 L1629.63,1386.87 L1631.08,1386.87 L1632.54,1386.87 L1633.99,1386.87 L1635.45,1386.87 L1636.91,1386.87 L1638.36,1386.87 L1639.82,1386.87 L1641.28,1386.87 L1642.73,1386.87 L1644.19,1386.87 L1645.65,1386.87 L1647.10,1386.87 L1648.56,1386.87 L1650.01,1386.87 L1651.47,1386.87 L1652.93,1386.87 L1654.38,1386.87 L1655.84,1386.87 L1657.30,1386.87 L1658.75,1386.87 L1660.21,1386.87 L1661.67,1386.87 L1663.12,1386.87 L1664.58,1386.87 L1666.03,1386.87 L1667.49,1386.87 L1668.95,1386.87 L1670.40,1386.87 L1671.86,1386.87 L1673.32,1386.87 L1674.77,1386.87 L1676.23,1386.86 L1677.69,1386.86 L1679.14,1386.86 L1680.60,1386.86 L1682.06,1386.86 L1683.51,1386.86 L1684.97,1386.86 L1686.42,1386.86 L1687.88,1386.86 L1689.34,1386.86 L1690.79,1386.86 L1692.25,1386.86 L1693.71,1386.86 L1695.16,1386.86 L1696.62,1386.86 L1698.08,1386.86 L1699.53,1386.86 L1700.99,1386.86 L1702.44,1386.86 L1703.90,1386.86 L1705.36,1386.86 L1706.81,1386.86 L1708.27,1386.86 L1709.73,1386.86 L1711.18,1386.86 L1712.64,1386.86 L1714.10,1386.86 L1715.55,1386.86 L1717.01,1386.86 L1718.46,1386.86 L1719.92,1386.86 L1721.38,1386.86 L1722.83,1386.86 L1724.29,1386.86 L1725.75,1386.85 L1727.20,1386.85 L1728.66,1386.85 L1730.12,1386.85 L1731.57,1386.85 L1733.03,1386.85 L1734.48,1386.85 L1735.94,1386.85 L1737.40,1386.85 L1738.85,1386.85 L1740.31,1386.85 L1741.77,1386.85 L1743.22,1386.85 L1744.68,1386.85 L1746.14,1386.85 L1747.59,1386.85 L1749.05,1386.85 L1750.50,1386.85 L1751.96,1386.85 L1753.42,1386.85 L1754.87,1386.85 L1756.33,1386.85 L1757.79,1386.85 L1759.24,1386.85 L1760.70,1386.85 L1762.16,1386.85 L1763.61,1386.85 L1765.07,1386.85 L1766.52,1386.85 L1767.98,1386.85 L1769.44,1386.85 L1770.89,1386.85 L1772.35,1386.85 L1773.81,1386.85 L1775.26,1386.85 L1776.72,1386.84 L1778.18,1386.84 L1779.63,1386.84 L1781.09,1386.84 L1782.54,1386.84 L1784.00,1386.84 L1785.46,1386.84 L1786.91,1386.84 L1788.37,1386.84 L1789.83,1386.84 L1791.28,1386.84 L1792.74,1386.84 L1794.20,1386.84 L1795.65,1386.84 L1797.11,1386.84 L1798.56,1386.84 L1800.02,1386.84 L1801.48,1386.84 L1802.93,1386.84 L1804.39,1386.84 L1805.85,1386.84 L1807.30,1386.84 L1808.76,1386.84 L1810.22,1386.84 L1811.67,1386.84 L1813.13,1386.84 L1814.58,1386.84 L1816.04,1386.84 L1817.50,1386.84 L1818.95,1386.84 L1820.41,1386.84 L1821.87,1386.84 L1823.32,1386.84 L1824.78,1386.84 L1826.24,1386.83 L1827.69,1386.83 L1829.15,1386.83 L1830.60,1386.83 L1832.06,1386.83 L1833.52,1386.83 L1834.97,1386.83 L1836.43,1386.83 L1837.89,1386.83 L1839.34,1386.83 L1840.80,1386.83 L1842.26,1386.83 L1843.71,1386.83 L1845.17,1386.83 L1846.62,1386.83 L1848.08,1386.83 L1849.54,1386.83 L1850.99,1386.83 L1852.45,1386.83 L1853.91,1386.83 L1855.36,1386.83 L1856.82,1386.83 L1858.28,1386.83 L1859.73,1386.83 L1861.19,1386.83 L1862.64,1386.83 L1864.10,1386.83 L1865.56,1386.83 L1867.01,1386.83 L1868.47,1386.83 L1869.93,1386.83 L1871.38,1386.83 L1872.84,1386.83 L1874.30,1386.83 L1875.75,1386.83 L1877.21,1386.82 L1878.66,1386.82 L1880.12,1386.82 L1881.58,1386.82 L1883.03,1386.82 L1884.49,1386.82 L1885.95,1386.82 L1887.40,1386.82 L1888.86,1386.82 L1890.32,1386.82 L1891.77,1386.82 L1893.23,1386.82 L1894.69,1386.82 L1896.14,1386.82 L1897.60,1386.82 L1899.05,1386.82 L1900.51,1386.82 L1901.97,1386.82 L1903.42,1386.82 L1904.88,1386.82 L1906.34,1386.82 L1907.79,1386.82 L1909.25,1386.82 L1910.71,1386.82 L1912.16,1386.82 L1913.62,1386.82 L1915.07,1386.82 L1916.53,1386.82 L1917.99,1386.82 L1919.44,1386.82 L1920.90,1386.82 L1922.36,1386.82 L1923.81,1386.82 L1925.27,1386.82 L1926.73,1386.81 L1928.18,1386.81 L1929.64,1386.81 L1931.09,1386.81 L1932.55,1386.81 L1934.01,1386.81 L1935.46,1386.81 L1936.92,1386.81 L1938.38,1386.81 L1939.83,1386.81 L1941.29,1386.81 L1942.75,1386.81 L1944.20,1386.81 L1945.66,1386.81 L1947.11,1386.81 L1948.57,1386.81 L1950.03,1386.81 L1951.48,1386.81 L1952.94,1386.81 L1954.40,1386.81 L1955.85,1386.81 L1957.31,1386.81 L1958.77,1386.81 L1960.22,1386.81 L1961.68,1386.81 L1963.13,1386.81 L1964.59,1386.81 L1966.05,1386.81 L1967.50,1386.81 L1968.96,1386.81 L1970.42,1386.81 L1971.87,1386.81 L1973.33,1386.81 L1974.79,1386.81 L1976.24,1386.80 L1977.70,1386.80 L1979.15,1386.80 L1980.61,1386.80 L1982.07,1386.80 L1983.52,1386.80 L1984.98,1386.80 L1986.44,1386.80 L1987.89,1386.80 L1989.35,1386.80 L1990.81,1386.80 L1992.26,1386.80 L1993.72,1386.80 L1995.17,1386.80 L1996.63,1386.80 L1998.09,1386.80 L1999.54,1386.80 L2001.00,1386.80" stroke="#D95319"/>
<path d="M224.50,1974.00 L225.93,1973.99 L227.37,1973.96 L228.80,1973.92 L230.23,1973.87 L231.66,1973.81 L233.10,1973.74 L234.55,1973.63 L235.99,1973.48 L237.39,1973.29 L238.74,1973.06 L240.07,1972.70 L241.40,1972.23 L242.71,1971.65 L244.01,1970.98 L245.29,1970.23 L246.55,1969.43 L247.78,1968.59 L248.99,1967.71 L250.17,1966.83 L251.32,1965.94 L252.43,1965.08 L253.51,1964.22 L254.57,1963.33 L255.61,1962.39 L256.64,1961.42 L257.65,1960.42 L258.64,1959.39 L259.62,1958.33 L260.58,1957.24 L261.53,1956.14 L262.46,1955.02 L263.38,1953.88 L264.29,1952.73 L265.18,1951.57 L266.06,1950.40 L266.93,1949.24 L267.78,1948.07 L268.63,1946.90 L269.46,1945.75 L270.29,1944.59 L271.10,1943.43 L271.90,1942.25 L272.69,1941.06 L273.46,1939.85 L274.23,1938.64 L274.98,1937.42 L275.73,1936.19 L276.46,1934.95 L277.18,1933.71 L277.90,1932.46 L278.61,1931.20 L279.30,1929.94 L279.99,1928.69 L280.68,1927.43 L281.35,1926.16 L282.02,1924.90 L282.68,1923.64 L283.34,1922.36 L283.98,1921.09 L284.62,1919.80 L285.25,1918.52 L285.87,1917.22 L286.48,1915.93 L287.09,1914.63 L287.69,1913.33 L288.29,1912.02 L288.88,1910.71 L289.46,1909.40 L290.04,1908.09 L290.61,1906.78 L291.18,1905.47 L291.74,1904.15 L292.29,1902.83 L292.84,1901.51 L293.38,1900.19 L293.92,1898.86 L294.45,1897.53 L294.98,1896.19 L295.50,1894.86 L296.02,1893.52 L296.53,1892.19 L297.05,1890.85 L297.55,1889.51 L298.06,1888.17 L298.56,1886.82 L299.05,1885.48 L299.55,1884.14 L300.04,1882.80 L300.53,1881.45 L301.02,1880.10 L301.50,1878.75 L301.98,1877.40 L302.46,1876.05 L302.93,1874.70 L303.40,1873.35 L303.87,1872.00 L304.34,1870.64 L304.80,1869.28 L305.26,1867.93 L305.72,1866.57 L306.17,1865.21 L306.62,1863.85 L307.07,1862.49 L307.52,1861.13 L307.97,1859.77 L308.41,1858.41 L308.85,1857.05 L309.29,1855.69 L309.72,1854.32 L310.15,1852.96 L310.58,1851.59 L311.01,1850.22 L311.44,1848.86 L311.86,1847.49 L312.28,1846.12 L312.70,1844.75 L313.12,1843.38 L313.53,1842.01 L313.95,1840.64 L314.36,1839.26 L314.77,1837.89 L315.18,1836.52 L315.58,1835.15 L315.99,1833.77 L316.39,1832.40 L316.79,1831.02 L317.19,1829.65 L317.58,1828.27 L317.98,1826.90 L318.37,1825.52 L318.76,1824.14 L319.15,1822.76 L319.54,1821.38 L319.92,1820.00 L320.30,1818.62 L320.69,1817.24 L321.07,1815.86 L321.44,1814.48 L321.82,1813.10 L322.20,1811.72 L322.57,1810.33 L322.94,1808.95 L323.32,1807.57 L323.69,1806.18 L324.06,1804.80 L324.42,1803.42 L324.79,1802.03 L325.16,1800.65 L325.53,1799.26 L325.89,1797.88 L326.25,1796.49 L326.61,1795.11 L326.97,1793.72 L327.33,1792.34 L327.69,1790.95 L328.04,1789.56 L328.40,1788.18 L328.75,1786.79 L329.11,1785.40 L329.46,1784.01 L329.81,1782.62 L330.16,1781.23 L330.51,1779.85 L330.86,1778.46 L331.21,1777.07 L331.56,1775.68 L331.90,1774.29 L332.25,1772.90 L332.60,1771.51 L332.95,1770.12 L333.30,1768.73 L333.64,1767.34 L333.99,1765.95 L334.33,1764.56 L334.68,1763.17 L335.02,1761.78 L335.36,1760.39 L335.70,1759.00 L336.04,1757.61 L336.38,1756.22 L336.72,1754.83 L337.06,1753.44 L337.40,1752.05 L337.74,1750.65 L338.08,1749.26 L338.42,1747.87 L338.77,1746.48 L339.11,1745.09 L339.45,1743.70 L339.79,1742.31 L340.13,1740.92 L340.47,1739.53 L340.82,1738.14 L341.16,1736.75 L341.50,1735.36 L341.84,1733.97 L342.19,1732.57 L342.53,1731.18 L342.87,1729.79 L343.21,1728.40 L343.55,1727.01 L343.89,1725.62 L344.24,1724.23 L344.58,1722.84 L344.92,1721.45 L345.27,1720.06 L345.61,1718.67 L345.96,1717.28 L346.30,1715.89 L346.65,1714.50 L347.00,1713.11 L347.35,1711.72 L347.70,1710.33 L348.05,1708.95 L348.40,1707.56 L348.76,1706.17 L349.11,1704.78 L349.46,1703.39 L349.82,1702.01 L350.17,1700.62 L350.53,1699.23 L350.88,1697.84 L351.24,1696.46 L351.60,1695.07 L351.95,1693.68 L352.31,1692.30 L352.67,1690.91 L353.03,1689.53 L353.40,1688.14 L353.76,1686.75 L354.12,1685.37 L354.49,1683.98 L354.85,1682.60 L355.22,1681.22 L355.59,1679.83 L355.96,1678.45 L356.33,1677.07 L356.70,1675.68 L357.07,1674.30 L357.44,1672.92 L357.82,1671.53 L358.19,1670.15 L358.56,1668.77 L358.94,1667.39 L359.32,1666.01 L359.70,1664.62 L360.08,1663.24 L360.46,1661.86 L360.84,1660.48 L361.22,1659.10 L361.61,1657.72 L361.99,1656.34 L362.38,1654.96 L362.76,1653.59 L363.15,1652.21 L363.54,1650.83 L363.93,1649.45 L364.33,1648.08 L364.72,1646.70 L365.11,1645.32 L365.51,1643.95 L365.91,1642.57 L366.31,1641.19 L366.70,1639.82 L367.10,1638.44 L367.51,1637.07 L367.91,1635.69 L368.31,1634.32 L368.72,1632.95 L369.12,1631.57 L369.53,1630.20 L369.94,1628.83 L370.35,1627.46 L370.76,1626.08 L371.18,1624.71 L371.59,1623.34 L372.01,1621.97 L372.43,1620.60 L372.84,1619.23 L373.26,1617.86 L373.69,1616.50 L374.11,1615.13 L374.53,1613.76 L374.96,1612.39 L375.39,1611.02 L375.81,1609.66 L376.24,1608.29 L376.67,1606.93 L377.11,1605.56 L377.54,1604.20 L377.98,1602.83 L378.41,1601.47 L378.85,1600.10 L379.29,1598.74 L379.73,1597.38 L380.18,1596.02 L380.62,1594.66 L381.07,1593.30 L381.52,1591.94 L381.97,1590.58 L382.42,1589.22 L382.87,1587.86 L383.32,1586.50 L383.78,1585.14 L384.24,1583.79 L384.70,1582.43 L385.16,1581.07 L385.62,1579.72 L386.08,1578.36 L386.55,1577.01 L387.02,1575.65 L387.49,1574.30 L387.96,1572.95 L388.43,1571.60 L388.90,1570.24 L389.38,1568.89 L389.86,1567.54 L390.33,1566.19 L390.81,1564.84 L391.30,1563.50 L391.78,1562.15 L392.27,1560.80 L392.75,1559.45 L393.24,1558.11 L393.73,1556.76 L394.22,1555.42 L394.72,1554.07 L395.21,1552.73 L395.71,1551.39 L396.21,1550.04 L396.71,1548.70 L397.21,1547.36 L397.71,1546.02 L398.22,1544.68 L398.73,1543.34 L399.24,1542.00 L399.75,1540.66 L400.27,1539.33 L400.79,1537.99 L401.31,1536.66 L401.83,1535.33 L402.36,1534.00 L402.89,1532.67 L403.42,1531.34 L403.95,1530.00 L404.48,1528.67 L405.01,1527.34 L405.54,1526.01 L406.08,1524.68 L406.61,1523.35 L407.16,1522.02 L407.70,1520.69 L408.25,1519.37 L408.81,1518.05 L409.37,1516.73 L409.94,1515.42 L410.52,1514.11 L411.10,1512.80 L411.70,1511.50 L412.30,1510.21 L412.91,1508.92 L413.53,1507.63 L414.16,1506.35 L414.79,1505.06 L415.43,1503.78 L416.08,1502.50 L416.73,1501.22 L417.39,1499.95 L418.05,1498.67 L418.73,1497.40 L419.41,1496.13 L420.09,1494.87 L420.79,1493.61 L421.49,1492.36 L422.20,1491.11 L422.91,1489.86 L423.63,1488.62 L424.36,1487.39 L425.10,1486.16 L425.84,1484.94 L426.59,1483.72 L427.35,1482.51 L428.12,1481.31 L428.89,1480.12 L429.68,1478.93 L430.49,1477.75 L431.32,1476.58 L432.16,1475.42 L433.02,1474.27 L433.90,1473.12 L434.78,1471.99 L435.67,1470.87 L436.57,1469.76 L437.48,1468.66 L438.40,1467.57 L439.32,1466.48 L440.26,1465.39 L441.20,1464.31 L442.15,1463.24 L443.11,1462.17 L444.08,1461.10 L445.05,1460.05 L446.04,1459.00 L447.03,1457.96 L448.02,1456.92 L449.03,1455.90 L450.04,1454.88 L451.05,1453.87 L452.07,1452.86 L453.10,1451.87 L454.14,1450.89 L455.18,1449.92 L456.23,1448.95 L457.30,1448.00 L458.37,1447.05 L459.46,1446.11 L460.56,1445.19 L461.66,1444.27 L462.78,1443.37 L463.90,1442.47 L465.03,1441.59 L466.16,1440.72 L467.30,1439.86 L468.45,1439.01 L469.61,1438.16 L470.77,1437.33 L471.94,1436.50 L473.12,1435.69 L474.31,1434.88 L475.50,1434.08 L476.70,1433.30 L477.91,1432.52 L479.12,1431.75 L480.34,1431.00 L481.56,1430.25 L482.79,1429.52 L484.02,1428.80 L485.27,1428.10 L486.52,1427.40 L487.78,1426.72 L489.05,1426.04 L490.32,1425.38 L491.60,1424.73 L492.88,1424.09 L494.16,1423.46 L495.46,1422.85 L496.76,1422.24 L498.06,1421.65 L499.37,1421.07 L500.68,1420.51 L502.00,1419.95 L503.33,1419.40 L504.66,1418.86 L505.99,1418.33 L507.33,1417.81 L508.67,1417.31 L510.02,1416.83 L511.37,1416.37 L512.73,1415.93 L514.09,1415.49 L515.46,1415.06 L516.83,1414.63 L518.20,1414.21 L519.58,1413.80 L520.96,1413.40 L522.34,1413.01 L523.73,1412.64 L525.12,1412.29 L526.51,1411.95 L527.90,1411.63 L529.30,1411.33 L530.69,1411.04 L532.10,1410.77 L533.50,1410.51 L534.91,1410.25 L536.32,1410.00 L537.73,1409.75 L539.15,1409.52 L540.57,1409.30 L541.99,1409.08 L543.41,1408.88 L544.83,1408.69 L546.25,1408.51 L547.68,1408.34 L549.10,1408.19 L550.52,1408.05 L551.94,1407.91 L553.37,1407.79 L554.79,1407.66 L556.22,1407.55 L557.65,1407.44 L559.08,1407.33 L560.51,1407.23 L561.94,1407.13 L563.37,1407.04 L564.80,1406.95 L566.23,1406.87 L567.66,1406.79 L569.09,1406.72 L570.52,1406.65 L571.95,1406.58 L573.38,1406.52 L574.81,1406.46 L576.24,1406.41 L577.67,1406.35 L579.11,1406.30 L580.54,1406.25 L581.97,1406.20 L583.40,1406.15 L584.83,1406.10 L586.26,1406.05 L587.69,1406.00 L589.13,1405.94 L590.56,1405.89 L591.99,1405.84 L593.42,1405.79 L594.85,1405.74 L596.28,1405.69 L597.71,1405.65 L599.14,1405.60 L600.57,1405.55 L602.01,1405.50 L603.44,1405.46 L604.87,1405.42 L606.30,1405.37 L607.73,1405.33 L609.16,1405.29 L610.60,1405.25 L612.03,1405.20 L613.46,1405.16 L614.89,1405.12 L616.32,1405.07 L617.75,1405.03 L619.18,1404.98 L620.61,1404.93 L622.05,1404.88 L623.48,1404.82 L624.91,1404.77 L626.34,1404.71 L627.77,1404.65 L629.20,1404.59 L630.63,1404.53 L632.06,1404.48 L633.49,1404.42 L634.92,1404.36 L636.36,1404.30 L637.79,1404.25 L639.22,1404.20 L640.65,1404.15 L642.08,1404.10 L643.51,1404.05 L644.94,1404.00 L646.37,1403.96 L647.80,1403.91 L649.24,1403.86 L650.67,1403.82 L652.10,1403.78 L653.53,1403.73 L654.96,1403.69 L656.39,1403.64 L657.82,1403.60 L659.26,1403.56 L660.69,1403.52 L662.12,1403.47 L663.55,1403.43 L664.98,1403.39 L666.41,1403.35 L667.84,1403.31 L669.28,1403.27 L670.71,1403.23 L672.14,1403.19 L673.57,1403.15 L675.00,1403.11 L676.43,1403.07 L677.87,1403.02 L679.30,1402.98 L680.73,1402.94 L682.16,1402.90 L683.59,1402.86 L685.02,1402.82 L686.45,1402.78 L687.89,1402.74 L689.32,1402.70 L690.75,1402.66 L692.18,1402.62 L693.61,1402.57 L695.04,1402.53 L696.48,1402.49 L697.91,1402.45 L699.34,1402.40 L700.77,1402.36 L702.20,1402.31 L703.63,1402.26 L705.06,1402.21 L706.49,1402.15 L707.93,1402.10 L709.36,1402.05 L710.79,1402.00 L712.22,1401.96 L713.65,1401.92 L715.08,1401.89 L716.51,1401.87 L717.95,1401.86 L719.38,1401.84 L720.81,1401.83 L722.24,1401.82 L723.67,1401.81 L725.11,1401.80 L726.54,1401.79 L727.97,1401.78 L729.40,1401.77 L730.84,1401.76 L732.27,1401.75 L733.70,1401.74 L735.13,1401.73 L736.56,1401.72 L738.00,1401.71 L739.43,1401.70 L740.86,1401.69 L742.29,1401.67 L743.72,1401.66 L745.16,1401.65 L746.59,1401.64 L748.02,1401.63 L749.45,1401.62 L750.88,1401.61 L752.32,1401.60 L753.75,1401.59 L755.18,1401.58 L756.61,1401.56 L758.04,1401.55 L759.48,1401.54 L760.91,1401.53 L762.34,1401.52 L763.77,1401.51 L765.20,1401.50 L766.64,1401.49 L768.07,1401.48 L769.50,1401.46 L770.93,1401.45 L772.36,1401.44 L773.80,1401.43 L775.23,1401.42 L776.66,1401.41 L778.09,1401.40 L779.52,1401.39 L780.96,1401.38 L782.39,1401.37 L783.82,1401.35 L785.25,1401.34 L786.68,1401.33 L788.12,1401.32 L789.55,1401.31 L790.98,1401.30 L792.41,1401.29 L793.84,1401.28 L795.28,1401.27 L796.71,1401.26 L798.14,1401.24 L799.57,1401.23 L801.01,1401.22 L802.44,1401.21 L803.87,1401.20 L805.30,1401.18 L806.73,1401.17 L808.17,1401.16 L809.60,1401.15 L811.03,1401.14 L812.46,1401.13 L813.89,1401.12 L815.33,1401.12 L816.76,1401.11 L818.19,1401.10 L819.62,1401.10 L821.05,1401.09 L822.49,1401.09 L823.92,1401.08 L825.35,1401.08 L826.78,1401.07 L828.21,1401.07 L829.65,1401.06 L831.08,1401.05 L832.51,1401.04 L833.94,1401.03 L835.37,1401.02 L836.81,1401.01 L838.24,1401.00 L839.67,1400.99 L841.10,1400.97 L842.53,1400.96 L843.97,1400.94 L845.40,1400.93 L846.83,1400.91 L848.26,1400.90 L849.69,1400.88 L851.13,1400.86 L852.56,1400.84 L853.99,1400.83 L855.42,1400.81 L856.85,1400.79 L858.29,1400.77 L859.72,1400.75 L861.15,1400.72 L862.58,1400.70 L864.01,1400.68 L865.44,1400.66 L866.88,1400.63 L868.31,1400.61 L869.74,1400.59 L871.17,1400.56 L872.60,1400.54 L874.04,1400.51 L875.47,1400.49 L876.90,1400.46 L878.33,1400.43 L879.76,1400.41 L881.20,1400.38 L882.63,1400.35 L884.06,1400.32 L885.49,1400.30 L886.92,1400.27 L888.35,1400.24 L889.79,1400.21 L891.22,1400.18 L892.65,1400.15 L894.08,1400.12 L895.51,1400.09 L896.95,1400.06 L898.38,1400.03 L899.81,1400.00 L901.24,1399.97 L902.67,1399.94 L904.10,1399.91 L905.54,1399.87 L906.97,1399.84 L908.40,1399.81 L909.83,1399.78 L911.26,1399.74 L912.70,1399.71 L914.13,1399.68 L915.56,1399.65 L916.99,1399.61 L918.42,1399.58 L919.85,1399.55 L921.29,1399.51 L922.72,1399.48 L924.15,1399.45 L925.58,1399.42 L927.01,1399.38 L928.44,1399.35 L929.88,1399.32 L931.31,1399.28 L932.74,1399.25 L934.17,1399.22 L935.60,1399.18 L937.04,1399.15 L938.47,1399.12 L939.90,1399.08 L941.33,1399.05 L942.76,1399.02 L944.19,1398.98 L945.63,1398.95 L947.06,1398.92 L948.49,1398.88 L949.92,1398.85 L951.35,1398.82 L952.78,1398.79 L954.22,1398.76 L955.65,1398.72 L957.08,1398.69 L958.51,1398.66 L959.94,1398.63 L961.37,1398.60 L962.81,1398.57 L964.24,1398.53 L965.67,1398.50 L967.10,1398.47 L968.53,1398.43 L969.96,1398.40 L971.40,1398.37 L972.83,1398.33 L974.26,1398.30 L975.69,1398.26 L977.12,1398.22 L978.55,1398.19 L979.99,1398.15 L981.42,1398.11 L982.85,1398.08 L984.28,1398.04 L985.71,1398.00 L987.14,1397.96 L988.58,1397.93 L990.01,1397.89 L991.44,1397.85 L992.87,1397.81 L994.30,1397.77 L995.73,1397.73 L997.17,1397.69 L998.60,1397.65 L1000.03,1397.61 L1001.46,1397.57 L1002.89,1397.53 L1004.32,1397.49 L1005.75,1397.45 L1007.19,1397.41 L1008.62,1397.37 L1010.05,1397.33 L1011.48,1397.29 L1012.91,1397.24 L1014.34,1397.20 L1015.78,1397.16 L1017.21,1397.12 L1018.64,1397.08 L1020.07,1397.04 L1021.50,1397.00 L1022.93,1396.95 L1024.36,1396.91 L1025.80,1396.87 L1027.23,1396.83 L1028.66,1396.79 L1030.09,1396.75 L1031.52,1396.70 L1032.95,1396.66 L1034.38,1396.62 L1035.82,1396.58 L1037.25,1396.54 L1038.68,1396.50 L1040.11,1396.46 L1041.54,1396.41 L1042.97,1396.37 L1044.41,1396.33 L1045.84,1396.29 L1047.27,1396.25 L1048.70,1396.21 L1050.13,1396.17 L1051.56,1396.13 L1052.99,1396.09 L1054.43,1396.05 L1055.86,1396.01 L1057.29,1395.97 L1058.72,1395.93 L1060.15,1395.89 L1061.58,1395.85 L1063.02,1395.81 L1064.45,1395.78 L1065.88,1395.74 L1067.31,1395.70 L1068.74,1395.66 L1070.17,1395.62 L1071.61,1395.59 L1073.04,1395.55 L1074.47,1395.51 L1075.90,1395.48 L1077.33,1395.44 L1078.76,1395.41 L1080.19,1395.37 L1081.63,1395.34 L1083.06,1395.30 L1084.49,1395.27 L1085.92,1395.24 L1087.35,1395.20 L1088.78,1395.17 L1090.22,1395.14 L1091.65,1395.11 L1093.08,1395.07 L1094.51,1395.04 L1095.94,1395.01 L1097.37,1394.98 L1098.81,1394.95 L1100.24,1394.93 L1101.67,1394.90 L1103.10,1394.87 L1104.53,1394.84 L1105.97,1394.81 L1107.40,1394.78 L1108.83,1394.75 L1110.26,1394.72 L1111.69,1394.70 L1113.12,1394.67 L1114.56,1394.64 L1115.99,1394.61 L1117.42,1394.58 L1118.85,1394.55 L1120.28,1394.53 L1121.72,1394.50 L1123.15,1394.47 L1124.58,1394.44 L1126.01,1394.41 L1127.44,1394.39 L1128.87,1394.36 L1130.31,1394.33 L1131.74,1394.30 L1133.17,1394.28 L1134.60,1394.25 L1136.03,1394.22 L1137.47,1394.20 L1138.90,1394.17 L1140.33,1394.14 L1141.76,1394.12 L1143.19,1394.09 L1144.62,1394.07 L1146.06,1394.04 L1147.49,1394.01 L1148.92,1393.99 L1150.35,1393.96 L1151.78,1393.94 L1153.22,1393.91 L1154.65,1393.89 L1156.08,1393.87 L1157.51,1393.84 L1158.94,1393.82 L1160.38,1393.79 L1161.81,1393.77 L1163.24,1393.75 L1164.67,1393.73 L1166.10,1393.70 L1167.54,1393.68 L1168.97,1393.66 L1170.40,1393.64 L1171.83,1393.62 L1173.26,1393.60 L1174.70,1393.58 L1176.13,1393.56 L1177.56,1393.54 L1178.99,1393.52 L1180.42,1393.50 L1181.85,1393.48 L1183.29,1393.46 L1184.72,1393.44 L1186.15,1393.42 L1187.58,1393.40 L1189.01,1393.39 L1190.45,1393.37 L1191.88,1393.35 L1193.31,1393.34 L1194.74,1393.32 L1196.17,1393.31 L1197.61,1393.29 L1199.04,1393.28 L1200.47,1393.26 L1201.90,1393.25 L1203.33,1393.24 L1204.77,1393.22 L1206.20,1393.21 L1207.63,1393.20 L1209.06,1393.19 L1210.49,1393.18 L1211.93,1393.17 L1213.36,1393.16 L1214.79,1393.15 L1216.22,1393.14 L1217.65,1393.14 L1219.09,1393.13 L1220.52,1393.13 L1221.95,1393.12 L1223.38,1393.12 L1224.82,1393.12 L1226.25,1393.11 L1227.68,1393.11 L1229.11,1393.10 L1230.54,1393.10 L1231.98,1393.09 L1233.41,1393.09 L1234.84,1393.08 L1236.27,1393.08 L1237.70,1393.07 L1239.14,1393.07 L1240.57,1393.06 L1242.00,1393.06 L1243.43,1393.06 L1244.86,1393.05 L1246.30,1393.05 L1247.73,1393.04 L1249.16,1393.04 L1250.59,1393.03 L1252.02,1393.03 L1253.46,1393.02 L1254.89,1393.02 L1256.32,1393.01 L1257.75,1393.01 L1259.19,1393.00 L1260.62,1393.00 L1262.05,1392.99 L1263.48,1392.99 L1264.91,1392.98 L1266.35,1392.98 L1267.78,1392.97 L1269.21,1392.97 L1270.64,1392.96 L1272.07,1392.96 L1273.51,1392.95 L1274.94,1392.95 L1276.37,1392.95 L1277.80,1392.94 L1279.23,1392.94 L1280.67,1392.93 L1282.10,1392.93 L1283.53,1392.92 L1284.96,1392.92 L1286.39,1392.91 L1287.83,1392.91 L1289.26,1392.90 L1290.69,1392.90 L1292.12,1392.89 L1293.55,1392.89 L1294.99,1392.88 L1296.42,1392.88 L1297.85,1392.87 L1299.28,1392.87 L1300.72,1392.86 L1302.15,1392.86 L1303.58,1392.85 L1305.01,1392.85 L1306.44,1392.85 L1307.88,1392.84 L1309.31,1392.84 L1310.74,1392.83 L1312.17,1392.83 L1313.60,1392.82 L1315.04,1392.82 L1316.47,1392.81 L1317.90,1392.81 L1319.33,1392.80 L1320.76,1392.80 L1322.20,1392.79 L1323.63,1392.79 L1325.06,1392.78 L1326.49,1392.78 L1327.92,1392.77 L1329.36,1392.77 L1330.79,1392.76 L1332.22,1392.76 L1333.65,1392.75 L1335.09,1392.75 L1336.52,1392.74 L1337.95,1392.74 L1339.38,1392.74 L1340.81,1392.73 L1342.25,1392.73 L1343.68,1392.72 L1345.11,1392.72 L1346.54,1392.71 L1347.97,1392.71 L1349.41,1392.70 L1350.84,1392.70 L1352.27,1392.69 L1353.70,1392.69 L1355.13,1392.68 L1356.57,1392.68 L1358.00,1392.67 L1359.43,1392.67 L1360.86,1392.66 L1362.29,1392.66 L1363.73,1392.65 L1365.16,1392.65 L1366.59,1392.64 L1368.02,1392.64 L1369.45,1392.64 L1370.89,1392.63 L1372.32,1392.63 L1373.75,1392.62 L1375.18,1392.62 L1376.62,1392.61 L1378.05,1392.61 L1379.48,1392.60 L1380.91,1392.60 L1382.34,1392.59 L1383.78,1392.59 L1385.21,1392.58 L1386.64,1392.58 L1388.07,1392.57 L1389.50,1392.57 L1390.94,1392.56 L1392.37,1392.56 L1393.80,1392.55 L1395.23,1392.55 L1396.66,1392.54 L1398.10,1392.54 L1399.53,1392.53 L1400.96,1392.53 L1402.39,1392.53 L1403.82,1392.52 L1405.26,1392.52 L1406.69,1392.51 L1408.12,1392.51 L1409.55,1392.50 L1410.99,1392.50 L1412.42,1392.49 L1413.85,1392.49 L1415.28,1392.48 L1416.71,1392.48 L1418.15,1392.47 L1419.58,1392.47 L1421.01,1392.46 L1422.44,1392.46 L1423.87,1392.45 L1425.31,1392.45 L1426.74,1392.44 L1428.17,1392.44 L1429.60,1392.43 L1431.03,1392.43 L1432.47,1392.43 L1433.90,1392.42 L1435.33,1392.42 L1436.76,1392.41 L1438.19,1392.41 L1439.63,1392.40 L1441.06,1392.40 L1442.49,1392.39 L1443.92,1392.39 L1445.35,1392.38 L1446.79,1392.38 L1448.22,1392.37 L1449.65,1392.37 L1451.08,1392.36 L1452.52,1392.36 L1453.95,1392.35 L1455.38,1392.35 L1456.81,1392.34 L1458.24,1392.34 L1459.68,1392.33 L1461.11,1392.33 L1462.54,1392.32 L1463.97,1392.32 L1465.40,1392.32 L1466.84,1392.31 L1468.27,1392.31 L1469.70,1392.30 L1471.13,1392.30 L1472.56,1392.29 L1474.00,1392.29 L1475.43,1392.28 L1476.86,1392.28 L1478.29,1392.27 L1479.72,1392.27 L1481.16,1392.26 L1482.59,1392.26 L1484.02,1392.25 L1485.45,1392.25 L1486.89,1392.24 L1488.32,1392.24 L1489.75,1392.23 L1491.18,1392.23 L1492.61,1392.22 L1494.05,1392.22 L1495.48,1392.21 L1496.91,1392.21 L1498.34,1392.20 L1499.77,1392.20 L1501.21,1392.20 L1502.64,1392.19 L1504.07,1392.19 L1505.50,1392.18 L1506.93,1392.18 L1508.37,1392.17 L1509.80,1392.17 L1511.23,1392.16 L1512.66,1392.16 L1514.09,1392.15 L1515.53,1392.15 L1516.96,1392.14 L1518.39,1392.14 L1519.82,1392.13 L1521.25,1392.13 L1522.69,1392.12 L1524.12,1392.12 L1525.55,1392.11 L1526.98,1392.11 L1528.42,1392.10 L1529.85,1392.10 L1531.28,1392.09 L1532.71,1392.09 L1534.14,1392.08 L1535.58,1392.08 L1537.01,1392.07 L1538.44,1392.07 L1539.87,1392.06 L1541.30,1392.06 L1542.74,1392.05 L1544.17,1392.05 L1545.60,1392.05 L1547.03,1392.04 L1548.46,1392.04 L1549.90,1392.03 L1551.33,1392.03 L1552.76,1392.02 L1554.19,1392.02 L1555.62,1392.01 L1557.06,1392.01 L1558.49,1392.00 L1559.92,1392.00 L1561.35,1391.99 L1562.79,1391.99 L1564.22,1391.98 L1565.65,1391.98 L1567.08,1391.97 L1568.51,1391.97 L1569.95,1391.96 L1571.38,1391.96 L1572.81,1391.95 L1574.24,1391.95 L1575.67,1391.94 L1577.11,1391.94 L1578.54,1391.93 L1579.97,1391.93 L1581.40,1391.92 L1582.83,1391.92 L1584.27,1391.91 L1585.70,1391.91 L1587.13,1391.90 L1588.56,1391.90 L1589.99,1391.89 L1591.43,1391.89 L1592.86,1391.88 L1594.29,1391.88 L1595.72,1391.88 L1597.15,1391.87 L1598.59,1391.87 L1600.02,1391.86 L1601.45,1391.86 L1602.88,1391.85 L1604.32,1391.85 L1605.75,1391.84 L1607.18,1391.84 L1608.61,1391.83 L1610.04,1391.83 L1611.48,1391.82 L1612.91,1391.82 L1614.34,1391.81 L1615.77,1391.81 L1617.20,1391.80 L1618.64,1391.80 L1620.07,1391.79 L1621.50,1391.79 L1622.93,1391.78 L1624.36,1391.78 L1625.80,1391.77 L1627.23,1391.77 L1628.66,1391.76 L1630.09,1391.76 L1631.52,1391.75 L1632.96,1391.75 L1634.39,1391.74 L1635.82,1391.74 L1637.25,1391.73 L1638.69,1391.73 L1640.12,1391.72 L1641.55,1391.72 L1642.98,1391.71 L1644.41,1391.71 L1645.85,1391.71 L1647.28,1391.70 L1648.71,1391.70 L1650.14,1391.69 L1651.57,1391.69 L1653.01,1391.68 L1654.44,1391.68 L1655.87,1391.67 L1657.30,1391.67 L1658.73,1391.66 L1660.17,1391.66 L1661.60,1391.65 L1663.03,1391.65 L1664.46,1391.64 L1665.89,1391.64 L1667.33,1391.63 L1668.76,1391.63 L1670.19,1391.62 L1671.62,1391.62 L1673.05,1391.61 L1674.49,1391.61 L1675.92,1391.60 L1677.35,1391.60 L1678.78,1391.59 L1680.22,1391.59 L1681.65,1391.58 L1683.08,1391.58 L1684.51,1391.57 L1685.94,1391.57 L1687.38,1391.56 L1688.81,1391.56 L1690.24,1391.55 L1691.67,1391.55 L1693.10,1391.54 L1694.54,1391.54 L1695.97,1391.54 L1697.40,1391.53 L1698.83,1391.53 L1700.26,1391.52 L1701.70,1391.52 L1703.13,1391.51 L1704.56,1391.51 L1705.99,1391.50 L1707.42,1391.50 L1708.86,1391.49 L1710.29,1391.49 L1711.72,1391.48 L1713.15,1391.48 L1714.59,1391.47 L1716.02,1391.47 L1717.45,1391.46 L1718.88,1391.46 L1720.31,1391.45 L1721.75,1391.45 L1723.18,1391.44 L1724.61,1391.44 L1726.04,1391.43 L1727.47,1391.43 L1728.91,1391.42 L1730.34,1391.42 L1731.77,1391.41 L1733.20,1391.41 L1734.63,1391.40 L1736.07,1391.40 L1737.50,1391.39 L1738.93,1391.39 L1740.36,1391.38 L1741.79,1391.38 L1743.23,1391.37 L1744.66,1391.37 L1746.09,1391.36 L1747.52,1391.36 L1748.95,1391.36 L1750.39,1391.35 L1751.82,1391.35 L1753.25,1391.34 L1754.68,1391.34 L1756.12,1391.33 L1757.55,1391.33 L1758.98,1391.32 L1760.41,1391.32 L1761.84,1391.31 L1763.28,1391.31 L1764.71,1391.30 L1766.14,1391.30 L1767.57,1391.29 L1769.00,1391.29 L1770.44,1391.28 L1771.87,1391.28 L1773.30,1391.27 L1774.73,1391.27 L1776.16,1391.26 L1777.60,1391.26 L1779.03,1391.25 L1780.46,1391.25 L1781.89,1391.24 L1783.32,1391.24 L1784.76,1391.23 L1786.19,1391.23 L1787.62,1391.22 L1789.05,1391.22 L1790.48,1391.21 L1791.92,1391.21 L1793.35,1391.20 L1794.78,1391.20 L1796.21,1391.19 L1797.65,1391.19 L1799.08,1391.19 L1800.51,1391.18 L1801.94,1391.18 L1803.37,1391.17 L1804.81,1391.17 L1806.24,1391.16 L1807.67,1391.16 L1809.10,1391.15 L1810.53,1391.15 L1811.97,1391.14 L1813.40,1391.14 L1814.83,1391.13 L1816.26,1391.13 L1817.69,1391.12 L1819.13,1391.12 L1820.56,1391.11 L1821.99,1391.11 L1823.42,1391.10 L1824.85,1391.10 L1826.29,1391.09 L1827.72,1391.09 L1829.15,1391.08 L1830.58,1391.08 L1832.02,1391.07 L1833.45,1391.07 L1834.88,1391.06 L1836.31,1391.06 L1837.74,1391.05 L1839.18,1391.05 L1840.61,1391.04 L1842.04,1391.04 L1843.47,1391.03 L1844.90,1391.03 L1846.34,1391.02 L1847.77,1391.02 L1849.20,1391.02 L1850.63,1391.01 L1852.06,1391.01 L1853.50,1391.00 L1854.93,1391.00 L1856.36,1390.99 L1857.79,1390.99 L1859.22,1390.98 L1860.66,1390.98 L1862.09,1390.97 L1863.52,1390.97 L1864.95,1390.96 L1866.38,1390.96 L1867.82,1390.95 L1869.25,1390.95 L1870.68,1390.94 L1872.11,1390.94 L1873.55,1390.93 L1874.98,1390.93 L1876.41,1390.92 L1877.84,1390.92 L1879.27,1390.91 L1880.71,1390.91 L1882.14,1390.90 L1883.57,1390.90 L1885.00,1390.89 L1886.43,1390.89 L1887.87,1390.88 L1889.30,1390.88 L1890.73,1390.87 L1892.16,1390.87 L1893.59,1390.86 L1895.03,1390.86 L1896.46,1390.85 L1897.89,1390.85 L1899.32,1390.85 L1900.75,1390.84 L1902.19,1390.84 L1903.62,1390.83 L1905.05,1390.83 L1906.48,1390.82 L1907.92,1390.82 L1909.35,1390.81 L1910.78,1390.81 L1912.21,1390.80 L1913.64,1390.80 L1915.08,1390.79 L1916.51,1390.79 L1917.94,1390.78 L1919.37,1390.78 L1920.80,1390.77 L1922.24,1390.77 L1923.67,1390.76 L1925.10,1390.76 L1926.53,1390.75 L1927.96,1390.75 L1929.40,1390.74 L1930.83,1390.74 L1932.26,1390.73 L1933.69,1390.73 L1935.12,1390.72 L1936.56,1390.72 L1937.99,1390.71 L1939.42,1390.71 L1940.85,1390.70 L1942.28,1390.70 L1943.72,1390.69 L1945.15,1390.69 L1946.58,1390.68 L1948.01,1390.68 L1949.45,1390.67 L1950.88,1390.67 L1952.31,1390.67 L1953.74,1390.66 L1955.17,1390.66 L1956.61,1390.65 L1958.04,1390.65 L1959.47,1390.64 L1960.90,1390.64 L1962.33,1390.63 L1963.77,1390.63 L1965.20,1390.62 L1966.63,1390.62 L1968.06,1390.61 L1969.49,1390.61 L1970.93,1390.60 L1972.36,1390.60 L1973.79,1390.59 L1975.22,1390.59 L1976.65,1390.58 L1978.09,1390.58 L1979.52,1390.57 L1980.95,1390.57 L1982.38,1390.56 L1983.82,1390.56 L1985.25,1390.55 L1986.68,1390.55 L1988.11,1390.54 L1989.54,1390.54 L1990.98,1390.53 L1992.41,1390.53 L1993.84,1390.52 L1995.27,1390.52 L1996.70,1390.51 L1998.14,1390.51 L1999.57,1390.50 L2001.00,1390.50" stroke="#EDB120"/>
<path d="M224.50,1973.60 L225.94,1973.60 L227.39,1973.60 L228.83,1973.60 L230.29,1973.57 L231.76,1973.46 L233.19,1973.31 L234.52,1973.11 L235.80,1972.71 L237.06,1972.10 L238.28,1971.31 L239.48,1970.40 L240.64,1969.40 L241.77,1968.33 L242.86,1967.26 L243.92,1966.20 L244.93,1965.21 L245.93,1964.22 L246.89,1963.20 L247.84,1962.14 L248.76,1961.05 L249.67,1959.94 L250.56,1958.80 L251.43,1957.64 L252.29,1956.46 L253.14,1955.27 L253.97,1954.07 L254.79,1952.85 L255.60,1951.63 L256.41,1950.41 L257.21,1949.18 L258.00,1947.96 L258.79,1946.75 L259.58,1945.54 L260.36,1944.34 L261.13,1943.13 L261.90,1941.91 L262.65,1940.68 L263.39,1939.44 L264.13,1938.20 L264.86,1936.96 L265.58,1935.71 L266.30,1934.45 L267.01,1933.20 L267.71,1931.94 L268.42,1930.67 L269.12,1929.41 L269.81,1928.14 L270.51,1926.88 L271.20,1925.62 L271.90,1924.35 L272.59,1923.09 L273.27,1921.82 L273.96,1920.55 L274.64,1919.28 L275.31,1918.00 L275.98,1916.73 L276.65,1915.45 L277.31,1914.17 L277.97,1912.89 L278.63,1911.60 L279.28,1910.31 L279.93,1909.03 L280.57,1907.74 L281.21,1906.44 L281.84,1905.15 L282.47,1903.85 L283.10,1902.55 L283.72,1901.25 L284.34,1899.95 L284.95,1898.65 L285.57,1897.34 L286.17,1896.03 L286.77,1894.72 L287.37,1893.40 L287.96,1892.09 L288.54,1890.77 L289.12,1889.45 L289.69,1888.13 L290.26,1886.80 L290.82,1885.48 L291.38,1884.15 L291.93,1882.82 L292.49,1881.49 L293.04,1880.15 L293.58,1878.82 L294.12,1877.48 L294.66,1876.14 L295.20,1874.80 L295.72,1873.46 L296.25,1872.11 L296.77,1870.77 L297.29,1869.42 L297.80,1868.07 L298.30,1866.72 L298.80,1865.37 L299.30,1864.01 L299.79,1862.66 L300.27,1861.30 L300.75,1859.94 L301.22,1858.58 L301.68,1857.22 L302.15,1855.86 L302.61,1854.49 L303.06,1853.12 L303.51,1851.75 L303.96,1850.38 L304.40,1849.01 L304.84,1847.63 L305.27,1846.26 L305.70,1844.88 L306.13,1843.50 L306.55,1842.12 L306.97,1840.74 L307.39,1839.36 L307.80,1837.98 L308.21,1836.59 L308.62,1835.21 L309.02,1833.82 L309.42,1832.44 L309.82,1831.05 L310.21,1829.67 L310.60,1828.28 L310.98,1826.89 L311.36,1825.50 L311.74,1824.11 L312.12,1822.72 L312.49,1821.33 L312.85,1819.93 L313.22,1818.54 L313.58,1817.14 L313.94,1815.75 L314.30,1814.35 L314.65,1812.95 L315.01,1811.55 L315.36,1810.15 L315.71,1808.75 L316.06,1807.35 L316.40,1805.95 L316.75,1804.55 L317.09,1803.15 L317.43,1801.75 L317.78,1800.35 L318.12,1798.95 L318.45,1797.55 L318.79,1796.15 L319.12,1794.75 L319.45,1793.34 L319.78,1791.94 L320.11,1790.53 L320.43,1789.13 L320.76,1787.72 L321.08,1786.32 L321.40,1784.91 L321.72,1783.51 L322.04,1782.10 L322.36,1780.69 L322.67,1779.29 L322.99,1777.88 L323.31,1776.48 L323.63,1775.07 L323.95,1773.66 L324.27,1772.26 L324.59,1770.85 L324.91,1769.45 L325.24,1768.04 L325.56,1766.64 L325.88,1765.23 L326.19,1763.82 L326.51,1762.42 L326.83,1761.01 L327.15,1759.60 L327.46,1758.20 L327.78,1756.79 L328.10,1755.38 L328.42,1753.98 L328.73,1752.57 L329.05,1751.17 L329.37,1749.76 L329.69,1748.35 L330.01,1746.95 L330.34,1745.54 L330.66,1744.14 L330.99,1742.74 L331.32,1741.33 L331.65,1739.93 L331.98,1738.53 L332.31,1737.12 L332.65,1735.72 L332.98,1734.32 L333.32,1732.92 L333.66,1731.51 L334.00,1730.11 L334.34,1728.71 L334.68,1727.31 L335.02,1725.91 L335.36,1724.51 L335.71,1723.11 L336.05,1721.71 L336.40,1720.31 L336.74,1718.91 L337.09,1717.51 L337.44,1716.11 L337.79,1714.71 L338.14,1713.31 L338.49,1711.92 L338.84,1710.52 L339.20,1709.12 L339.55,1707.72 L339.90,1706.33 L340.26,1704.93 L340.62,1703.53 L340.98,1702.14 L341.34,1700.74 L341.70,1699.34 L342.06,1697.95 L342.43,1696.55 L342.79,1695.16 L343.15,1693.76 L343.52,1692.37 L343.89,1690.97 L344.25,1689.58 L344.62,1688.18 L344.99,1686.79 L345.35,1685.40 L345.72,1684.00 L346.09,1682.61 L346.46,1681.22 L346.83,1679.82 L347.20,1678.43 L347.57,1677.03 L347.94,1675.64 L348.31,1674.25 L348.68,1672.86 L349.06,1671.46 L349.43,1670.07 L349.80,1668.68 L350.18,1667.29 L350.55,1665.89 L350.93,1664.50 L351.30,1663.11 L351.68,1661.72 L352.06,1660.33 L352.43,1658.93 L352.81,1657.54 L353.19,1656.15 L353.56,1654.76 L353.94,1653.37 L354.32,1651.98 L354.70,1650.58 L355.08,1649.19 L355.45,1647.80 L355.83,1646.41 L356.21,1645.02 L356.59,1643.63 L356.96,1642.24 L357.34,1640.85 L357.72,1639.45 L358.10,1638.06 L358.48,1636.67 L358.86,1635.28 L359.24,1633.89 L359.62,1632.50 L360.00,1631.11 L360.38,1629.72 L360.76,1628.33 L361.15,1626.94 L361.53,1625.55 L361.92,1624.16 L362.30,1622.77 L362.69,1621.38 L363.08,1619.99 L363.47,1618.60 L363.85,1617.22 L364.24,1615.83 L364.63,1614.44 L365.02,1613.05 L365.41,1611.66 L365.80,1610.28 L366.20,1608.89 L366.59,1607.50 L366.98,1606.11 L367.38,1604.73 L367.77,1603.34 L368.17,1601.95 L368.57,1600.57 L368.96,1599.18 L369.36,1597.80 L369.77,1596.41 L370.17,1595.03 L370.57,1593.64 L370.98,1592.26 L371.39,1590.88 L371.79,1589.50 L372.20,1588.11 L372.62,1586.73 L373.03,1585.35 L373.44,1583.97 L373.86,1582.59 L374.27,1581.21 L374.69,1579.83 L375.11,1578.45 L375.52,1577.07 L375.95,1575.69 L376.37,1574.31 L376.79,1572.93 L377.22,1571.55 L377.64,1570.18 L378.07,1568.80 L378.50,1567.42 L378.94,1566.05 L379.37,1564.67 L379.81,1563.30 L380.25,1561.93 L380.69,1560.55 L381.13,1559.18 L381.58,1557.81 L382.02,1556.44 L382.47,1555.07 L382.92,1553.70 L383.37,1552.33 L383.83,1550.96 L384.28,1549.59 L384.74,1548.23 L385.20,1546.86 L385.66,1545.49 L386.12,1544.13 L386.59,1542.76 L387.06,1541.40 L387.53,1540.04 L388.00,1538.67 L388.47,1537.31 L388.95,1535.95 L389.43,1534.59 L389.91,1533.23 L390.39,1531.87 L390.88,1530.52 L391.37,1529.16 L391.86,1527.81 L392.35,1526.45 L392.84,1525.09 L393.34,1523.74 L393.84,1522.39 L394.34,1521.03 L394.85,1519.68 L395.36,1518.33 L395.88,1516.99 L396.40,1515.64 L396.92,1514.30 L397.45,1512.96 L397.99,1511.62 L398.54,1510.29 L399.09,1508.96 L399.64,1507.63 L400.20,1506.30 L400.76,1504.97 L401.33,1503.65 L401.90,1502.32 L402.47,1501.00 L403.05,1499.68 L403.64,1498.36 L404.23,1497.04 L404.82,1495.73 L405.42,1494.41 L406.02,1493.10 L406.63,1491.79 L407.24,1490.48 L407.86,1489.18 L408.48,1487.88 L409.11,1486.58 L409.74,1485.28 L410.37,1483.99 L411.01,1482.70 L411.66,1481.41 L412.31,1480.13 L412.97,1478.85 L413.64,1477.57 L414.32,1476.30 L415.02,1475.03 L415.72,1473.77 L416.44,1472.52 L417.16,1471.27 L417.90,1470.04 L418.64,1468.80 L419.39,1467.57 L420.14,1466.35 L420.91,1465.12 L421.68,1463.90 L422.46,1462.68 L423.24,1461.47 L424.03,1460.26 L424.83,1459.05 L425.64,1457.85 L426.45,1456.66 L427.27,1455.47 L428.10,1454.29 L428.94,1453.12 L429.78,1451.96 L430.64,1450.80 L431.50,1449.65 L432.37,1448.51 L433.26,1447.37 L434.16,1446.24 L435.08,1445.13 L436.01,1444.02 L436.95,1442.92 L437.90,1441.84 L438.86,1440.77 L439.84,1439.71 L440.82,1438.66 L441.82,1437.62 L442.82,1436.58 L443.84,1435.56 L444.87,1434.55 L445.91,1433.54 L446.96,1432.55 L448.02,1431.57 L449.09,1430.60 L450.17,1429.65 L451.26,1428.71 L452.37,1427.78 L453.49,1426.87 L454.63,1425.99 L455.78,1425.12 L456.94,1424.28 L458.12,1423.44 L459.30,1422.61 L460.49,1421.79 L461.70,1420.99 L462.91,1420.20 L464.13,1419.42 L465.35,1418.66 L466.59,1417.92 L467.83,1417.20 L469.08,1416.50 L470.34,1415.81 L471.61,1415.13 L472.89,1414.46 L474.18,1413.81 L475.48,1413.17 L476.78,1412.54 L478.09,1411.92 L479.40,1411.32 L480.72,1410.73 L482.04,1410.15 L483.37,1409.59 L484.70,1409.04 L486.03,1408.51 L487.37,1407.98 L488.72,1407.45 L490.07,1406.94 L491.43,1406.44 L492.79,1405.96 L494.16,1405.48 L495.53,1405.02 L496.90,1404.58 L498.28,1404.16 L499.65,1403.75 L501.04,1403.36 L502.42,1402.97 L503.81,1402.59 L505.20,1402.21 L506.59,1401.84 L507.99,1401.47 L509.39,1401.10 L510.79,1400.74 L512.20,1400.39 L513.60,1400.05 L515.01,1399.72 L516.42,1399.39 L517.84,1399.08 L519.25,1398.78 L520.67,1398.49 L522.08,1398.21 L523.50,1397.94 L524.92,1397.69 L526.34,1397.45 L527.76,1397.23 L529.18,1397.03 L530.60,1396.84 L532.02,1396.65 L533.45,1396.46 L534.87,1396.28 L536.30,1396.10 L537.73,1395.93 L539.16,1395.75 L540.59,1395.58 L542.02,1395.41 L543.46,1395.25 L544.89,1395.09 L546.33,1394.94 L547.77,1394.79 L549.21,1394.65 L550.65,1394.51 L552.09,1394.37 L553.53,1394.25 L554.97,1394.12 L556.41,1394.01 L557.85,1393.90 L559.29,1393.80 L560.73,1393.70 L562.17,1393.61 L563.61,1393.53 L565.05,1393.46 L566.49,1393.40 L567.93,1393.34 L569.37,1393.29 L570.81,1393.25 L572.25,1393.21 L573.69,1393.18 L575.13,1393.14 L576.57,1393.10 L578.01,1393.07 L579.45,1393.03 L580.89,1393.00 L582.34,1392.97 L583.78,1392.94 L585.22,1392.91 L586.66,1392.89 L588.11,1392.86 L589.55,1392.84 L590.99,1392.82 L592.43,1392.81 L593.88,1392.79 L595.32,1392.78 L596.76,1392.78 L598.20,1392.77 L599.64,1392.77 L601.09,1392.77 L602.53,1392.77 L603.97,1392.78 L605.41,1392.78 L606.85,1392.79 L608.29,1392.80 L609.74,1392.81 L611.18,1392.82 L612.62,1392.82 L614.06,1392.83 L615.50,1392.84 L616.94,1392.84 L618.39,1392.85 L619.83,1392.85 L621.27,1392.85 L622.71,1392.85 L624.15,1392.85 L625.60,1392.84 L627.04,1392.84 L628.48,1392.83 L629.92,1392.83 L631.36,1392.82 L632.80,1392.82 L634.25,1392.81 L635.69,1392.80 L637.13,1392.80 L638.57,1392.79 L640.01,1392.78 L641.45,1392.78 L642.90,1392.77 L644.34,1392.76 L645.78,1392.75 L647.22,1392.74 L648.66,1392.73 L650.10,1392.71 L651.55,1392.70 L652.99,1392.69 L654.43,1392.68 L655.87,1392.67 L657.31,1392.66 L658.76,1392.64 L660.20,1392.63 L661.64,1392.62 L663.08,1392.61 L664.52,1392.60 L665.96,1392.58 L667.41,1392.57 L668.85,1392.56 L670.29,1392.55 L671.73,1392.54 L673.17,1392.52 L674.61,1392.51 L676.06,1392.50 L677.50,1392.49 L678.94,1392.47 L680.38,1392.46 L681.82,1392.45 L683.26,1392.44 L684.71,1392.43 L686.15,1392.42 L687.59,1392.41 L689.03,1392.40 L690.47,1392.39 L691.91,1392.38 L693.36,1392.37 L694.80,1392.36 L696.24,1392.35 L697.68,1392.34 L699.12,1392.33 L700.56,1392.32 L702.01,1392.30 L703.45,1392.29 L704.89,1392.27 L706.33,1392.25 L707.77,1392.23 L709.21,1392.21 L710.66,1392.19 L712.10,1392.16 L713.54,1392.14 L714.98,1392.13 L716.42,1392.11 L717.86,1392.09 L719.31,1392.07 L720.75,1392.06 L722.19,1392.04 L723.63,1392.02 L725.07,1392.01 L726.51,1391.99 L727.96,1391.97 L729.40,1391.96 L730.84,1391.94 L732.28,1391.92 L733.72,1391.91 L735.16,1391.89 L736.61,1391.87 L738.05,1391.86 L739.49,1391.84 L740.93,1391.82 L742.37,1391.81 L743.81,1391.79 L745.26,1391.77 L746.70,1391.75 L748.14,1391.74 L749.58,1391.72 L751.02,1391.70 L752.46,1391.68 L753.91,1391.66 L755.35,1391.65 L756.79,1391.63 L758.23,1391.61 L759.67,1391.59 L761.11,1391.57 L762.56,1391.56 L764.00,1391.54 L765.44,1391.52 L766.88,1391.50 L768.32,1391.49 L769.76,1391.47 L771.21,1391.45 L772.65,1391.44 L774.09,1391.42 L775.53,1391.40 L776.97,1391.38 L778.41,1391.36 L779.86,1391.35 L781.30,1391.33 L782.74,1391.31 L784.18,1391.29 L785.62,1391.27 L787.06,1391.25 L788.51,1391.23 L789.95,1391.21 L791.39,1391.20 L792.83,1391.18 L794.27,1391.16 L795.71,1391.14 L797.16,1391.12 L798.60,1391.10 L800.04,1391.09 L801.48,1391.07 L802.92,1391.05 L804.36,1391.03 L805.81,1391.01 L807.25,1390.99 L808.69,1390.97 L810.13,1390.96 L811.57,1390.94 L813.01,1390.92 L814.46,1390.90 L815.90,1390.88 L817.34,1390.86 L818.78,1390.84 L820.22,1390.83 L821.66,1390.81 L823.11,1390.79 L824.55,1390.77 L825.99,1390.75 L827.43,1390.73 L828.87,1390.71 L830.31,1390.70 L831.75,1390.68 L833.20,1390.66 L834.64,1390.64 L836.08,1390.62 L837.52,1390.60 L838.96,1390.58 L840.40,1390.57 L841.85,1390.55 L843.29,1390.53 L844.73,1390.51 L846.17,1390.49 L847.61,1390.47 L849.05,1390.46 L850.50,1390.44 L851.94,1390.42 L853.38,1390.40 L854.82,1390.38 L856.26,1390.36 L857.70,1390.34 L859.15,1390.33 L860.59,1390.31 L862.03,1390.29 L863.47,1390.27 L864.91,1390.25 L866.35,1390.23 L867.80,1390.21 L869.24,1390.20 L870.68,1390.18 L872.12,1390.16 L873.56,1390.14 L875.00,1390.12 L876.45,1390.11 L877.89,1390.09 L879.33,1390.07 L880.77,1390.05 L882.21,1390.03 L883.65,1390.01 L885.10,1389.99 L886.54,1389.97 L887.98,1389.94 L889.42,1389.91 L890.86,1389.88 L892.30,1389.85 L893.74,1389.82 L895.19,1389.80 L896.63,1389.77 L898.07,1389.74 L899.51,1389.72 L900.95,1389.70 L902.39,1389.68 L903.84,1389.66 L905.28,1389.63 L906.72,1389.61 L908.16,1389.59 L909.60,1389.57 L911.04,1389.55 L912.49,1389.54 L913.93,1389.52 L915.37,1389.50 L916.81,1389.48 L918.25,1389.46 L919.69,1389.44 L921.13,1389.43 L922.58,1389.41 L924.02,1389.39 L925.46,1389.38 L926.90,1389.36 L928.34,1389.34 L929.79,1389.33 L931.23,1389.31 L932.67,1389.29 L934.11,1389.28 L935.55,1389.26 L936.99,1389.25 L938.44,1389.23 L939.88,1389.22 L941.32,1389.20 L942.76,1389.19 L944.20,1389.18 L945.64,1389.16 L947.09,1389.15 L948.53,1389.13 L949.97,1389.12 L951.41,1389.11 L952.85,1389.09 L954.29,1389.08 L955.74,1389.06 L957.18,1389.05 L958.62,1389.04 L960.06,1389.03 L961.50,1389.01 L962.94,1389.00 L964.39,1388.99 L965.83,1388.97 L967.27,1388.96 L968.71,1388.95 L970.15,1388.93 L971.60,1388.92 L973.04,1388.91 L974.48,1388.90 L975.92,1388.88 L977.36,1388.87 L978.80,1388.86 L980.25,1388.84 L981.69,1388.83 L983.13,1388.82 L984.57,1388.81 L986.01,1388.79 L987.45,1388.78 L988.90,1388.77 L990.34,1388.75 L991.78,1388.74 L993.22,1388.73 L994.66,1388.71 L996.10,1388.70 L997.55,1388.69 L998.99,1388.67 L1000.43,1388.66 L1001.87,1388.64 L1003.31,1388.63 L1004.76,1388.61 L1006.20,1388.60 L1007.64,1388.59 L1009.08,1388.57 L1010.52,1388.56 L1011.96,1388.54 L1013.41,1388.53 L1014.85,1388.51 L1016.29,1388.49 L1017.73,1388.48 L1019.17,1388.46 L1020.61,1388.45 L1022.06,1388.43 L1023.50,1388.41 L1024.94,1388.40 L1026.38,1388.38 L1027.82,1388.36 L1029.26,1388.34 L1030.71,1388.33 L1032.15,1388.31 L1033.59,1388.29 L1035.03,1388.27 L1036.47,1388.25 L1037.91,1388.23 L1039.35,1388.21 L1040.80,1388.19 L1042.24,1388.17 L1043.68,1388.15 L1045.12,1388.13 L1046.56,1388.11 L1048.00,1388.09 L1049.45,1388.07 L1050.89,1388.05 L1052.33,1388.02 L1053.77,1388.00 L1055.21,1387.98 L1056.65,1387.95 L1058.09,1387.93 L1059.54,1387.91 L1060.98,1387.88 L1062.42,1387.85 L1063.86,1387.81 L1065.30,1387.77 L1066.74,1387.72 L1068.18,1387.68 L1069.63,1387.64 L1071.07,1387.60 L1072.51,1387.57 L1073.95,1387.54 L1075.39,1387.52 L1076.83,1387.51 L1078.27,1387.50 L1079.72,1387.49 L1081.16,1387.49 L1082.60,1387.48 L1084.04,1387.47 L1085.48,1387.47 L1086.92,1387.46 L1088.37,1387.46 L1089.81,1387.45 L1091.25,1387.44 L1092.69,1387.44 L1094.13,1387.43 L1095.58,1387.42 L1097.02,1387.41 L1098.46,1387.41 L1099.90,1387.40 L1101.34,1387.39 L1102.78,1387.39 L1104.23,1387.38 L1105.67,1387.37 L1107.11,1387.36 L1108.55,1387.36 L1109.99,1387.35 L1111.43,1387.34 L1112.88,1387.34 L1114.32,1387.33 L1115.76,1387.32 L1117.20,1387.31 L1118.64,1387.31 L1120.08,1387.30 L1121.53,1387.29 L1122.97,1387.29 L1124.41,1387.28 L1125.85,1387.27 L1127.29,1387.26 L1128.74,1387.26 L1130.18,1387.25 L1131.62,1387.24 L1133.06,1387.23 L1134.50,1387.23 L1135.94,1387.22 L1137.39,1387.21 L1138.83,1387.21 L1140.27,1387.20 L1141.71,1387.19 L1143.15,1387.18 L1144.59,1387.18 L1146.04,1387.17 L1147.48,1387.16 L1148.92,1387.16 L1150.36,1387.15 L1151.80,1387.14 L1153.24,1387.13 L1154.69,1387.13 L1156.13,1387.12 L1157.57,1387.11 L1159.01,1387.10 L1160.45,1387.10 L1161.90,1387.09 L1163.34,1387.08 L1164.78,1387.08 L1166.22,1387.07 L1167.66,1387.06 L1169.10,1387.05 L1170.55,1387.05 L1171.99,1387.04 L1173.43,1387.03 L1174.87,1387.02 L1176.31,1387.01 L1177.75,1387.00 L1179.20,1386.99 L1180.64,1386.99 L1182.08,1386.98 L1183.52,1386.98 L1184.96,1386.98 L1186.41,1386.98 L1187.85,1386.98 L1189.29,1386.98 L1190.73,1386.98 L1192.17,1386.98 L1193.61,1386.98 L1195.06,1386.98 L1196.50,1386.98 L1197.94,1386.98 L1199.38,1386.98 L1200.82,1386.98 L1202.26,1386.98 L1203.71,1386.97 L1205.15,1386.96 L1206.59,1386.95 L1208.03,1386.93 L1209.47,1386.92 L1210.91,1386.91 L1212.36,1386.90 L1213.80,1386.90 L1215.24,1386.89 L1216.68,1386.89 L1218.12,1386.89 L1219.57,1386.89 L1221.01,1386.89 L1222.45,1386.89 L1223.89,1386.89 L1225.33,1386.89 L1226.77,1386.89 L1228.22,1386.89 L1229.66,1386.89 L1231.10,1386.89 L1232.54,1386.89 L1233.98,1386.89 L1235.42,1386.89 L1236.87,1386.89 L1238.31,1386.89 L1239.75,1386.89 L1241.19,1386.88 L1242.63,1386.88 L1244.08,1386.88 L1245.52,1386.88 L1246.96,1386.88 L1248.40,1386.88 L1249.84,1386.88 L1251.28,1386.88 L1252.73,1386.88 L1254.17,1386.88 L1255.61,1386.88 L1257.05,1386.88 L1258.49,1386.88 L1259.93,1386.88 L1261.38,1386.88 L1262.82,1386.88 L1264.26,1386.88 L1265.70,1386.88 L1267.14,1386.87 L1268.59,1386.87 L1270.03,1386.87 L1271.47,1386.87 L1272.91,1386.87 L1274.35,1386.87 L1275.79,1386.87 L1277.24,1386.87 L1278.68,1386.87 L1280.12,1386.87 L1281.56,1386.87 L1283.00,1386.87 L1284.44,1386.87 L1285.89,1386.87 L1287.33,1386.87 L1288.77,1386.87 L1290.21,1386.87 L1291.65,1386.87 L1293.10,1386.87 L1294.54,1386.86 L1295.98,1386.86 L1297.42,1386.86 L1298.86,1386.86 L1300.30,1386.86 L1301.75,1386.86 L1303.19,1386.86 L1304.63,1386.86 L1306.07,1386.86 L1307.51,1386.86 L1308.95,1386.86 L1310.40,1386.86 L1311.84,1386.86 L1313.28,1386.86 L1314.72,1386.86 L1316.16,1386.86 L1317.61,1386.86 L1319.05,1386.86 L1320.49,1386.85 L1321.93,1386.85 L1323.37,1386.85 L1324.81,1386.85 L1326.26,1386.85 L1327.70,1386.85 L1329.14,1386.85 L1330.58,1386.85 L1332.02,1386.85 L1333.46,1386.85 L1334.91,1386.85 L1336.35,1386.85 L1337.79,1386.85 L1339.23,1386.85 L1340.67,1386.85 L1342.12,1386.85 L1343.56,1386.85 L1345.00,1386.85 L1346.44,1386.85 L1347.88,1386.84 L1349.32,1386.84 L1350.77,1386.84 L1352.21,1386.84 L1353.65,1386.84 L1355.09,1386.84 L1356.53,1386.84 L1357.97,1386.84 L1359.42,1386.84 L1360.86,1386.84 L1362.30,1386.84 L1363.74,1386.84 L1365.18,1386.84 L1366.62,1386.84 L1368.07,1386.84 L1369.51,1386.84 L1370.95,1386.84 L1372.39,1386.84 L1373.83,1386.83 L1375.28,1386.83 L1376.72,1386.83 L1378.16,1386.83 L1379.60,1386.83 L1381.04,1386.83 L1382.48,1386.83 L1383.93,1386.83 L1385.37,1386.83 L1386.81,1386.83 L1388.25,1386.83 L1389.69,1386.83 L1391.13,1386.83 L1392.58,1386.83 L1394.02,1386.83 L1395.46,1386.83 L1396.90,1386.83 L1398.34,1386.83 L1399.79,1386.83 L1401.23,1386.82 L1402.67,1386.82 L1404.11,1386.82 L1405.55,1386.82 L1406.99,1386.82 L1408.44,1386.82 L1409.88,1386.82 L1411.32,1386.82 L1412.76,1386.82 L1414.20,1386.82 L1415.64,1386.82 L1417.09,1386.82 L1418.53,1386.82 L1419.97,1386.82 L1421.41,1386.82 L1422.85,1386.82 L1424.30,1386.82 L1425.74,1386.82 L1427.18,1386.81 L1428.62,1386.81 L1430.06,1386.81 L1431.50,1386.81 L1432.95,1386.81 L1434.39,1386.81 L1435.83,1386.81 L1437.27,1386.81 L1438.71,1386.81 L1440.15,1386.81 L1441.60,1386.81 L1443.04,1386.81 L1444.48,1386.81 L1445.92,1386.81 L1447.36,1386.81 L1448.81,1386.81 L1450.25,1386.81 L1451.69,1386.81 L1453.13,1386.81 L1454.57,1386.80 L1456.01,1386.80 L1457.46,1386.80 L1458.90,1386.80 L1460.34,1386.80 L1461.78,1386.80 L1463.22,1386.80 L1464.66,1386.80 L1466.11,1386.80 L1467.55,1386.80 L1468.99,1386.80 L1470.43,1386.80 L1471.87,1386.80 L1473.32,1386.80 L1474.76,1386.80 L1476.20,1386.80 L1477.64,1386.80 L1479.08,1386.80 L1480.52,1386.79 L1481.97,1386.79 L1483.41,1386.79 L1484.85,1386.79 L1486.29,1386.79 L1487.73,1386.79 L1489.17,1386.79 L1490.62,1386.79 L1492.06,1386.79 L1493.50,1386.79 L1494.94,1386.79 L1496.38,1386.79 L1497.83,1386.79 L1499.27,1386.79 L1500.71,1386.79 L1502.15,1386.79 L1503.59,1386.79 L1505.03,1386.79 L1506.48,1386.79 L1507.92,1386.78 L1509.36,1386.78 L1510.80,1386.78 L1512.24,1386.78 L1513.68,1386.78 L1515.13,1386.78 L1516.57,1386.78 L1518.01,1386.78 L1519.45,1386.78 L1520.89,1386.78 L1522.34,1386.78 L1523.78,1386.78 L1525.22,1386.78 L1526.66,1386.78 L1528.10,1386.78 L1529.54,1386.78 L1530.99,1386.78 L1532.43,1386.78 L1533.87,1386.77 L1535.31,1386.77 L1536.75,1386.77 L1538.19,1386.77 L1539.64,1386.77 L1541.08,1386.77 L1542.52,1386.77 L1543.96,1386.77 L1545.40,1386.77 L1546.85,1386.77 L1548.29,1386.77 L1549.73,1386.77 L1551.17,1386.77 L1552.61,1386.77 L1554.05,1386.77 L1555.50,1386.77 L1556.94,1386.77 L1558.38,1386.77 L1559.82,1386.77 L1561.26,1386.76 L1562.70,1386.76 L1564.15,1386.76 L1565.59,1386.76 L1567.03,1386.76 L1568.47,1386.76 L1569.91,1386.76 L1571.36,1386.76 L1572.80,1386.76 L1574.24,1386.76 L1575.68,1386.76 L1577.12,1386.76 L1578.56,1386.76 L1580.01,1386.76 L1581.45,1386.76 L1582.89,1386.76 L1584.33,1386.76 L1585.77,1386.76 L1587.21,1386.75 L1588.66,1386.75 L1590.10,1386.75 L1591.54,1386.75 L1592.98,1386.75 L1594.42,1386.75 L1595.87,1386.75 L1597.31,1386.75 L1598.75,1386.75 L1600.19,1386.75 L1601.63,1386.75 L1603.07,1386.75 L1604.52,1386.75 L1605.96,1386.75 L1607.40,1386.75 L1608.84,1386.75 L1610.28,1386.75 L1611.72,1386.75 L1613.17,1386.75 L1614.61,1386.74 L1616.05,1386.74 L1617.49,1386.74 L1618.93,1386.74 L1620.37,1386.74 L1621.82,1386.74 L1623.26,1386.74 L1624.70,1386.74 L1626.14,1386.74 L1627.58,1386.74 L1629.03,1386.74 L1630.47,1386.74 L1631.91,1386.74 L1633.35,1386.74 L1634.79,1386.74 L1636.23,1386.74 L1637.68,1386.74 L1639.12,1386.74 L1640.56,1386.73 L1642.00,1386.73 L1643.44,1386.73 L1644.88,1386.73 L1646.33,1386.73 L1647.77,1386.73 L1649.21,1386.73 L1650.65,1386.73 L1652.09,1386.73 L1653.54,1386.73 L1654.98,1386.73 L1656.42,1386.73 L1657.86,1386.73 L1659.30,1386.73 L1660.74,1386.73 L1662.19,1386.73 L1663.63,1386.73 L1665.07,1386.73 L1666.51,1386.73 L1667.95,1386.72 L1669.39,1386.72 L1670.84,1386.72 L1672.28,1386.72 L1673.72,1386.72 L1675.16,1386.72 L1676.60,1386.72 L1678.05,1386.72 L1679.49,1386.72 L1680.93,1386.72 L1682.37,1386.72 L1683.81,1386.72 L1685.25,1386.72 L1686.70,1386.72 L1688.14,1386.72 L1689.58,1386.72 L1691.02,1386.72 L1692.46,1386.72 L1693.90,1386.72 L1695.35,1386.71 L1696.79,1386.71 L1698.23,1386.71 L1699.67,1386.71 L1701.11,1386.71 L1702.56,1386.71 L1704.00,1386.71 L1705.44,1386.71 L1706.88,1386.71 L1708.32,1386.71 L1709.76,1386.71 L1711.21,1386.71 L1712.65,1386.71 L1714.09,1386.71 L1715.53,1386.71 L1716.97,1386.71 L1718.41,1386.71 L1719.86,1386.71 L1721.30,1386.70 L1722.74,1386.70 L1724.18,1386.70 L1725.62,1386.70 L1727.07,1386.70 L1728.51,1386.70 L1729.95,1386.70 L1731.39,1386.70 L1732.83,1386.70 L1734.27,1386.70 L1735.72,1386.70 L1737.16,1386.70 L1738.60,1386.70 L1740.04,1386.70 L1741.48,1386.70 L1742.92,1386.70 L1744.37,1386.70 L1745.81,1386.70 L1747.25,1386.70 L1748.69,1386.69 L1750.13,1386.69 L1751.58,1386.69 L1753.02,1386.69 L1754.46,1386.69 L1755.90,1386.69 L1757.34,1386.69 L1758.78,1386.69 L1760.23,1386.69 L1761.67,1386.69 L1763.11,1386.69 L1764.55,1386.69 L1765.99,1386.69 L1767.43,1386.69 L1768.88,1386.69 L1770.32,1386.69 L1771.76,1386.69 L1773.20,1386.69 L1774.64,1386.68 L1776.09,1386.68 L1777.53,1386.68 L1778.97,1386.68 L1780.41,1386.68 L1781.85,1386.68 L1783.29,1386.68 L1784.74,1386.68 L1786.18,1386.68 L1787.62,1386.68 L1789.06,1386.68 L1790.50,1386.68 L1791.94,1386.68 L1793.39,1386.68 L1794.83,1386.68 L1796.27,1386.68 L1797.71,1386.68 L1799.15,1386.68 L1800.60,1386.68 L1802.04,1386.67 L1803.48,1386.67 L1804.92,1386.67 L1806.36,1386.67 L1807.80,1386.67 L1809.25,1386.67 L1810.69,1386.67 L1812.13,1386.67 L1813.57,1386.67 L1815.01,1386.67 L1816.45,1386.67 L1817.90,1386.67 L1819.34,1386.67 L1820.78,1386.67 L1822.22,1386.67 L1823.66,1386.67 L1825.11,1386.67 L1826.55,1386.67 L1827.99,1386.66 L1829.43,1386.66 L1830.87,1386.66 L1832.31,1386.66 L1833.76,1386.66 L1835.20,1386.66 L1836.64,1386.66 L1838.08,1386.66 L1839.52,1386.66 L1840.96,1386.66 L1842.41,1386.66 L1843.85,1386.66 L1845.29,1386.66 L1846.73,1386.66 L1848.17,1386.66 L1849.62,1386.66 L1851.06,1386.66 L1852.50,1386.66 L1853.94,1386.66 L1855.38,1386.65 L1856.82,1386.65 L1858.27,1386.65 L1859.71,1386.65 L1861.15,1386.65 L1862.59,1386.65 L1864.03,1386.65 L1865.47,1386.65 L1866.92,1386.65 L1868.36,1386.65 L1869.80,1386.65 L1871.24,1386.65 L1872.68,1386.65 L1874.12,1386.65 L1875.57,1386.65 L1877.01,1386.65 L1878.45,1386.65 L1879.89,1386.65 L1881.33,1386.64 L1882.78,1386.64 L1884.22,1386.64 L1885.66,1386.64 L1887.10,1386.64 L1888.54,1386.64 L1889.98,1386.64 L1891.43,1386.64 L1892.87,1386.64 L1894.31,1386.64 L1895.75,1386.64 L1897.19,1386.64 L1898.63,1386.64 L1900.08,1386.64 L1901.52,1386.64 L1902.96,1386.64 L1904.40,1386.64 L1905.84,1386.64 L1907.29,1386.64 L1908.73,1386.63 L1910.17,1386.63 L1911.61,1386.63 L1913.05,1386.63 L1914.49,1386.63 L1915.94,1386.63 L1917.38,1386.63 L1918.82,1386.63 L1920.26,1386.63 L1921.70,1386.63 L1923.14,1386.63 L1924.59,1386.63 L1926.03,1386.63 L1927.47,1386.63 L1928.91,1386.63 L1930.35,1386.63 L1931.80,1386.63 L1933.24,1386.63 L1934.68,1386.62 L1936.12,1386.62 L1937.56,1386.62 L1939.00,1386.62 L1940.45,1386.62 L1941.89,1386.62 L1943.33,1386.62 L1944.77,1386.62 L1946.21,1386.62 L1947.65,1386.62 L1949.10,1386.62 L1950.54,1386.62 L1951.98,1386.62 L1953.42,1386.62 L1954.86,1386.62 L1956.31,1386.62 L1957.75,1386.62 L1959.19,1386.62 L1960.63,1386.62 L1962.07,1386.61 L1963.51,1386.61 L1964.96,1386.61 L1966.40,1386.61 L1967.84,1386.61 L1969.28,1386.61 L1970.72,1386.61 L1972.16,1386.61 L1973.61,1386.61 L1975.05,1386.61 L1976.49,1386.61 L1977.93,1386.61 L1979.37,1386.61 L1980.82,1386.61 L1982.26,1386.61 L1983.70,1386.61 L1985.14,1386.61 L1986.58,1386.61 L1988.02,1386.60 L1989.47,1386.60 L1990.91,1386.60 L1992.35,1386.60 L1993.79,1386.60 L1995.23,1386.60 L1996.67,1386.60 L1998.12,1386.60 L1999.56,1386.60 L2001.00,1386.60" stroke="#7E2F8E"/>
</g>
<rect x="1358" y="1436" width="611" height="288.70000000000005" fill="#fff" stroke="#262626" stroke-width="2"/>
<line x1="1368" y1="1475.3" x2="1471" y2="1475.3" stroke="#0072BD" stroke-width="6.2"/>
<text x="1478.5" y="1497.7" font-family="Liberation Serif, Times New Roman, serif" font-size="62" fill="#000">Sonar 1</text>
<line x1="1368" y1="1545.5" x2="1471" y2="1545.5" stroke="#D95319" stroke-width="6.2"/>
<text x="1478.5" y="1567.9" font-family="Liberation Serif, Times New Roman, serif" font-size="62" fill="#000">Sonar 2</text>
<line x1="1368" y1="1615.8" x2="1471" y2="1615.8" stroke="#EDB120" stroke-width="6.2"/>
<text x="1478.5" y="1638.2" font-family="Liberation Serif, Times New Roman, serif" font-size="62" fill="#000">Sonar 3</text>
<line x1="1368" y1="1686.0" x2="1471" y2="1686.0" stroke="#7E2F8E" stroke-width="6.2"/>
<text x="1478.5" y="1708.4" font-family="Liberation Serif, Times New Roman, serif" font-size="62" fill="#000">Multi-sonar system</text>
<g font-family="Liberation Serif, Times New Roman, serif" fill="#262626" font-size="70.5">
<text x="466.97" y="2058.4" text-anchor="middle">50</text>
<text x="714.40" y="2058.4" text-anchor="middle">100</text>
<text x="961.82" y="2058.4" text-anchor="middle">150</text>
<text x="1209.25" y="2058.4" text-anchor="middle">200</text>
<text x="1456.67" y="2058.4" text-anchor="middle">250</text>
<text x="1704.09" y="2058.4" text-anchor="middle">300</text>
<text x="1951.52" y="2058.4" text-anchor="middle">350</text>
<text x="203.5" y="1998.7" text-anchor="end">0</text>
<text x="198.9" y="1705.2" text-anchor="end" letter-spacing="-2">0.5</text>
<text x="202.5" y="1411.7" text-anchor="end">1</text>
</g>
<g font-family="Liberation Serif, Times New Roman, serif" fill="#262626" font-size="75.7">
<text x="1113.3" y="2143.8" text-anchor="middle">Time</text>
<text transform="translate(92.8,1680.7) rotate(-90)" text-anchor="middle">Cumulative detection probability</text>
</g>
<g font-family="Liberation Serif, Times New Roman, serif" fill="#000" font-size="75.7" text-anchor="middle">
<text x="1112.8" y="1282.5">Cumulative detection probability curve</text>
<text x="1112.8" y="1369.4">under Multi-base working mode of sonar</text>
</g>
</svg>
</body></html>
